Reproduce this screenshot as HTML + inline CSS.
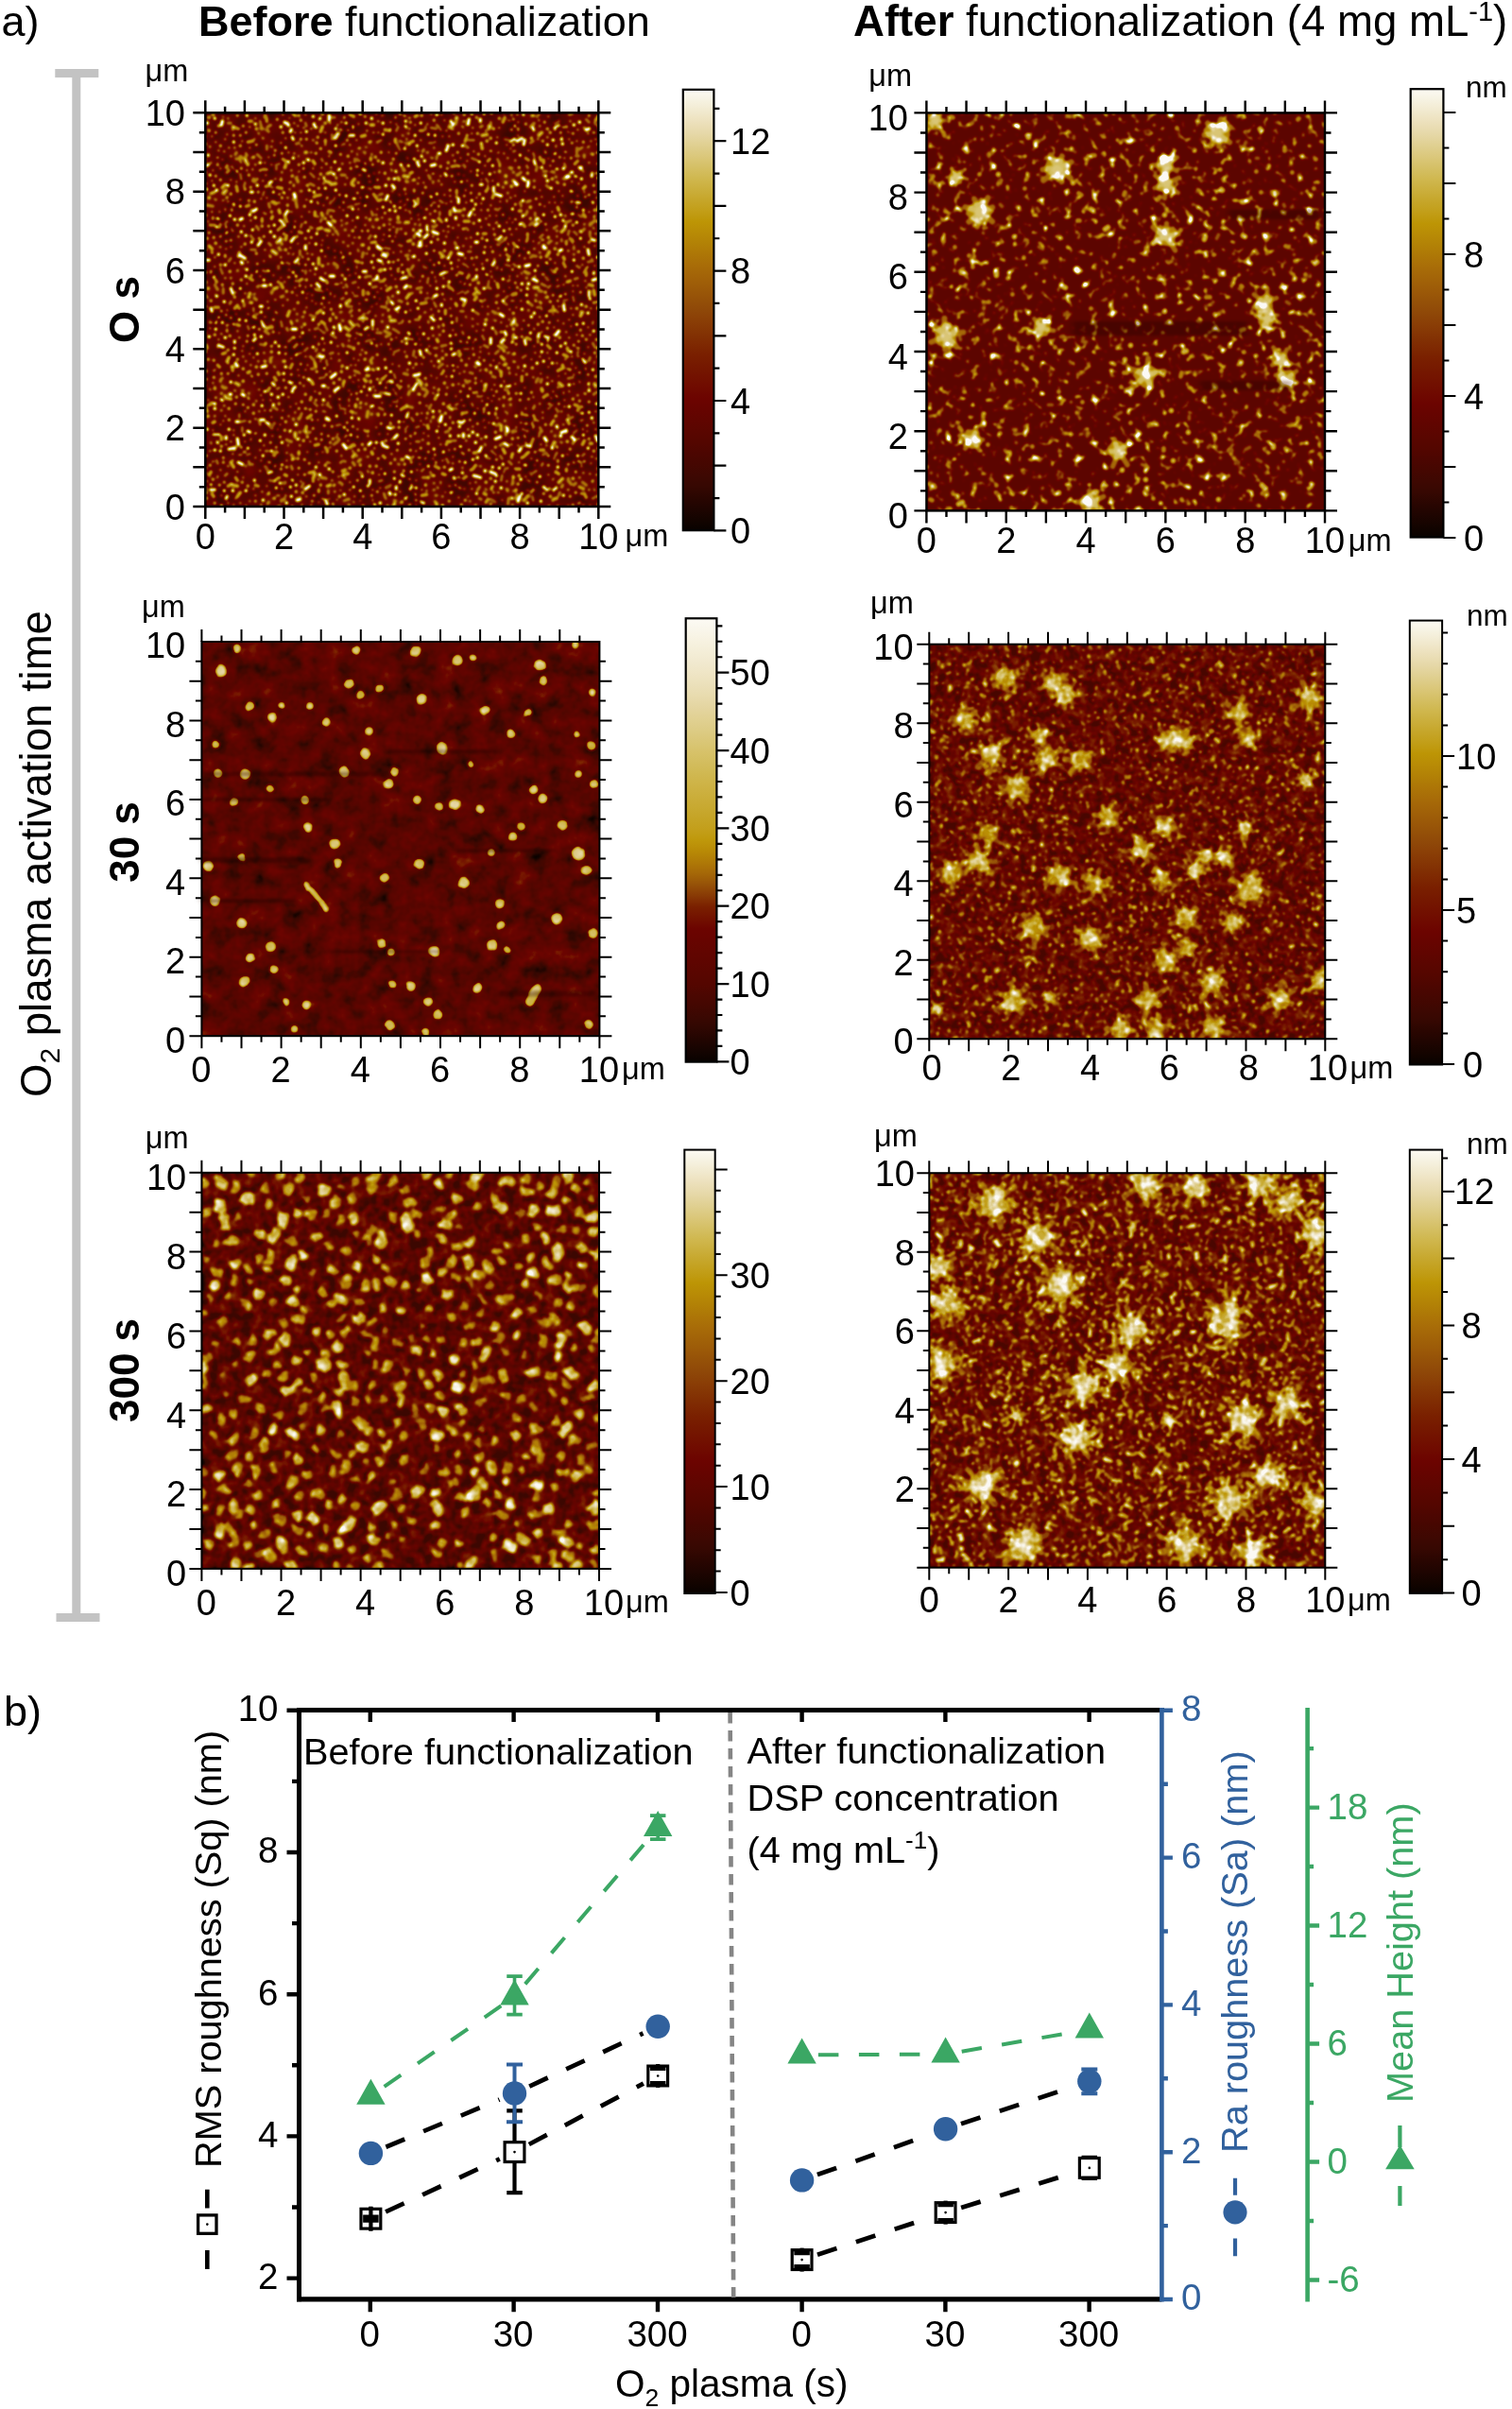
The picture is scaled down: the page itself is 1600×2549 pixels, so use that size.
<!DOCTYPE html><html><head><meta charset="utf-8"><title>AFM figure</title><style>html,body{margin:0;padding:0;background:#fff}svg{display:block}</style></head><body>
<svg width="1600" height="2549" viewBox="0 0 1600 2549" font-family="Liberation Sans, Arial, sans-serif">
<rect width="1600" height="2549" fill="#fff"/>
<filter id="sb" x="-5%" y="-50%" width="110%" height="200%"><feGaussianBlur stdDeviation="3 1.6"/></filter>
<text x="1.5" y="37.5" font-size="45" text-anchor="start" font-weight="normal" fill="#000" >a)</text>
<text x="210" y="37.5" font-size="45"><tspan font-weight="bold">Before</tspan> functionalization</text>
<text x="903" y="37.5" font-size="45.6"><tspan font-weight="bold">After</tspan> functionalization (4 mg mL<tspan font-size="29" dy="-16">-1</tspan><tspan dy="16">)</tspan></text>
<path d="M58.3 77.5H104.3M80.8 77.5V1711.5M59.5 1711.5H105.5" stroke="#c3c3c3" stroke-width="9" fill="none"/>
<text transform="translate(54,1161) rotate(-90)" font-size="45.5">O<tspan font-size="30" dy="9">2</tspan><tspan dy="-9"> plasma activation time</tspan></text>
<text transform="translate(146.5,327.5) rotate(-90)" font-size="44" font-weight="bold" text-anchor="middle">O s</text>
<text transform="translate(146.5,891) rotate(-90)" font-size="44" font-weight="bold" text-anchor="middle">30 s</text>
<text transform="translate(146.5,1450) rotate(-90)" font-size="44" font-weight="bold" text-anchor="middle">300 s</text>
<filter id="f1" filterUnits="userSpaceOnUse" x="217.3" y="119.3" width="416.00" height="416.70" color-interpolation-filters="sRGB"><feTurbulence type="fractalNoise" baseFrequency="0.04" numOctaves="2" seed="3" result="t"/><feColorMatrix in="t" type="matrix" values="0.35 0 0 0 -0.08 0.35 0 0 0 -0.08 0.35 0 0 0 -0.08 0 0 0 0 1" result="n0"/><feGaussianBlur in="n0" stdDeviation="0.5" result="n"/><feDisplacementMap in="SourceGraphic" in2="t" scale="2.5" xChannelSelector="R" yChannelSelector="G" result="sd"/><feGaussianBlur in="sd" stdDeviation="0.9" result="b"/><feComposite in="n" in2="b" operator="arithmetic" k1="0" k2="1" k3="1" k4="0" result="h"/><feComponentTransfer in="h"><feFuncR type="table" tableValues="0.031 0.076 0.122 0.167 0.212 0.241 0.271 0.300 0.329 0.353 0.376 0.400 0.424 0.437 0.451 0.465 0.478 0.499 0.520 0.540 0.561 0.585 0.610 0.634 0.659 0.679 0.700 0.721 0.741 0.760 0.778 0.797 0.816 0.837 0.859 0.880 0.902 0.924 0.945 0.967 0.988"/><feFuncG type="table" tableValues="0.008 0.014 0.020 0.025 0.031 0.029 0.027 0.025 0.024 0.022 0.020 0.018 0.016 0.043 0.071 0.098 0.125 0.165 0.204 0.243 0.282 0.318 0.353 0.388 0.424 0.464 0.504 0.544 0.584 0.619 0.653 0.687 0.722 0.753 0.784 0.816 0.847 0.880 0.914 0.947 0.980"/><feFuncB type="table" tableValues="0.000 0.002 0.004 0.006 0.008 0.006 0.004 0.002 0.000 0.000 0.000 0.000 0.000 0.000 0.000 0.000 0.000 0.008 0.016 0.024 0.031 0.031 0.031 0.031 0.031 0.028 0.025 0.023 0.020 0.093 0.167 0.240 0.314 0.400 0.486 0.573 0.659 0.733 0.808 0.882 0.957"/></feComponentTransfer></filter>
<g filter="url(#f1)"><rect x="217.3" y="119.3" width="415.99999999999994" height="416.7" fill="#1f1f1f"/>
<g transform="translate(217.3,119.3)" fill="none" stroke="#fff" stroke-linecap="round" stroke-linejoin="round"><path stroke-width="3.6" stroke-opacity="0.45" d="M259 309h0M392 270h0M226 239h0M87 90h0M409 364h0M224 282h0M85 392l-3 1M372 125h0M150 69h0M61 27h0M141 129l-2 -4M131 201h0M406 10l-3 -3M312 352l3 -2M152 241h0M82 315h0M387 393l-3 -4M218 323l2 3M38 142h0M141 385h0M287 415h0M67 20l-2 -2M410 222l-0 2M247 344h0M23 382l-2 2M44 181h0M62 352h0M123 189h0M203 304h0M199 121h0M157 412h0M208 141l-3 -1M151 294h0M117 202h0M5 228h0M193 340h0M406 399h0M390 199l-1 -4M288 300l4 -0M304 72h0M259 323h0M265 300h0M262 17h0M255 246l-5 1M116 171h0M48 346h0M242 399h0M341 175h0M248 235h0M372 0l1 -2M262 371h0M156 180l3 -1M405 158l5 -1M400 381h0M248 108l-0 -3M408 207h0M173 133l2 -3M51 259h0M111 64l4 4M411 122h0M253 198h0M309 49l2 4M15 105h0M369 227h0M160 163h0M354 82h0M27 348h0M119 325h0M199 229h0M329 277h0M407 416h0M296 56h0M62 254h0M45 158h0M239 309l-2 5M365 56h0M23 291l-4 -2M110 230h0M35 278h0M38 52l-2 -4M396 284h0M341 58l-1 -2M98 139h0M354 216h0M308 165l0 -2M316 0h0M194 42h0M64 66h0M366 63l3 1M13 385h0M153 391h0M196 394l-5 2M121 281l5 -1M96 33l3 -1M152 130h0M195 118h0M68 100l-1 -4M280 392h0M269 179h0M171 19h0M216 146h0M39 30h0M374 205h0M101 21h0M106 170l-0 -3M127 21h0M16 405h0M167 221l-1 -3M35 131h0M45 226l1 3M356 89h0M202 238h0M157 260h0M128 187h0M344 93l-3 1M48 130l3 4M36 322l0 -3M102 35h0M155 41h0M184 340h0M303 292h0M111 338l-4 1M27 71h0M255 96h0M137 5l-5 0M390 331h0M181 184l-4 1M319 390h0M14 240h0M163 90h0M312 101h0M146 103h0M354 258h0M346 204l-4 -3M374 83h0M332 135h0M77 162l-0 2M132 11h0M130 160h0M198 293h0M339 385h0M223 333l3 -1M151 247l3 1M283 218h0M387 114l-5 2M398 374l-1 -4M307 255l3 -3M405 227h0M272 375h0M161 45h0M287 231h0M369 89h0M70 264l0 -4M319 94h0M345 366h0M303 174l-0 -2M117 252l1 -2M247 269l4 -3M26 202l1 -2M132 354h0M65 39l0 -4M384 399h0M43 43h0M156 191h0M283 310l-1 -2M35 168h0M226 156h0M49 249h0M156 285h0M206 401h0M393 30h0M123 49l1 2M199 148h0M159 121h0M123 140h0M21 175h0M99 278h0M7 105h0M215 22h0M184 197h0M10 321h0M172 364h0M343 381l2 2M414 90h0M277 51h0M70 191l2 -2M31 159h0M98 383h0M63 216h0M37 46l3 2M268 156h0M100 237h0M174 210l-2 2M23 209h0M144 9h0M187 307h0M220 162l-2 3M385 125l-1 4M230 346h0M25 37h0M308 109h0M345 261h0M162 262h0M102 110h0M365 183l-2 2M57 22h0M308 234l-1 -3M245 49l1 -3M300 255h0M395 46l-3 0M29 268l2 1M65 90h0M147 33l-3 1M177 259l-1 4M238 380l2 4M205 223h0M108 149h0M43 263h0M301 109h0M362 26h0M125 75h0M373 211l-2 -2M94 11h0M45 213h0M320 48h0M337 220h0M239 208h0M118 310l-3 -3M107 196h0M43 416h0M55 70l-3 3M258 357h0M140 247h0M363 383h0M175 173h0M406 53h0M393 130l-3 -4M355 276h0M281 142h0M304 210l4 2M331 66l3 -3M306 155h0M350 61l1 -4M24 6h0M191 183h0M334 199h0M8 369h0M27 142h0M37 92h0M1 179l-2 5M287 90h0M330 173h0M274 274h0M136 104l-4 -1M80 222l1 4M350 152l-4 -1M39 252h0M229 399h0M347 136h0M324 129h0M216 34l-4 -2M184 63h0M101 121l1 -3M393 37l0 6M24 95h0M119 110h0M342 209h0M144 211h0M127 152h0M67 138l2 2M289 213l-3 -2M355 351h0M74 198h0M133 260h0M46 369l1 3M392 392l-2 2M415 54h0M311 303h0M72 172h0M106 258h0M15 341h0M141 255h0M68 389l4 1M19 93h0M411 328h0M80 410l4 -2M130 103l-1 4M27 46h0M299 205h0M303 305h0M159 239h0M108 191h0M103 153h0M348 310l-1 2M329 123h0M243 95l-3 -0M293 305h0M144 198l2 -1M217 350h0M126 233l-4 -2M196 250h0M268 56h0M186 233l-5 -0M386 9h0M207 123h0M146 290h0M372 184l2 -1M321 399l-2 -1M255 18h0M210 276l4 1M255 279h0M385 295h0M258 25h0M297 399h0M271 225h0M256 291h0M273 234l-1 -2M0 50l-3 3M122 262h0M218 112h0M319 226h0M394 18h0M1 108h0M411 298l3 -3M127 34h0M189 129h0M415 259h0M205 87h0M370 241h0M390 277h0M348 247h0M283 16h0M313 389l1 -5M300 178l-1 6M47 15h0M368 387h0M19 191l0 -5M149 124h0M394 183h0M80 174h0M106 11l1 3M149 182l1 3M242 268h0M120 370h0M307 134h0M110 138h0M196 234l-5 -3M273 109h0M242 249l3 -0M407 259l-1 3M51 398h0M219 312l-4 -1M228 245h0M240 48h0M54 305h0M145 54h0M339 312h0M318 161l4 1M170 111h0M284 161h0M146 313l2 1M370 11l4 -2M223 358h0M412 141h0M284 29l-5 -0M367 284h0M62 84l-1 3M107 206h0M281 132h0M342 40h0M47 361l-3 1M196 113h0M193 88h0M410 408l5 -1M227 178h0M381 109h0M131 409h0M151 348h0M59 48h0M182 31l4 -2M217 106l-1 -2M321 111h0M225 108h0M368 295h0M2 195l-1 -2M365 302h0M163 380l3 3M181 333h0M88 241l4 -3M160 233l3 2M231 74h0M262 230h0M224 234h0M60 284h0M16 59h0M55 184l2 -1M293 64h0M37 413h0M208 31l-2 -1M318 326h0M143 370l2 -2M76 335h0M280 411h0M227 119h0M364 415h0M88 166h0M50 60h0M252 125h0M362 177l-2 -3M288 313h0M153 399h0M305 123h0M102 83h0M385 238h0M325 415h0M321 254h0M313 222h0M385 219h0M82 204h0M339 348h0M74 269h0M249 68h0M239 1h0M99 73l-2 -5M296 352h0M49 103l-1 2M199 256h0M212 338l0 -4M202 13h0M6 53h0M81 63h0M58 330l-1 -5M79 132l2 5M58 379h0M214 332h0M196 11h0M195 33h0M100 323l2 -5M178 78h0M347 301h0M110 105h0M286 269h0M58 245l5 1M172 342h0M348 11l-4 4M188 221h0M293 236l2 4M267 308l-2 1M22 144h0M381 276h0M34 380h0M59 299h0M29 125l-2 -2M50 372h0M209 24h0M213 73l2 0M88 352h0M116 238h0M198 83h0M137 153h0M332 370h0M16 378h0M186 245h0M76 314l-5 -3M364 95h0M400 61h0M89 6h0M267 132h0M233 18l-0 -3M384 387h0M240 197l2 -3M165 312h0M241 296h0M142 100h0M86 360h0M130 307h0M195 310h0M320 318l-2 -1M36 362l2 0M328 218h0M413 335h0M236 175l-1 5M415 33l2 1M390 287h0M80 195l3 -1M5 399h0M401 16h0M86 368h0M48 267h0M99 62h0M262 122h0M311 16h0M16 330h0M405 248h0M361 352h0M255 131h0M381 173h0M374 405l1 -3M401 142h0M347 410l-1 -3M249 391h0M408 371h0M256 268h0M305 262h0M326 160l2 2M143 399h0M251 252h0M42 326l-4 1M71 259h0M393 88h0M399 325l-2 1M241 236h0M185 397h0M371 313l2 3M415 115l-3 -1M151 100l4 -1M107 406h0M364 138l2 -2M141 309l2 4M53 365h0M278 164l-3 -3M406 105h0M363 313l4 -4M237 247h0M13 371l-1 -3M166 251h0M379 223h0M267 65h0M266 11l1 -4M197 172h0M118 361h0M306 178h0M13 187l-3 -5M292 96h0M253 87h0M371 342h0M120 70h0M416 16h0M50 72l1 -2M8 61h0M354 333l2 4M120 388h0M389 183h0M296 198l-3 2M325 144l0 4M71 342h0M112 271l2 0M323 58l2 1M291 15l2 -1M177 399h0M99 46h0M162 12h0M236 222h0M329 333h0M284 41h0M239 278h0M172 322l1 -6M348 144h0M197 361h0M319 248l-4 -3M229 379l2 -2M130 403l-0 -3M357 317h0M306 411l-4 -2M201 176h0M372 265h0M380 311h0M394 175l-3 1M80 32h0M219 191h0M142 262h0M0 289h0M153 211l2 -2M389 214h0M283 276l-3 -1M88 149h0M32 408h0M307 362l-4 -4M297 287l-2 1M162 146h0M370 169h0M151 141h0M334 328h0M178 299l5 1M88 321h0M320 376l-3 1M90 143h0M182 102h0M278 37l-4 -3M156 370l2 3M139 135h0M246 396h0M27 175h0M330 404l-1 4M88 301h0M178 120h0M372 119l-3 3M341 400h0M171 299h0M213 47h0M57 293h0M275 283h0M129 130h0M11 31h0M16 142h0M108 359h0M373 220h0M42 316h0M384 415h0M302 167h0M292 345h0M58 9l1 5M69 13l-3 2M215 289h0M264 73h0M211 253h0M323 38h0M242 37h0M291 374h0M249 17l-3 -3M42 348h0M328 41l-2 1M178 64h0M251 25h0M265 347l-3 0M68 412l-2 1M91 105h0M5 292h0M382 198h0M307 102l3 1M152 310h0M245 405h0M155 228h0M146 137h0M235 191h0M127 226l2 4M320 413l1 -5M70 36h0M381 261h0M47 411h0M247 227h0M24 413h0M148 369h0M372 68h0M78 96h0M302 186l-3 -1M66 200h0M98 220h0M394 258l-0 -5M147 158h0M95 115h0M292 103h0M259 88h0M384 281l5 -1M148 318h0M125 97h0M273 141h0M306 63h0M415 377h0M150 117h0M47 297h0M262 45h0M106 272h0M93 150h0M291 253h0M173 73h0M351 206l4 -0M30 336h0M28 393h0M226 51h0M357 129l-3 3M322 186h0M350 285l2 -4M292 284h0M120 413h0M341 336l-5 -1M95 185h0M54 198l-1 -2M207 301h0M133 58h0M331 270h0M273 310h0M213 28h0M273 15h0M251 368h0M311 329l-3 2M20 310h0M348 126h0M226 113h0M310 141l-1 -2M278 335h0M352 326h0M52 286h0M354 338l-1 4M84 179h0M309 26h0M188 160h0M78 233h0M82 2h0M158 406h0M343 118l4 -2M348 229h0M314 137l-2 1M352 28h0M247 332h0M229 266h0M48 145l5 -0M234 324h0M320 195l-2 2M183 21h0M44 61h0M237 32l3 0M153 34h0M59 415h0M406 36h0M7 72h0M139 410h0M245 280h0M42 74l-1 4M131 46h0M1 376h0M159 267h0M86 346l5 2M380 54l1 3M70 322h0M274 9h0M180 215h0M377 349h0M286 391h0M63 374l3 5M184 383h0M220 364l-3 3M148 76h0M412 265h0M65 395h0M90 311h0M163 66h0M193 195l1 2M214 272h0M148 411l4 -2M336 352h0M59 91h0M250 2h0M267 163h0M302 10l0 5M217 209h0M339 257l-3 2M401 255h0M225 40h0M409 155h0M223 389h0M64 358l2 0M97 100l-1 -5M107 92h0M275 57l-2 -2M344 32l3 -2M382 232h0M108 267h0M273 210l-3 -0M137 401h0M389 189h0M226 372h0M221 252l-1 5M281 62h0M196 19h0M212 103h0M200 410l2 1M380 304h0M70 79l-1 -2M373 291l4 0M316 284h0M229 135l-0 6M238 183h0M21 28h0M359 99h0M378 88h0M271 320h0M348 49h0M351 193h0M363 4h0M274 398h0M188 296l-3 0M132 300h0M67 234l-4 -3M161 363h0M238 255l-4 -3M0 25h0M349 72h0M413 316h0M172 80l3 1M377 95h0M173 236h0M347 43l1 3M357 362l4 -2M309 323h0M349 106l0 3M328 287h0M205 372h0M384 320h0M354 14h0M104 16h0M293 299h0M308 194l2 -1M58 173h0M188 214h0M140 13h0M27 11l-3 0M112 42h0M34 231h0M347 280h0M172 380h0M155 205h0M94 43h0M24 374h0M43 374h0M23 115l-3 3M282 48l5 2M130 291h0M74 390h0M296 333h0M116 295h0M164 411h0M238 107h0M256 34h0M58 357h0M388 265h0M394 299h0M228 326h0M302 142h0M78 54h0M388 258h0M134 28l0 -5M30 415h0M319 203l-3 -2M243 31h0M390 150h0M152 172h0M412 11l2 2M236 342h0M205 268h0M307 220h0M18 297h0M387 226h0M412 399h0M190 144l5 1M377 396l2 -2M176 205h0M197 346h0M23 23h0M212 86h0M1 205h0M259 207h0M234 400h0M191 286h0M177 410h0M278 406h0M293 205h0M101 338h0M52 192h0M372 361l-3 5M115 262l-4 -4M327 63h0M350 379l-3 2M231 339h0M344 153l3 -1M216 297l1 -3M226 69h0M39 333l-0 4M140 340h0M288 223h0M407 235h0M297 112h0M335 229h0M234 61h0M393 162l3 2M32 294h0M357 323h0M129 266l-1 -4M187 3h0M104 289h0M17 315h0M392 336l-2 3M407 119l4 -4M85 27h0M349 173h0M294 326h0M228 29h0M222 13h0M40 386h0M377 316h0M250 77h0M19 4h0M32 190h0M338 291h0M399 37l-5 2M357 371l-1 2M78 405l-2 0M379 182h0M323 90h0M59 368h0M270 48h0M18 170l-2 -5M14 40h0M198 266h0M60 401h0M273 66h0M254 338l3 -1M124 135h0M106 184h0M316 190h0M220 270h0M353 2l-2 2M29 361h0M212 151l3 -0M158 132h0M176 105l1 3M221 130l0 2M249 351h0M95 21h0M343 170l-4 -2M47 37h0M136 159l4 3M53 55h0M86 228l1 2M316 380h0M55 44l2 2M53 6h0M116 230l3 -1M245 119l-3 2M234 141h0M182 190h0M384 21h0M145 66l3 0M268 287h0M21 103h0M233 163l-2 -1M3 304h0M122 115l1 -2M163 202h0M317 28l3 1M278 124l-2 -2M361 77l2 2M307 280l-3 -1M97 193h0M278 147l3 -0M316 79h0M98 272h0M94 208h0M299 77h0M171 308h0M299 248l-4 -2M113 193h0M126 244h0M132 255l3 -1M367 338h0M204 211h0M322 173h0M215 317h0M282 22h0M335 170h0M146 186h0M162 283h0M55 213l-5 2M156 138h0M161 224l2 2M380 48h0M160 29h0M205 233l-4 -3M240 417h0M177 265h0M70 55h0M89 160l-3 -1M264 137l1 2M277 72h0M372 131h0M319 34h0M41 205l-0 -4M268 119h0M384 146h0M164 256h0M130 143h0M220 173h0M158 278h0M233 197l3 -1M273 250l5 0M235 12h0M330 225l-3 -4M401 123l-4 4M325 393l1 -5M393 235h0M292 121h0M148 387l-3 -3M19 326h0M134 389h0M28 57l1 2M401 84h0M371 35h0M114 59h0M10 153h0M283 332h0M57 316h0M170 243l4 -2M283 243h0M299 213h0M285 108h0M387 207h0M314 366l-2 -3M222 219l4 -0M337 144h0M168 213l-2 3M328 51h0M325 116h0M101 390h0M354 148h0M362 254h0M267 269h0M324 309h0M71 30h0M36 238h0M62 157h0M89 81h0M51 207l-0 3M373 416h0M311 273h0M407 382h0M132 370l-3 0M125 316l2 1M184 87l3 -1M338 154h0M78 291l-2 1M401 361l-2 2M33 42l-1 2M203 33h0M17 234h0M118 258l3 -3M314 410h0M209 220l-1 2M310 42h0M307 85h0M191 408h0M275 154h0M180 294h0M152 305l0 -2M163 51l-5 -1M155 215h0M142 330l-3 1M334 99l-1 -3M238 70l-2 -3M363 48h0M388 73h0M188 135h0M100 147l-0 4M111 167h0M100 352h0M97 213h0M198 306l5 -0M228 100h0M176 44h0M407 131l-0 -5M81 398h0M104 216h0M319 116h0M67 47h0M389 350l2 -4M40 258h0M138 238l-5 -3M280 284l-4 1M22 351h0M385 28h0M13 248h0M61 167l3 1M48 114h0M41 120h0M276 216h0M257 370l-2 -4M276 347h0M181 202h0M187 111h0M370 18h0M267 191l5 -2M324 351h0M379 297h0M276 95h0M320 85h0M258 394h0M310 402h0M184 313l4 2M1 75h0M108 249l-3 3M154 267h0M95 317h0M224 378h0M53 324h0M144 180h0M25 157l2 -3M374 279h0M369 235h0M8 99l-5 -1M310 207h0M395 74h0M395 345h0M113 199h0M93 92l4 0M102 415h0M106 2h0M238 156h0M114 29h0M90 126h0M242 290h0M201 132h0M331 10h0M405 22h0M0 381h0M94 324h0M8 286h0M124 309h0M242 392h0M401 118h0M206 39l-3 -5M56 263h0M394 108l4 2M301 366l-3 -1M232 300l3 -4M88 42h0M379 330h0M162 185h0M343 72l-1 2M207 147h0M17 284l1 -3M183 9h0M63 145h0M142 391l3 2M1 146h0M354 188l2 1M0 395l1 3M202 127l1 -4M69 305h0M269 276h0M244 205l-2 -4M91 60h0M342 390l-1 -1M224 186l5 -1M87 198h0M365 166l2 3M137 195h0M161 194l-3 -0M132 95l3 -3M402 45l-1 2M206 93h0M146 220h0M404 337h0M85 405h0M318 338l-0 3M403 394l-4 -3M31 37h0M356 232h0M290 259h0M142 346l-3 -3M279 260h0M330 2h0M283 250h0M324 372l-3 -3M227 227h0M243 174h0M91 260h0M197 61h0M377 134l-0 2M6 350h0M353 138h0M251 406h0M38 70l-1 -5M185 179l-3 -5M234 310h0M239 327h0M79 330h0M299 302h0M312 151h0M162 102h0M158 52h0M159 170h0M140 164h0M311 416h0M325 338l4 -1M149 204l3 1M40 294h0M260 94h0M389 322l-5 2M206 199l2 1M254 401h0M160 318h0M144 362h0M336 273h0M33 73h0M367 105h0M253 162h0M291 248h0M248 93l3 2M101 254l-3 1M362 280h0M47 255h0M252 175h0M290 397l-2 2M162 96l-3 1M126 206h0M123 58h0M297 19h0M135 129h0M306 288h0M400 415h0M244 179h0M354 308h0M11 92h0M275 191l3 -2M402 178h0M268 407h0M266 314l-5 -1M211 97h0M63 53h0M273 160h0M162 290h0M210 327h0M300 328h0M202 20l2 -4M7 25h0M181 1h0M222 416h0M257 126h0M75 60l0 -5M192 202l0 -2M187 389l-3 1M5 358h0M292 32h0M82 139h0M410 244l2 4M115 77l-4 -2M383 362h0M370 159h0M399 161h0M380 70l4 -2M413 128h0M335 316h0M413 28h0M222 118h0M253 8h0M199 194h0M414 366h0M153 416l-0 3M356 208h0M282 398h0M165 367l-2 2M21 321h0M127 170h0M231 39l-1 2M102 396l2 -4M178 21h0M338 83h0M177 319h0M10 163h0M206 116l-3 -0M20 41h0M102 227h0M112 17h0M293 160h0M145 119h0M364 260h0M5 36h0M205 251l-5 2M133 312l-4 -3M412 163h0M124 359h0M137 122h0M166 153l1 -5M216 17h0M260 197h0M316 43h0M290 408l2 1M356 282l-1 3M63 315h0M322 208h0M372 138h0M283 226h0M266 221l0 -4M349 254h0M202 297l-2 -1M241 131h0M61 304h0M137 296h0M169 43h0M18 50h0M305 402h0M223 259h0M161 335h0M73 328l-2 3M144 114h0M61 17l-2 -1M136 146h0M247 73h0M341 104l-2 4M233 212h0M225 75h0M348 373h0M322 276h0M396 386h0M171 37h0M322 219h0M231 291l4 4M171 149h0M324 199l2 0M29 368h0M128 387l-4 -1M91 362l3 4M111 348h0M223 348l3 0M136 90h0M42 191h0M96 308h0M236 42h0M312 95h0M390 144l0 -2M302 98h0M231 330h0M186 377h0M24 265h0M3 114h0M414 383h0M186 205l5 1M111 121l2 1M43 49l1 -4M156 358h0M40 247h0M229 318h0M297 70l2 3M56 124l-2 -3M156 114h0M142 224h0M169 119h0M62 106l2 1M294 230h0M153 53h0M296 46h0M230 386l3 0M189 402l1 4M363 269h0M292 71h0M74 70h0M211 61l-3 -4M70 334l-3 -3M113 150h0M271 304h0M317 293l3 1M245 13h0M328 88h0M111 214l5 2M388 1l-3 1M145 245l1 2M80 153h0M52 28h0M329 206h0M0 233h0M361 123h0M132 274h0M240 366h0M239 263h0M241 214h0M331 352h0M320 178l2 -1M2 389h0M380 203l-1 -5M179 355h0M169 174l3 -1M163 275l-5 -2M353 8h0M370 95h0M324 0l0 3M291 273h0M181 108h0M61 72h0M98 14h0M178 289h0M136 351l4 -3M239 16l5 1M33 49h0M186 186h0M80 145l-1 -2M10 272l-1 1M321 8h0M191 237l4 -2M201 281l-1 -3M331 24h0M262 364h0M30 341h0M8 336h0M408 30h0M182 229h0M356 181l4 2M241 74h0M311 265h0M361 62l-3 0M29 18l-0 -3M92 377l-1 -3M276 133h0M53 405h0M403 185h0M32 213h0M368 213h0"/><path stroke-width="4.0" stroke-opacity="0.6" d="M331 393h0M375 47h0M5 90h0M116 382l-2 5M319 67h0M332 58h0M257 53h0M1 363h0M120 401l-0 -2M125 251h0M1 282h0M341 200h0M293 24l5 -1M8 328l2 -1M4 19h0M143 148h0M45 312h0M15 394h0M254 383l-3 -1M132 74l-5 -2M190 176l-2 2M14 206l-4 -0M304 396l-1 2M262 328h0M416 355h0M325 361l-1 4M150 328h0M276 317l-4 1M122 394h0M270 242h0M104 280h0M145 268h0M216 221h0M69 349h0M277 175l2 -3M11 67h0M196 94h0M23 56l-1 2M99 376h0M154 59h0M398 403h0M253 146h0M45 236h0M256 59h0M184 122h0M325 345h0M5 222h0M114 390h0M268 252l2 4M123 221l3 2M193 150l-6 1M310 246l4 3M178 240h0M295 263h0M200 380h0M123 346h0M289 180h0M64 244h0M96 342l0 -3M11 301h0M350 91h0M269 397h0M172 67h0M30 24h0M63 263h0M210 379h0M231 259h0M106 313h0M297 273h0M247 99h0M365 200h0M134 332h0M22 63l2 -2M405 277h0M260 148l-2 4M160 57h0M346 270h0M40 14h0M196 371h0M106 116h0M67 120h0M98 201h0M286 281h0M49 279h0M167 406h0M305 299h0M406 3h0M25 325h0M389 22h0M165 25l4 -1M75 212h0M383 249l1 3M341 130l0 -2M54 34h0M313 232h0M373 273l4 -2M119 26h0M11 21h0M54 149h0M178 151h0M302 40h0M221 71h0M381 192h0M222 404h0M201 367h0M409 350l-2 0M16 71h0M284 360l6 -1M259 334h0M157 4l-4 -2M118 32h0M36 148l-1 4M297 128l-3 -0M298 30h0M313 279l0 -4M87 215l2 -5M373 100l1 3M162 74h0M379 256l4 2M298 156h0M127 112h0M26 236h0M402 78l-2 2M13 48h0M76 79l5 1M347 399l-2 3M268 386h0M350 199h0M42 81h0M27 86h0M316 301h0M207 290h0M161 389h0M319 150l2 2M181 247h0M176 405h0M175 113h0M373 369h0M249 57h0M77 179h0M111 314h0M153 199l-4 3M3 321h0M16 161h0M154 221l3 4M297 391h0M395 412h0M388 32h0M86 189h0M402 110l-2 -3M373 74h0M362 17h0M371 300h0M314 108h0M124 1h0M286 186h0M60 112l-0 3M320 140h0M351 243l0 -2M182 113h0M229 405l5 -1M178 87l3 4M382 136l0 3M316 252h0M56 84h0M68 291l-2 3M44 242h0M22 300h0M51 318h0M266 204l-1 -2M206 1h0M248 316h0M217 10h0M259 348l-3 -0M255 298h0M412 84h0M167 188l-0 5M190 320h0M184 79l-4 -0M63 3l-0 2M24 251h0M334 188h0M123 340h0M91 277h0M213 196l3 -4M116 187l4 1M142 87h0M284 192l4 -3M41 359h0M136 286h0M188 363l2 2M256 169h0M177 55h0M183 366h0M73 186l3 -1M305 17h0M34 261h0M118 274h0M162 357h0M182 256h0M189 119h0M274 102h0M208 242h0M92 190h0M383 348h0M70 112l1 -2M4 127h0M246 134h0M163 132h0M264 356h0M276 243h0M117 304h0M86 384l-2 -1M262 288h0M33 78l1 5M40 309h0M252 273l-2 3M81 43h0M295 293l2 -5M399 335h0M345 27h0M177 381h0M394 315l1 -2M297 404l-2 -1M133 208h0M18 79l3 -3M198 137h0M62 131h0M199 49h0M363 132h0M372 177h0M307 338h0M102 176l-3 2M43 99l3 -1M169 4h0M97 131h0M355 201h0M121 297h0M19 370h0M87 98h0M26 217h0M56 395l-3 -1M389 303h0M71 94l4 3M215 155h0M394 249h0M81 91h0M396 396l4 2M145 172h0M205 71l-1 -2M92 266l-2 4M329 297h0M65 9l0 -3M9 280h0M281 378h0M411 77h0M207 176h0M1 246l1 3M329 245h0M271 262h0M273 204l2 -4M340 136l1 -3M283 177l4 -2M389 137l-3 -4M276 267h0M207 315l3 -2M80 377h0M111 304l1 -3M265 235h0M347 3h0M356 292l1 2M143 44h0M139 69h0M387 95h0M368 193h0M178 13l-3 -0M286 286h0M329 192l-5 1M128 277h0M416 415h0M107 42h0M80 70h0M328 97h0M211 67l4 1M273 361l-2 -1M82 185l-2 -4M169 261h0M365 155h0M81 323h0M415 249h0M384 271l2 0M204 165l-0 3M284 256h0M153 280h0M161 343h0M102 127l-3 -1M279 115l-5 -0M15 118l-1 3M141 303h0M396 305h0M326 212h0M84 58l1 -3M182 71h0M52 94h0M13 267l2 2M369 326l-3 4M326 235l0 3M234 287h0M178 164h0M301 49l-2 2M29 181h0M9 406l-2 -3M175 50l0 -2M23 226h0M259 82h0M211 81h0M190 291h0M266 82l-0 3M247 293h0M342 359l-3 3M221 82h0M332 384h0M14 14h0M242 384h0M402 271h0M390 246h0M410 45h0M120 224h0M127 373h0M26 168h0M194 70h0M169 54h0M120 245h0M403 170l0 3M328 377l5 0M364 222h0M65 228l4 -1M225 95h0M129 90h0M166 351h0M85 291h0M236 334l-1 -3M174 374h0M106 298h0M397 190h0M296 142h0M233 79h0M184 167l2 -1M338 120l-3 -4M27 135h0M348 79h0M211 372h0M364 210l5 -2M331 344h0M330 185h0M316 267l2 -1M159 311l-0 -2M19 365h0M280 291h0M252 308h0M72 146l4 3M166 159h0M288 329h0M45 31l5 -1M374 308h0M227 216h0M161 303h0M194 245h0M368 51h0M222 339h0M359 41h0M85 134l1 -4M363 308h0M416 99l-0 4M317 360l-2 -4M266 89h0M83 283h0M132 218l-0 2M13 55h0M73 45h0M9 0l-1 2M58 61h0M108 343h0M325 78h0M105 211h0M138 276h0M57 133h0M345 296h0M99 361l0 -2M100 183h0M42 139h0M196 216h0M51 47h0M410 183l-4 -1M73 374h0M352 224h0M190 18l5 1M146 95h0M243 303l2 -4M327 264h0M34 119h0M213 258h0M171 218l-4 -1M401 89h0M46 9l3 -0M251 260h0M112 183h0M6 380l-2 3M72 363l2 -4M220 30l-4 2M32 354l-1 2M259 108l0 -4M88 174h0M192 188l4 -3M105 368h0M254 209l0 4M215 388h0M213 92h0M381 41h0M318 133l-1 2M278 44h0M9 262h0M341 64h0M378 289l-4 -2M122 38h0M29 273l-1 -4M211 3h0M308 201h0M271 415h0M46 302h0M335 365l2 -1M308 116h0M365 249l-3 -3M374 382l-3 -2M78 308h0M158 70l-3 4M199 333h0M1 274l-3 -0M214 136l3 -1M127 11h0M169 356h0M332 104l2 0M227 19l3 -0M69 315h0M212 128h0M310 185l-1 -4M401 369h0M228 190h0M130 64l3 -1M117 345h0M326 138l2 3M243 361h0M79 343h0M102 245h0M99 55h0M372 165l-3 3M347 320l2 5M34 3h0M8 387h0M182 401h0M300 118h0M105 383h0M304 90l1 -3M316 310h0M4 141l3 3M236 386h0M248 327h0M413 287l1 2M150 235l3 1M133 110h0M264 51h0M247 376l-4 -2M299 103h0M72 220h0M321 297h0M175 284h0M131 125l-4 -1M131 41l2 1M11 138h0M342 406h0M326 229h0M252 225h0M84 263h0M151 46h0M392 380h0M410 390h0M376 22h0M115 405h0M190 106h0M360 190h0M150 18h0M114 51l2 3M197 54h0M363 363h0M338 342h0M227 297h0M7 148h0M359 10h0M315 10l2 -5M54 17h0M202 43h0M46 93h0M163 209h0M167 417h0M302 414h0M33 301h0M358 53l-0 -3M16 131h0M109 155h0M177 361l-1 -2M289 44h0M101 28h0M412 110h0M170 254h0M254 318h0M223 266h0M365 405h0M101 266h0M326 7h0M242 146h0M12 179l-1 -2M167 140h0M339 328h0M335 279l0 5M416 3l-3 5M312 56h0M76 359h0M242 323h0M78 87h0M65 276h0M43 21h0M286 240h0M295 313l-1 4M268 22h0M382 379l-0 -2M169 336l3 1M250 115l-3 -3M349 185l3 0M38 177h0M244 257h0M395 147h0M69 152h0M120 80h0M244 412l1 3M139 358h0M147 284l-1 3M105 68h0M123 106l1 3M378 387l-4 4M5 373h0M178 272h0M183 320h0M155 76l2 1M412 103h0M149 192h0M276 385l-3 2M202 184h0M102 167h0M406 87h0M327 255h0M400 31h0M304 147h0M411 21h0M92 66h0M414 240h0M275 30l1 -3M172 192l-0 -2M389 119h0M297 83l2 -3M7 85l3 -1M227 276h0M344 112h0M96 401h0M73 408h0M332 151h0M364 397h0M236 239h0M212 116l3 -0M37 35h0M252 231h0M137 115l-2 -1M344 240l-4 -2M280 325h0M166 125h0M142 406h0M156 125h0M415 207h0M28 103h0M224 3l-2 1M413 279h0M397 126h0M117 43h0M173 144h0M313 336l-0 -5M355 115h0M331 17h0M164 38h0M358 301l4 -3M95 178h0M284 296l3 -1M73 280l2 3M32 308h0M258 14l2 1M79 106l-1 -3M108 77h0M161 85h0M175 31h0M139 217h0M124 162h0M67 403h0M86 114l-2 -5M406 306h0M357 135h0M151 382l-5 1M46 66h0M280 182h0M76 7h0M23 231h0M186 329h0M414 64h0M202 288l3 4M1 408h0M342 50l-3 -2M218 370h0M242 8h0M25 313h0M226 365h0M217 342h0M203 357h0M328 112h0M362 228h0M335 237h0M323 303h0M270 295h0M382 15l-3 1M75 354h0M261 315l-4 -4M217 184h0M50 216l3 1M93 1l2 2M245 240l1 2M351 391h0M323 18h0M45 55l-1 -4M250 153h0M115 89h0M25 259l-2 4M230 85h0M399 351l2 -4M253 375h0M24 276h0M404 331h0M22 136h0M275 82h0M129 359h0M229 287l-3 -4M154 298h0M50 177l-3 -2M236 359h0M244 370h0M275 410h0M204 156h0M222 410h0M349 359h0M381 163l-2 -4M132 192h0M257 120h0M38 59h0M214 202h0M71 227h0M86 375h0M6 168h0M127 29l0 2M172 124h0M286 373l-3 4M321 271h0M70 247h0M395 242h0M99 160h0M31 195h0M339 12h0M85 327h0M37 402l-3 4M108 323l4 -3M262 187l-3 -2M340 319l-5 -0M49 172h0M107 177h0M194 209h0M235 319h0M119 95h0M77 137l3 -3M56 277h0M132 349h0M216 415h0M85 145h0M18 255l3 -1M372 354h0M267 42h0M162 245h0M186 43h0M150 29h0M302 275h0M327 72h0M293 133h0M322 123h0M78 387l-4 2M34 389l-2 -3M260 215h0M290 86h0M148 378l-3 1M201 220l-4 0M135 380h0M106 161h0M142 282h0M247 210h0M10 291h0M263 0h0M116 352l4 -1M389 414h0M117 269l-1 -4M55 160h0M297 412l2 -3M358 403h0M227 307h0M120 154l-0 6M99 313h0M312 62h0M302 268h0M217 357h0M45 275l2 -1M261 57l5 -1M228 355h0M156 364l2 -3M236 350h0M311 6h0M17 346l0 -3M148 343h0M263 273h0M306 129h0M91 221l1 2M391 309l3 1M170 198h0M36 288l-4 -2M208 161h0M307 354h0M67 207h0M35 17l-5 -2M380 155l-1 -2M130 342h0M351 368h0M282 154h0M403 205h0M164 373h0M347 344l-2 5M403 407l-2 -4M148 227l4 3M135 213h0M190 261h0M387 48h0M90 73h0M220 139h0M197 240h0M233 281h0M53 411h0M357 221h0M207 284h0M326 386h0M201 28l0 3M391 54l3 -3M232 366h0M365 21h0M266 172h0M113 411h0M77 124l4 -4M319 74h0M205 333h0M258 185l-1 -2M368 409l4 -1M23 90h0M183 51h0M357 171h0M253 286h0M123 202h0M406 345h0M153 376h0M9 132h0M138 182l2 0M224 319h0M218 239l-5 -0M389 370h0M37 24h0M165 307h0M291 199h0M345 100h0M84 336h0M122 87l-5 1M368 205h0M107 28h0M360 330h0M54 269h0M114 286l-3 -3M153 149h0M386 406h0M316 261l-3 -3M126 331h0M0 63h0M342 225h0M144 274h0M287 166h0M201 5h0M288 22h0M107 332l-1 5M82 49l3 2M404 164l-3 5M225 90l0 5M27 303l-4 -1M281 85h0M367 70h0M287 5h0M135 345h0M105 99h0M104 59h0M398 311h0M17 276h0M284 117h0M261 67h0M395 275h0M168 289h0M355 153h0M92 367h0M287 153h0M402 297h0M100 286h0M127 354l2 3M4 5h0M79 416l-3 2M106 133h0M159 157l3 1M251 192h0M397 215l2 -4M45 395h0M399 236h0M214 166l3 5M375 238h0M221 124h0M384 372h0M156 332h0M373 150h0M53 340h0M158 352h0M20 391h0M106 224h0M153 354l4 -2M47 195l0 -4M258 411h0M371 321h0M84 248h0M36 225l-3 -1M70 105h0M208 412h0M40 271h0M117 316h0M385 329l-2 -4M171 277l2 1M178 177h0M354 47l1 3M1 402h0M124 409h0M352 162h0M21 151h0M248 148l4 4M229 3h0M3 261h0M30 375l-3 -5M57 229h0M85 255h0M17 210h0M266 5h0M228 202l6 -1M150 166h0M240 169h0M400 154h0M38 354h0M389 387h0M255 256h0M354 97h0M49 201h0M273 289h0M370 349l-3 4M21 121h0M325 166h0M110 381l5 -1M233 394h0M138 75l-5 1M4 186h0M212 345h0M392 402h0M177 229h0M191 279l-4 3M386 356h0M302 27h0M67 370h0M160 297h0M241 161h0M10 413h0M279 357h0M415 43h0M36 207h0M386 178l-3 1M60 120h0M102 306h0M137 394h0M411 358h0M31 207l3 -3M190 64h0M94 238h0M363 373h0M264 394h0M274 2h0M282 77h0M380 76h0M328 180h0M5 119l4 0M122 65h0M412 254h0M342 303h0M40 284h0M370 144h0M219 63l-2 1M293 38l-1 -5M347 332l-2 -4M392 101h0M196 329h0M183 93l3 -1M118 212l4 -3M101 8h0M360 117h0M34 396l-5 -1M333 304h0M261 165h0M8 111h0M243 104h0M373 199h0M64 78l3 -1M128 54h0M103 402h0M277 24h0M110 371h0M230 173h0M302 387h0M357 30h0M337 410l3 -3M285 198l2 -3M298 219h0M163 217h0M216 5h0M267 104l3 -0M147 5h0M21 214h0M406 137h0M196 165h0M70 253h0M122 20l2 -5M209 367h0M313 166h0M195 124h0M191 347h0M308 294h0M18 182h0M123 122l-4 1M356 21l-3 3M204 110l-0 2M93 248l3 -3M16 35h0M239 98h0M395 369h0M269 257l1 -2M273 123h0M157 250h0M10 235h0M403 240h0M393 207h0M24 395l3 -2M143 18h0M218 394h0M412 193l-1 -5M364 148l-3 4M64 60l-3 -0M255 351h0M112 132h0M181 374h0M3 310l4 -3M2 133h0M274 181h0M300 14l0 3M269 369h0M165 236h0M114 334h0M116 105l0 4M74 40h0M182 282h0M39 391h0M176 138l4 -1M104 347h0M308 367h0M411 201l3 -0M112 416h0M135 415h0M329 399l-1 1M98 366h0M241 65h0M82 21h0M17 353h0M0 33h0M290 191h0M94 77h0M193 416h0M272 170l-3 -1M362 195h0M234 102h0M170 283l-2 -2M337 34h0M113 325h0M274 88h0M377 126l3 -3M72 232h0M48 79h0M2 316l-2 -3M354 357l4 0M199 158h0M379 270l-1 -3M47 327h0M324 224l4 -4M129 395l3 -1M83 128h0M6 199h0M180 47h0M340 277h0M213 310l-2 2M51 309h0M129 180l-1 -2M397 230h0M307 319h0M154 316l2 1M178 195h0M326 34h0M99 3h0M20 85l2 -3M200 416l1 -2M77 275l1 2"/><path stroke-width="4.0" stroke-opacity="0.9" d="M308 384h0M12 194h0M195 103h0M287 403h0M75 398h0M332 358l2 -3M227 130l-2 -2M33 62h0M169 99h0M349 54l-1 -3M406 189l0 5M168 61l-2 -1M399 261l3 3M37 113l2 -1M322 289l-3 -0M269 332h0M307 345l5 -2M146 351l3 4M362 287h0M325 242h0M183 271h0M91 286l-2 -1M80 15h0M194 158h0M0 169h0M156 15h0M255 40l2 -5M227 141l-0 -4M338 268h0M94 121h0M325 102h0M316 125h0M190 382h0M379 59h0M338 29l-1 4M122 383h0M180 131h0M250 204h0M390 156h0M215 56h0M98 155l-3 3M93 48h0M335 181h0M258 179h0M84 10l4 3M228 412l3 1M302 380l5 2M83 119l-2 -4M316 239l-3 3M109 282h0M358 396l3 2M295 186h0M248 43h0M22 408l1 -2M115 84h0M234 149h0M41 299l-2 -1M213 244h0M241 317h0M286 349h0M164 1l-1 -3M177 220l-0 5M234 251h0M95 290l-2 2M334 297h0M260 402h0M31 113h0M40 199h0M337 2h0M91 406h0M163 324h0M315 372h0M62 325l-3 0M390 13h0M155 323h0M406 293h0M304 56h0M254 330h0M126 69h0M142 60h0M27 285h0M191 270h0M315 215l-3 -2M375 194h0M110 395l-4 3M85 37h0M271 73h0M58 205l2 0M374 231l-3 4M370 110h0M262 267h0M298 171h0M43 173h0M235 121l0 3M224 35h0M37 186h0M117 139h0M303 0l-4 -3M175 349l-2 2M329 321h0M348 18l-1 -2M223 199h0M50 84l-2 0M405 355h0M99 345h0M268 95l0 -4M114 4h0M185 286h0M26 109h0M42 154l-5 -3M125 304h0M170 11h0M284 318h0M62 177h0M44 3h0M315 199h0M29 224h0M38 126h0M352 237l1 -3M377 28h0M388 168h0M114 219h0M414 308h0M117 15l-2 -3M398 203h0M95 86l1 3M194 227h0M130 116l3 3M13 112h0M67 167h0M378 33h0M260 9l3 3M202 62h0M278 300h0M96 256h0M300 319h0M412 135l-3 -1M139 321h0M221 278l5 -1M205 206l-3 2M20 400h0M236 374h0M411 231h0M128 324l3 1M373 375h0M205 327h0M308 314h0M286 137l2 -0M58 347h0M355 411h0M290 114h0M410 95h0M241 126l5 2M96 229l-4 -0M366 80h0M376 247h0M1 156l3 0M242 220l-3 -3M372 254h0M304 161l2 -3M197 285l-3 -0M114 248h0M372 60h0M371 397l-2 1M251 416h0M206 391h0M344 233h0M104 53h0M60 310h0M176 158h0M262 34h0M225 207h0M124 196h0M188 100h0M294 165h0M263 386h0M195 401l1 2M279 342h0M260 159h0M358 263h0M332 163h0M136 227h0M137 52h0M367 355h0M207 55h0M362 72h0M185 413h0M356 245h0M91 136l3 -4M205 190h0M262 256l2 -1M395 96l-3 -0M295 148h0M274 326h0M30 31h0M63 341h0M267 143h0M243 24h0M360 144l-1 -2M406 287h0M209 169h0M242 115h0M335 403h0M138 17h0M182 142l4 3M81 159h0M166 79h0M106 142l-0 3M117 165h0M343 161l-3 1M152 24l5 -0M69 126h0M323 30l4 -2M206 100h0M221 292l3 -5M311 376h0M376 108h0M259 236h0M283 338h0M39 160l-1 -2M381 120h0M341 186h0M55 255h0M56 140l3 -4M268 342h0M397 134h0M239 137h0M407 197h0M212 15h0M394 363h0M13 349h0M275 198l-4 -1M59 211h0M34 345l1 6M12 82h0M287 173h0M188 352l-1 -3M252 184h0M358 108h0M330 30l5 -3M406 150l-1 -5M315 176h0M410 272h0M59 221l3 5M291 76l2 0M50 124h0M283 367h0M253 138h0M238 89h0M392 67h0M61 410h0M260 250h0M201 404h0M223 397h0M367 265h0M141 291l-4 3M179 415h0M416 69h0M34 268l-2 -3M78 254h0M191 92l2 -4M7 210l-1 -3M92 416h0M227 252l1 4M331 411l2 -5M47 338l-2 -1M194 298l-4 -1M22 343l0 2M388 63h0M127 80h0M310 76h0M2 336h0M313 289h0M242 356h0M67 329l-2 -1M177 311h0M150 254h0M327 14h0M73 119h0M249 171l4 -2M156 102h0M41 341h0M132 173l4 -0M302 239l-0 5M379 405h0M138 82h0M385 67l-2 1M14 217h0M97 409l3 -1M118 128h0M272 381h0M83 85h0M222 244h0M18 9l-1 4M1 81h0M97 329h0M245 186h0M235 129l-3 3M86 412h0M290 359l2 -4M78 247h0M11 121h0M213 364l2 1M174 389l0 3M385 311h0M149 88h0M261 222h0M199 202l-2 -2M37 99h0M168 229l3 -2M405 212h0M255 113h0M11 222h0M284 384l4 1M125 258l-4 -0M247 159h0M18 304h0M52 235h0M341 78l1 -5M212 239h0M52 389h0M175 245h0M35 370l4 2M216 265h0M25 356l5 -1M79 393h0M336 94h0M413 342l2 5M348 212h0M154 342h0M20 200h0M308 32h0M250 321l-1 5M36 219h0M61 183l3 0M398 318h0M211 185l2 -2M161 111h0M212 211h0M49 137h0M351 265h0M70 358h0M9 77h0M228 125h0M387 83h0M377 342h0M334 388h0M336 109h0M163 174h0M51 227h0M85 269h0M282 93h0M143 205h0M231 234h0M51 241l2 -2M297 224h0M135 233h0M55 77h0M287 66h0M342 148h0M288 128h0M181 349h0M10 313h0M218 380h0M110 82h0M259 342h0M341 413h0M114 160h0M273 340l0 3M59 237h0M354 385h0M400 103h0M212 408h0M222 24h0M349 119l2 -2M336 69l2 2M61 363h0M220 92l2 5M409 67l0 -3M188 11h0M83 276h0M232 51h0M406 317h0M343 181h0M411 170h0M333 45h0M198 77l2 2M9 341l5 0M165 295h0M270 353h0M31 249h0M360 67h0M361 215h0M226 56l-2 -4M149 11h0M131 377h0M125 212h0M10 308h0M72 309h0M229 46h0M103 233h0M138 35h0M112 94h0M335 208h0M122 175l3 2M10 357h0M203 341l-3 3M10 399l-4 0M291 9l0 -2M129 415l-2 -5M318 234l-1 -2M197 321h0M284 102h0M317 350l3 2M291 386h0M174 181h0M150 270h0M92 295h0M170 168l-3 -0M90 337h0M313 397h0M96 394h0M359 344l2 3M338 373h0M193 354l-5 -2M301 65h0M362 34h0M409 323h0M191 77h0M92 389h0M145 153h0M123 146h0M228 11h0M77 301h0M16 358h0M166 385h0M147 404h0M4 237h0M170 271l3 -1M304 228h0M340 193h0M124 239h0M1 56l2 -1M150 336h0M133 243h0M69 182h0M245 86h0M164 400h0M268 327l4 1M400 341h0M236 23h0M319 333l1 4M297 343h0M377 145l-2 1M290 52h0M182 173l-1 3M176 6h0M70 73l-2 1M243 55l-4 1M252 359h0M143 229l-1 -4M27 186l2 5M22 127h0M393 116h0M6 393h0M232 112h0M70 298h0M213 174l-4 1M30 98h0M305 79l0 4M172 395h0M201 104h0M27 298h0M380 209l-1 -5M0 253h0M382 336l-4 2M63 295h0M25 335h0M126 270h0M150 109h0M272 150l-4 -1M190 166h0M81 372h0M245 337h0M396 58l2 -0M361 159h0M305 329h0M388 343l3 3M275 370h0M288 365h0M221 48h0M246 298h0M406 17l-3 1M29 400h0M54 102l-3 2M67 381l2 -1M171 89h0M21 161h0M261 377l-2 1M313 89l-5 -2M311 120h0M297 379h0M415 153h0M313 131l-3 3M17 416h0M373 333h0M249 219h0M204 350h0M308 270h0M247 263h0M370 43h0M183 156l3 1M10 6h0M325 408h0M93 28l-1 -2M388 107h0M188 54h0M288 61h0M200 387h0M146 333h0M282 1h0M24 77h0M263 101l1 3M72 84h0M174 293l0 -2M381 244h0M31 242h0M344 352l-4 -1M193 333l3 1M73 288l-2 -2M265 111h0M53 12h0M212 9h0M245 2h0M81 349h0M351 178l-4 -2M283 209h0M58 53h0M196 275h0M11 229h0M45 355h0M245 193l-2 1M53 111h0M126 289l-2 -0M320 156h0M21 238h0M400 223h0M117 375h0M148 176h0M200 98h0M43 400h0M288 341h0M359 237l4 1M122 6h0M298 135h0M157 91h0M14 150h0M378 364h0M221 152h0M254 65l1 2M257 154h0M107 20h0M202 311h0M240 228h0M18 223h0M396 10h0M95 173h0M202 398l0 -2M121 184l-3 -3M33 327l2 -0M74 243h0M43 220h0M393 224h0M339 245l-1 -4M19 248l-5 -2M333 118h0M295 1h0M330 142h0M3 45h0M88 52h0M82 298h0M307 390h0M356 253h0M345 216h0M157 396h0M109 125h0M413 176l-3 1M43 130h0M272 35h0M398 69h0M30 256h0M215 233h0M140 22l-3 5M90 20l1 -2M131 3l0 5M304 375h0M330 76l-1 -2M216 399l2 -2M54 167h0M350 113l2 -1M260 244h0M329 238h0M188 23h0M47 108h0M288 264l2 2M211 37h0M374 14l-4 2M279 109l2 -4M2 11h0M294 91h0M279 238h0M79 114h0M317 145h0M298 309h0M92 169h0M44 166h0M261 279h0M136 65h0M379 114h0M109 50h0M209 385l-1 -2M385 288h0M9 174h0M73 131h0M188 150l3 2M64 268l-4 1M185 300l-5 0M286 97h0M362 241l-0 -3M133 280l4 -3M220 99h0M103 189h0M387 253h0M297 363h0M5 66h0M213 322l1 -3M90 396h0M368 29h0M349 167h0M195 131h0M85 107l2 -3M356 58h0M200 70h0M279 7l-1 5"/></g>
</g>

<rect x="217.3" y="119.3" width="415.99999999999994" height="416.7" fill="none" stroke="#000" stroke-width="2.5"/>
<path d="M217.30 119.3v-13M217.3 536.00h-13M633.3 536.00h13M217.30 536.0v13M238.10 119.3v-6.5M217.3 515.16h-6.5M633.3 515.16h6.5M238.10 536.0v6.5M258.90 119.3v-13M217.3 494.33h-13M633.3 494.33h13M258.90 536.0v13M279.70 119.3v-6.5M217.3 473.50h-6.5M633.3 473.50h6.5M279.70 536.0v6.5M300.50 119.3v-13M217.3 452.66h-13M633.3 452.66h13M300.50 536.0v13M321.30 119.3v-6.5M217.3 431.82h-6.5M633.3 431.82h6.5M321.30 536.0v6.5M342.10 119.3v-13M217.3 410.99h-13M633.3 410.99h13M342.10 536.0v13M362.90 119.3v-6.5M217.3 390.15h-6.5M633.3 390.15h6.5M362.90 536.0v6.5M383.70 119.3v-13M217.3 369.32h-13M633.3 369.32h13M383.70 536.0v13M404.50 119.3v-6.5M217.3 348.49h-6.5M633.3 348.49h6.5M404.50 536.0v6.5M425.30 119.3v-13M217.3 327.65h-13M633.3 327.65h13M425.30 536.0v13M446.10 119.3v-6.5M217.3 306.81h-6.5M633.3 306.81h6.5M446.10 536.0v6.5M466.90 119.3v-13M217.3 285.98h-13M633.3 285.98h13M466.90 536.0v13M487.70 119.3v-6.5M217.3 265.15h-6.5M633.3 265.15h6.5M487.70 536.0v6.5M508.50 119.3v-13M217.3 244.31h-13M633.3 244.31h13M508.50 536.0v13M529.30 119.3v-6.5M217.3 223.48h-6.5M633.3 223.48h6.5M529.30 536.0v6.5M550.10 119.3v-13M217.3 202.64h-13M633.3 202.64h13M550.10 536.0v13M570.90 119.3v-6.5M217.3 181.81h-6.5M633.3 181.81h6.5M570.90 536.0v6.5M591.70 119.3v-13M217.3 160.97h-13M633.3 160.97h13M591.70 536.0v13M612.50 119.3v-6.5M217.3 140.13h-6.5M633.3 140.13h6.5M612.50 536.0v6.5M633.30 119.3v-13M217.3 119.30h-13M633.3 119.30h13M633.30 536.0v13" stroke="#000" stroke-width="2.5" fill="none"/>
<text x="196.0" y="549.6" font-size="38" text-anchor="end" font-weight="normal" fill="#000" >0</text>
<text x="196.0" y="466.3" font-size="38" text-anchor="end" font-weight="normal" fill="#000" >2</text>
<text x="196.0" y="382.9" font-size="38" text-anchor="end" font-weight="normal" fill="#000" >4</text>
<text x="196.0" y="299.6" font-size="38" text-anchor="end" font-weight="normal" fill="#000" >6</text>
<text x="196.0" y="216.2" font-size="38" text-anchor="end" font-weight="normal" fill="#000" >8</text>
<text x="196.0" y="132.9" font-size="38" text-anchor="end" font-weight="normal" fill="#000" >10</text>
<text x="217.3" y="580.5" font-size="38" text-anchor="middle" font-weight="normal" fill="#000" >0</text>
<text x="300.5" y="580.5" font-size="38" text-anchor="middle" font-weight="normal" fill="#000" >2</text>
<text x="383.7" y="580.5" font-size="38" text-anchor="middle" font-weight="normal" fill="#000" >4</text>
<text x="466.9" y="580.5" font-size="38" text-anchor="middle" font-weight="normal" fill="#000" >6</text>
<text x="550.1" y="580.5" font-size="38" text-anchor="middle" font-weight="normal" fill="#000" >8</text>
<text x="633.3" y="580.5" font-size="38" text-anchor="middle" font-weight="normal" fill="#000" >10</text>
<text x="153.5" y="85.6" font-size="32.5" text-anchor="start" font-weight="normal" fill="#000" >μm</text>
<text x="661.5" y="578.0" font-size="32.5" text-anchor="start" font-weight="normal" fill="#000" >μm</text>
<linearGradient id="g1" x1="0" y1="1" x2="0" y2="0">
<stop offset="0.000" stop-color="#080200"/>
<stop offset="0.025" stop-color="#140400"/>
<stop offset="0.050" stop-color="#1f0501"/>
<stop offset="0.075" stop-color="#2a0601"/>
<stop offset="0.100" stop-color="#360802"/>
<stop offset="0.125" stop-color="#3e0802"/>
<stop offset="0.150" stop-color="#450701"/>
<stop offset="0.175" stop-color="#4c0601"/>
<stop offset="0.200" stop-color="#540600"/>
<stop offset="0.225" stop-color="#5a0600"/>
<stop offset="0.250" stop-color="#600500"/>
<stop offset="0.275" stop-color="#660400"/>
<stop offset="0.300" stop-color="#6c0400"/>
<stop offset="0.325" stop-color="#700b00"/>
<stop offset="0.350" stop-color="#731200"/>
<stop offset="0.375" stop-color="#761900"/>
<stop offset="0.400" stop-color="#7a2000"/>
<stop offset="0.425" stop-color="#7f2a02"/>
<stop offset="0.450" stop-color="#843404"/>
<stop offset="0.475" stop-color="#8a3e06"/>
<stop offset="0.500" stop-color="#8f4808"/>
<stop offset="0.525" stop-color="#955108"/>
<stop offset="0.550" stop-color="#9c5a08"/>
<stop offset="0.575" stop-color="#a26308"/>
<stop offset="0.600" stop-color="#a86c08"/>
<stop offset="0.625" stop-color="#ad7607"/>
<stop offset="0.650" stop-color="#b28106"/>
<stop offset="0.675" stop-color="#b88b06"/>
<stop offset="0.700" stop-color="#bd9505"/>
<stop offset="0.725" stop-color="#c29e18"/>
<stop offset="0.750" stop-color="#c6a62a"/>
<stop offset="0.775" stop-color="#cbaf3d"/>
<stop offset="0.800" stop-color="#d0b850"/>
<stop offset="0.825" stop-color="#d5c066"/>
<stop offset="0.850" stop-color="#dbc87c"/>
<stop offset="0.875" stop-color="#e0d092"/>
<stop offset="0.900" stop-color="#e6d8a8"/>
<stop offset="0.925" stop-color="#ece0bb"/>
<stop offset="0.950" stop-color="#f1e9ce"/>
<stop offset="0.975" stop-color="#f6f2e1"/>
<stop offset="1.000" stop-color="#fcfaf4"/>
</linearGradient>
<rect x="722.8" y="94.8" width="32.60000000000002" height="466.40000000000003" fill="url(#g1)" stroke="#000" stroke-width="2.2"/>
<path d="M755.4 561.40h13M755.4 527.05h6M755.4 492.70h13M755.4 458.35h6M755.4 424.00h13M755.4 389.65h6M755.4 355.30h13M755.4 320.95h6M755.4 286.60h13M755.4 252.25h6M755.4 217.90h13M755.4 183.55h6M755.4 149.20h13M755.4 114.85h6" stroke="#000" stroke-width="2.2" fill="none"/>
<text x="773.0" y="575.0" font-size="38" text-anchor="start" font-weight="normal" fill="#000" >0</text>
<text x="773.0" y="437.6" font-size="38" text-anchor="start" font-weight="normal" fill="#000" >4</text>
<text x="773.0" y="300.2" font-size="38" text-anchor="start" font-weight="normal" fill="#000" >8</text>
<text x="773.0" y="162.8" font-size="38" text-anchor="start" font-weight="normal" fill="#000" >12</text>
<filter id="f2" filterUnits="userSpaceOnUse" x="980.4" y="119.4" width="421.60" height="421.00" color-interpolation-filters="sRGB"><feTurbulence type="fractalNoise" baseFrequency="0.11" numOctaves="2" seed="7" result="t"/><feColorMatrix in="t" type="matrix" values="3.4 0 0 0 -1.94 3.4 0 0 0 -1.94 3.4 0 0 0 -1.94 0 0 0 0 1" result="n0"/><feGaussianBlur in="n0" stdDeviation="0.8" result="n"/><feGaussianBlur in="SourceGraphic" stdDeviation="1.0" result="b"/><feComposite in="n" in2="b" operator="arithmetic" k1="0" k2="1" k3="1" k4="0" result="h"/><feComponentTransfer in="h"><feFuncR type="table" tableValues="0.031 0.076 0.122 0.167 0.212 0.241 0.271 0.300 0.329 0.353 0.376 0.400 0.424 0.437 0.451 0.465 0.478 0.499 0.520 0.540 0.561 0.585 0.610 0.634 0.659 0.679 0.700 0.721 0.741 0.760 0.778 0.797 0.816 0.837 0.859 0.880 0.902 0.924 0.945 0.967 0.988"/><feFuncG type="table" tableValues="0.008 0.014 0.020 0.025 0.031 0.029 0.027 0.025 0.024 0.022 0.020 0.018 0.016 0.043 0.071 0.098 0.125 0.165 0.204 0.243 0.282 0.318 0.353 0.388 0.424 0.464 0.504 0.544 0.584 0.619 0.653 0.687 0.722 0.753 0.784 0.816 0.847 0.880 0.914 0.947 0.980"/><feFuncB type="table" tableValues="0.000 0.002 0.004 0.006 0.008 0.006 0.004 0.002 0.000 0.000 0.000 0.000 0.000 0.000 0.000 0.000 0.000 0.008 0.016 0.024 0.031 0.031 0.031 0.031 0.031 0.028 0.025 0.023 0.020 0.093 0.167 0.240 0.314 0.400 0.486 0.573 0.659 0.733 0.808 0.882 0.957"/></feComponentTransfer></filter>
<g filter="url(#f2)"><rect x="980.4" y="119.4" width="421.6" height="421.0" fill="#3c3c3c"/>
<g transform="translate(980.4,119.4)" fill="none" stroke="#fff" stroke-linecap="round" stroke-linejoin="round"><path stroke-width="4.4" stroke-opacity="0.4" d="M214 346h0M206 317l-4 2M206 360h0M233 74l-2 4M331 171h0M85 358l-2 -1M396 350h0M223 9h0M165 242l1 -4M349 48l2 0M282 97h0M231 114l-1 1M357 128h0M408 254h0M171 181l-3 -0M380 284h0M70 79h0M126 121h0M352 314l-0 2M300 352l-2 2M384 202l-3 -2M351 112l1 3M372 214l-3 0M78 97l2 2M278 324l0 -3M328 317h0M73 239l0 3M350 367l4 2M73 5h0M56 215h0M266 331h0M83 402h0M145 196h0M8 229h0M306 237l-2 -0M153 306h0M339 330h0M28 404l0 -3M30 366h0M123 397h0M179 87h0M5 349h0M390 132h0M198 152l1 -2M177 239h0M92 335l3 -0M150 276h0M325 149h0M191 289h0M54 139l1 -1M49 309h0M363 229h0M316 308h0M195 177h0M59 28h0M320 345h0M129 309l4 -0M360 41h0M276 151h0M350 148l-2 -3M5 381h0M327 371h0M397 85h0M389 150h0M374 251h0M95 349h0M303 34h0M396 391l-3 -0M338 31l-2 4M157 388h0M66 46l-1 -2M11 118l1 -2M240 164h0M371 309l-2 -2M200 240h0M119 104l-2 -3M9 2h0M12 87h0M142 237l3 -1M4 321h0M241 13h0M354 243h0M320 45h0M336 405h0M350 214l2 -3M336 74h0M77 273l1 3M156 25l-0 2M311 365h0M103 381l-1 -1M342 354l-4 2M35 52h0M1 17h0M212 114h0M190 197l-2 1M100 210h0M290 113h0M118 235h0M81 206l-3 2M131 221h0M360 204h0M212 39h0M204 69h0M5 264l-0 4M378 369h0M142 358h0M123 264h0M228 372h0M119 142l4 2M351 1l-4 -1M256 283h0M146 214l3 -3M298 174h0M46 231h0M188 374h0M104 308h0M110 223h0M221 137l3 -1M185 108h0M170 342l2 -3M307 133l2 -4M303 17h0M291 72l-2 -2M379 99l-1 -2M36 240l-1 -3M150 322h0M119 247h0M264 160h0"/><path stroke-width="5.2" stroke-opacity="0.55" d="M412 49h0M246 176l1 -3M312 273h0M402 296l-2 2M269 124h0M247 70h0M414 158l-3 2M74 394h0M116 35l-1 -2M80 326h0M305 213h0M341 198h0M296 195l4 -0M254 83h0M333 230l3 -1M23 345l1 -2M200 392h0M30 142h0M20 104h0M244 92l3 -3M78 339h0M288 368l2 0M162 114l-2 -0M178 45l-3 -0M197 49h0M136 248h0M95 264h0M349 62h0M219 156h0M269 279l1 -4M171 413l2 3M104 80h0M416 361h0M103 153h0M244 256h0M336 253h0M251 357l0 -2M321 245l-0 2M35 333l2 3M379 37l0 3M206 290h0M304 150h0M249 295h0M354 84h0M381 357l-1 -2M393 325l-0 -2M270 409h0M96 13h0M40 295h0M217 296l-0 -3M416 330h0M224 265h0M18 136l0 -4M387 63h0M91 192h0M90 418l1 2M65 351h0M7 67h0M311 60h0M49 163h0M260 44h0M18 21l1 3M411 136l-4 0M140 295h0M174 207h0M164 87l-3 -2M111 259h0M8 394l1 2M4 409l2 1M165 306h0M216 328h0M56 65h0M45 151h0M401 171h0M265 16h0M315 171l-4 0M112 353h0M261 394h0M259 2l-2 -2M24 226l0 -2M410 80h0M210 84l-1 3M86 175h0M240 408h0M212 275l-3 -0M268 193h0M26 4l2 1M14 336h0M394 6l-1 1M66 200h0M380 141l3 1M240 138l3 -4M122 297h0M334 184l-1 -1M224 222h0M349 257h0"/><path stroke-width="6.0" stroke-opacity="0.7" d="M309 409h0M70 258h0M93 131h0M174 102l2 1M26 72h0M53 114h0M216 246h0M140 402h0M259 315h0M210 261h0M232 388h0M334 94l2 -0M74 168l-0 4M272 253l3 -1M192 121l-3 2M207 378h0M295 131l-1 3M36 347h0M313 82l-1 -1M252 210h0M252 108h0M76 65h0M37 169h0M38 412l-4 2M354 19l-1 -2M155 74h0M355 394l3 3M337 131l-2 -1M405 102h0M261 368h0M277 338h0M107 24l1 2M145 184l2 1M180 401l-2 0M367 354l-0 -2M7 165h0"/></g><polygon points="1279.3,130.7 1287.1,130.5 1294.4,129.5 1300.9,134.7 1301.9,143.3 1298.4,151.6 1289.5,152.2 1282.7,150.0 1277.2,145.4 1272.9,137.3" fill="#fff" fill-opacity="0.55"/><path d="M1288.2 140.5L1289.3 148.3L1290.0 154.7M1288.2 140.5L1284.8 148.6L1280.8 154.5M1288.2 140.5L1280.6 142.1L1274.5 142.8M1288.2 140.5L1283.3 135.3L1278.0 130.5M1288.2 140.5L1290.2 132.5L1291.8 126.2M1288.2 140.5L1296.1 137.0L1302.2 135.0M1288.2 140.5L1295.0 146.8L1301.2 150.5" fill="none" stroke="#fff" stroke-opacity="0.47" stroke-width="6.5" stroke-linecap="round" stroke-linejoin="round"/><circle cx="1287.0" cy="141.0" r="5.6" fill="#fff" fill-opacity="0.15"/><polygon points="1108.8,167.6 1116.9,166.1 1123.6,167.4 1129.6,170.8 1133.7,177.3 1128.5,183.2 1125.3,188.9 1118.5,193.0 1113.6,186.3 1106.2,183.3 1105.7,175.3" fill="#fff" fill-opacity="0.55"/><path d="M1119.5 178.3L1121.7 171.2L1123.8 165.2M1119.5 178.3L1126.8 175.3L1133.6 171.4M1119.5 178.3L1127.2 183.5L1132.9 188.5M1119.5 178.3L1121.1 185.9L1123.5 192.3M1119.5 178.3L1111.1 185.7L1104.1 191.0M1119.5 178.3L1110.7 178.4L1103.4 179.4M1119.5 178.3L1115.1 170.5L1111.8 164.2" fill="none" stroke="#fff" stroke-opacity="0.47" stroke-width="6.5" stroke-linecap="round" stroke-linejoin="round"/><circle cx="1118.7" cy="180.1" r="5.6" fill="#fff" fill-opacity="0.15"/><polygon points="1234.5,186.0 1228.1,183.1 1223.8,178.3 1224.0,172.1 1225.4,165.2 1232.4,164.1 1239.1,164.4 1242.0,170.4 1241.5,175.9 1240.1,181.7" fill="#fff" fill-opacity="0.55"/><path d="M1233.4 174.1L1231.4 181.4L1228.3 188.0M1233.4 174.1L1226.0 174.6L1219.9 174.6M1233.4 174.1L1231.6 168.4L1230.9 163.6M1233.4 174.1L1240.1 170.1L1245.6 166.5M1233.4 174.1L1239.8 177.7L1245.4 180.9" fill="none" stroke="#fff" stroke-opacity="0.47" stroke-width="5.2" stroke-linecap="round" stroke-linejoin="round"/><circle cx="1233.6" cy="175.6" r="4.5" fill="#fff" fill-opacity="0.15"/><polygon points="1223.5,201.2 1224.8,193.1 1227.7,185.8 1235.4,186.8 1240.8,190.7 1242.4,197.4 1237.9,202.7 1231.3,203.6" fill="#fff" fill-opacity="0.55"/><path d="M1233.4 195.2L1240.9 191.0L1247.9 188.0M1233.4 195.2L1241.2 200.1L1246.7 204.0M1233.4 195.2L1233.5 203.3L1232.5 210.0M1233.4 195.2L1226.9 196.6L1221.6 199.0M1233.4 195.2L1227.3 189.9L1223.0 186.2M1233.4 195.2L1234.6 186.8L1235.4 179.7" fill="none" stroke="#fff" stroke-opacity="0.47" stroke-width="5.2" stroke-linecap="round" stroke-linejoin="round"/><circle cx="1234.9" cy="193.7" r="4.5" fill="#fff" fill-opacity="0.15"/><polygon points="1044.9,217.9 1052.5,223.2 1046.3,230.0 1043.4,238.8 1034.5,237.1 1027.8,233.1 1021.4,226.2 1025.2,217.5 1032.6,213.7 1040.2,211.7" fill="#fff" fill-opacity="0.55"/><path d="M1037.3 224.7L1044.7 229.7L1050.1 234.5M1037.3 224.7L1035.7 232.8L1034.1 239.8M1037.3 224.7L1030.8 230.9L1025.2 234.7M1037.3 224.7L1028.4 221.0L1021.4 219.1M1037.3 224.7L1033.9 217.0L1031.1 210.7M1037.3 224.7L1041.9 216.7L1045.4 209.2M1037.3 224.7L1044.5 221.6L1050.3 219.4" fill="none" stroke="#fff" stroke-opacity="0.47" stroke-width="6.5" stroke-linecap="round" stroke-linejoin="round"/><circle cx="1037.2" cy="224.2" r="5.6" fill="#fff" fill-opacity="0.15"/><polygon points="1223.8,244.3 1226.9,237.2 1234.3,240.9 1241.9,239.2 1247.1,245.3 1243.7,252.5 1243.3,260.5 1235.3,260.5 1229.4,259.5 1222.8,257.3 1221.3,250.4" fill="#fff" fill-opacity="0.55"/><path d="M1233.4 249.9L1234.5 242.5L1234.5 236.4M1233.4 249.9L1240.9 248.9L1246.9 247.7M1233.4 249.9L1239.0 257.6L1243.6 265.0M1233.4 249.9L1226.5 253.4L1219.9 257.4M1233.4 249.9L1226.4 245.6L1220.0 240.4" fill="none" stroke="#fff" stroke-opacity="0.47" stroke-width="5.9" stroke-linecap="round" stroke-linejoin="round"/><circle cx="1231.8" cy="251.1" r="5.0" fill="#fff" fill-opacity="0.15"/><polygon points="1339.2,330.6 1330.1,330.9 1326.0,322.0 1331.6,314.9 1338.3,310.8 1346.9,312.7 1346.6,321.1 1347.9,329.9" fill="#fff" fill-opacity="0.55"/><path d="M1338.8 321.5L1332.3 324.1L1326.7 325.2M1338.8 321.5L1332.7 315.9L1326.8 311.6M1338.8 321.5L1340.8 313.0L1341.2 305.7M1338.8 321.5L1345.2 317.5L1351.1 315.2M1338.8 321.5L1341.3 326.3L1344.6 331.0M1338.8 321.5L1335.9 327.9L1333.0 332.5" fill="none" stroke="#fff" stroke-opacity="0.47" stroke-width="5.2" stroke-linecap="round" stroke-linejoin="round"/><circle cx="1337.5" cy="323.1" r="4.5" fill="#fff" fill-opacity="0.15"/><polygon points="1347.4,341.2 1344.6,348.0 1336.5,348.3 1331.3,342.1 1331.1,334.0 1337.1,328.7 1344.2,330.7 1349.2,335.1" fill="#fff" fill-opacity="0.55"/><path d="M1340.9 338.3L1348.3 339.2L1354.2 341.5M1340.9 338.3L1340.8 345.4L1341.9 351.2M1340.9 338.3L1336.6 344.2L1333.0 349.9M1340.9 338.3L1334.0 336.1L1328.6 334.4M1340.9 338.3L1340.0 332.9L1338.7 328.7M1340.9 338.3L1344.5 333.8L1346.5 330.0" fill="none" stroke="#fff" stroke-opacity="0.47" stroke-width="4.5" stroke-linecap="round" stroke-linejoin="round"/><circle cx="1341.8" cy="338.2" r="3.9" fill="#fff" fill-opacity="0.15"/><polygon points="1014.3,348.3 1011.9,356.0 1012.5,363.5 1004.9,364.7 998.6,368.0 991.7,364.8 990.2,357.5 988.6,350.2 994.1,345.1 1000.5,340.5 1007.8,343.7" fill="#fff" fill-opacity="0.55"/><path d="M1001.5 355.2L992.6 358.9L985.3 361.9M1001.5 355.2L992.9 348.4L985.5 342.9M1001.5 355.2L999.5 345.3L999.4 336.8M1001.5 355.2L1011.2 352.4L1019.5 351.4M1001.5 355.2L1007.4 361.9L1012.1 366.8M1001.5 355.2L1001.0 363.0L1000.1 369.7" fill="none" stroke="#fff" stroke-opacity="0.47" stroke-width="6.5" stroke-linecap="round" stroke-linejoin="round"/><circle cx="1001.1" cy="355.6" r="5.6" fill="#fff" fill-opacity="0.15"/><polygon points="1093.5,345.5 1095.3,340.5 1099.2,335.2 1105.5,336.7 1110.0,340.3 1111.9,345.4 1111.0,350.5 1108.3,355.4 1102.7,356.5 1097.5,354.9 1095.3,350.2" fill="#fff" fill-opacity="0.55"/><path d="M1102.7 346.7L1106.6 340.1L1110.9 335.2M1102.7 346.7L1109.6 349.2L1115.2 349.9M1102.7 346.7L1100.8 353.5L1098.3 359.6M1102.7 346.7L1094.4 350.3L1088.0 352.5M1102.7 346.7L1098.1 342.1L1094.4 337.2" fill="none" stroke="#fff" stroke-opacity="0.47" stroke-width="5.2" stroke-linecap="round" stroke-linejoin="round"/><circle cx="1101.2" cy="345.6" r="4.5" fill="#fff" fill-opacity="0.15"/><polygon points="1362.3,375.9 1364.2,382.0 1360.7,387.9 1354.2,388.1 1348.0,385.6 1343.0,378.1 1349.7,371.8 1357.1,372.6" fill="#fff" fill-opacity="0.55"/><path d="M1355.6 380.4L1361.4 382.6L1366.3 384.8M1355.6 380.4L1355.6 388.6L1353.8 395.4M1355.6 380.4L1350.4 384.3L1346.1 386.4M1355.6 380.4L1350.3 373.4L1347.4 367.5M1355.6 380.4L1359.6 374.4L1361.6 369.8" fill="none" stroke="#fff" stroke-opacity="0.47" stroke-width="5.2" stroke-linecap="round" stroke-linejoin="round"/><circle cx="1355.8" cy="381.3" r="4.5" fill="#fff" fill-opacity="0.15"/><polygon points="1355.5,408.1 1350.5,403.4 1352.5,396.6 1357.8,391.9 1366.7,391.0 1371.5,399.0 1366.9,406.1 1361.5,409.5" fill="#fff" fill-opacity="0.55"/><path d="M1359.8 401.5L1357.4 395.6L1354.3 390.7M1359.8 401.5L1366.4 396.8L1372.0 392.7M1359.8 401.5L1366.9 402.4L1372.6 404.8M1359.8 401.5L1363.9 407.3L1366.0 412.6M1359.8 401.5L1356.6 408.4L1353.1 413.4M1359.8 401.5L1354.1 398.4L1349.8 397.0" fill="none" stroke="#fff" stroke-opacity="0.47" stroke-width="5.2" stroke-linecap="round" stroke-linejoin="round"/><circle cx="1360.0" cy="403.1" r="4.5" fill="#fff" fill-opacity="0.15"/><polygon points="1227.2,392.4 1221.4,400.9 1219.5,410.7 1209.5,410.4 1203.3,404.3 1198.3,396.8 1203.8,389.7 1210.8,386.8 1218.8,386.8" fill="#fff" fill-opacity="0.55"/><path d="M1212.3 397.3L1222.9 394.3L1231.6 393.0M1212.3 397.3L1215.6 404.0L1218.3 409.2M1212.3 397.3L1205.0 404.5L1197.3 410.7M1212.3 397.3L1203.9 392.7L1196.4 390.4M1212.3 397.3L1214.3 387.5L1215.1 379.4" fill="none" stroke="#fff" stroke-opacity="0.47" stroke-width="6.5" stroke-linecap="round" stroke-linejoin="round"/><circle cx="1214.0" cy="396.7" r="5.6" fill="#fff" fill-opacity="0.15"/><polygon points="1039.5,469.4 1034.4,474.3 1027.7,475.3 1023.1,470.9 1020.2,466.4 1019.5,460.3 1022.9,454.0 1030.0,454.5 1036.4,456.4 1037.2,462.9" fill="#fff" fill-opacity="0.55"/><path d="M1028.9 464.6L1035.1 464.2L1040.1 465.3M1028.9 464.6L1033.2 471.4L1036.2 476.2M1028.9 464.6L1025.4 469.7L1021.3 474.8M1028.9 464.6L1021.4 462.4L1015.5 461.0M1028.9 464.6L1031.9 458.1L1033.4 452.3" fill="none" stroke="#fff" stroke-opacity="0.47" stroke-width="5.2" stroke-linecap="round" stroke-linejoin="round"/><circle cx="1029.2" cy="463.6" r="4.5" fill="#fff" fill-opacity="0.15"/><polygon points="1185.9,466.5 1192.5,471.9 1192.8,480.2 1187.4,485.7 1179.9,487.3 1174.4,481.9 1171.2,473.9 1177.1,467.0" fill="#fff" fill-opacity="0.55"/><path d="M1182.8 477.2L1188.8 485.1L1193.0 491.9M1182.8 477.2L1180.6 486.4L1177.5 493.6M1182.8 477.2L1176.0 477.7L1170.2 478.8M1182.8 477.2L1180.8 470.2L1179.2 464.7M1182.8 477.2L1190.5 472.1L1196.0 468.2" fill="none" stroke="#fff" stroke-opacity="0.47" stroke-width="5.9" stroke-linecap="round" stroke-linejoin="round"/><circle cx="1183.7" cy="476.7" r="5.0" fill="#fff" fill-opacity="0.15"/><polygon points="1149.1,523.0 1156.6,519.9 1163.5,524.9 1162.8,532.9 1162.5,541.3 1154.1,541.7 1146.2,542.0 1142.8,534.7 1143.0,527.1" fill="#fff" fill-opacity="0.55"/><path d="M1153.3 532.0L1153.6 525.0L1152.8 519.3M1153.3 532.0L1161.6 528.7L1167.8 525.3M1153.3 532.0L1160.5 535.4L1166.5 539.2M1153.3 532.0L1151.0 540.3L1150.9 547.1M1153.3 532.0L1145.7 531.4L1139.3 531.2" fill="none" stroke="#fff" stroke-opacity="0.47" stroke-width="5.9" stroke-linecap="round" stroke-linejoin="round"/><circle cx="1154.1" cy="530.1" r="5.0" fill="#fff" fill-opacity="0.15"/><polygon points="997.6,126.9 997.0,132.5 992.9,136.9 986.7,137.7 983.5,132.6 980.0,128.7 982.7,124.3 986.0,121.4 990.6,119.8 995.5,121.8" fill="#fff" fill-opacity="0.55"/><path d="M988.8 127.8L985.4 134.6L981.1 139.6M988.8 127.8L983.5 131.0L978.4 134.3M988.8 127.8L983.5 123.9L979.3 119.7M988.8 127.8L988.7 121.3L989.2 116.0M988.8 127.8L992.6 124.1L995.2 121.0M988.8 127.8L994.8 127.8L999.6 127.6M988.8 127.8L993.2 133.5L995.9 137.8" fill="none" stroke="#fff" stroke-opacity="0.47" stroke-width="4.5" stroke-linecap="round" stroke-linejoin="round"/><circle cx="989.9" cy="127.8" r="3.9" fill="#fff" fill-opacity="0.15"/><polygon points="1004.2,185.5 1007.1,180.0 1013.0,180.7 1018.3,182.2 1018.9,187.8 1017.7,194.6 1010.6,195.8 1006.4,190.9" fill="#fff" fill-opacity="0.55"/><path d="M1012.0 186.8L1006.5 187.8L1001.9 187.6M1012.0 186.8L1009.2 181.9L1006.9 177.7M1012.0 186.8L1016.6 182.3L1020.9 179.5M1012.0 186.8L1018.4 187.6L1023.8 189.6M1012.0 186.8L1011.7 192.1L1011.4 196.4" fill="none" stroke="#fff" stroke-opacity="0.47" stroke-width="3.9" stroke-linecap="round" stroke-linejoin="round"/><circle cx="1011.0" cy="186.8" r="3.4" fill="#fff" fill-opacity="0.15"/>
</g>
<g fill="#c4aea4" style="mix-blend-mode:multiply" filter="url(#sb)"><rect x="1135" y="340" width="185" height="15"/><rect x="1300" y="222" width="96" height="10"/><rect x="1270" y="403" width="96" height="10"/></g>
<rect x="980.4" y="119.4" width="421.6" height="421.0" fill="none" stroke="#000" stroke-width="2.4"/>
<path d="M980.40 119.4v-13M980.4 540.40h-13M1402.0 540.40h13M980.40 540.4v13M1001.48 119.4v-6.5M980.4 519.35h-6.5M1402.0 519.35h6.5M1001.48 540.4v6.5M1022.56 119.4v-13M980.4 498.30h-13M1402.0 498.30h13M1022.56 540.4v13M1043.64 119.4v-6.5M980.4 477.25h-6.5M1402.0 477.25h6.5M1043.64 540.4v6.5M1064.72 119.4v-13M980.4 456.20h-13M1402.0 456.20h13M1064.72 540.4v13M1085.80 119.4v-6.5M980.4 435.15h-6.5M1402.0 435.15h6.5M1085.80 540.4v6.5M1106.88 119.4v-13M980.4 414.10h-13M1402.0 414.10h13M1106.88 540.4v13M1127.96 119.4v-6.5M980.4 393.05h-6.5M1402.0 393.05h6.5M1127.96 540.4v6.5M1149.04 119.4v-13M980.4 372.00h-13M1402.0 372.00h13M1149.04 540.4v13M1170.12 119.4v-6.5M980.4 350.95h-6.5M1402.0 350.95h6.5M1170.12 540.4v6.5M1191.20 119.4v-13M980.4 329.90h-13M1402.0 329.90h13M1191.20 540.4v13M1212.28 119.4v-6.5M980.4 308.85h-6.5M1402.0 308.85h6.5M1212.28 540.4v6.5M1233.36 119.4v-13M980.4 287.80h-13M1402.0 287.80h13M1233.36 540.4v13M1254.44 119.4v-6.5M980.4 266.75h-6.5M1402.0 266.75h6.5M1254.44 540.4v6.5M1275.52 119.4v-13M980.4 245.70h-13M1402.0 245.70h13M1275.52 540.4v13M1296.60 119.4v-6.5M980.4 224.65h-6.5M1402.0 224.65h6.5M1296.60 540.4v6.5M1317.68 119.4v-13M980.4 203.60h-13M1402.0 203.60h13M1317.68 540.4v13M1338.76 119.4v-6.5M980.4 182.55h-6.5M1402.0 182.55h6.5M1338.76 540.4v6.5M1359.84 119.4v-13M980.4 161.50h-13M1402.0 161.50h13M1359.84 540.4v13M1380.92 119.4v-6.5M980.4 140.45h-6.5M1402.0 140.45h6.5M1380.92 540.4v6.5M1402.00 119.4v-13M980.4 119.40h-13M1402.0 119.40h13M1402.00 540.4v13" stroke="#000" stroke-width="2.4" fill="none"/>
<text x="961.0" y="558.9" font-size="38" text-anchor="end" font-weight="normal" fill="#000" >0</text>
<text x="961.0" y="474.7" font-size="38" text-anchor="end" font-weight="normal" fill="#000" >2</text>
<text x="961.0" y="390.5" font-size="38" text-anchor="end" font-weight="normal" fill="#000" >4</text>
<text x="961.0" y="306.3" font-size="38" text-anchor="end" font-weight="normal" fill="#000" >6</text>
<text x="961.0" y="222.1" font-size="38" text-anchor="end" font-weight="normal" fill="#000" >8</text>
<text x="961.0" y="137.9" font-size="38" text-anchor="end" font-weight="normal" fill="#000" >10</text>
<text x="980.4" y="585.3" font-size="38" text-anchor="middle" font-weight="normal" fill="#000" >0</text>
<text x="1064.7" y="585.3" font-size="38" text-anchor="middle" font-weight="normal" fill="#000" >2</text>
<text x="1149.0" y="585.3" font-size="38" text-anchor="middle" font-weight="normal" fill="#000" >4</text>
<text x="1233.4" y="585.3" font-size="38" text-anchor="middle" font-weight="normal" fill="#000" >6</text>
<text x="1317.7" y="585.3" font-size="38" text-anchor="middle" font-weight="normal" fill="#000" >8</text>
<text x="1402.0" y="585.3" font-size="38" text-anchor="middle" font-weight="normal" fill="#000" >10</text>
<text x="919.2" y="90.7" font-size="32.5" text-anchor="start" font-weight="normal" fill="#000" >μm</text>
<text x="1426.8" y="582.8" font-size="32.5" text-anchor="start" font-weight="normal" fill="#000" >μm</text>
<linearGradient id="g2" x1="0" y1="1" x2="0" y2="0">
<stop offset="0.000" stop-color="#080200"/>
<stop offset="0.025" stop-color="#140400"/>
<stop offset="0.050" stop-color="#1f0501"/>
<stop offset="0.075" stop-color="#2a0601"/>
<stop offset="0.100" stop-color="#360802"/>
<stop offset="0.125" stop-color="#3e0802"/>
<stop offset="0.150" stop-color="#450701"/>
<stop offset="0.175" stop-color="#4c0601"/>
<stop offset="0.200" stop-color="#540600"/>
<stop offset="0.225" stop-color="#5a0600"/>
<stop offset="0.250" stop-color="#600500"/>
<stop offset="0.275" stop-color="#660400"/>
<stop offset="0.300" stop-color="#6c0400"/>
<stop offset="0.325" stop-color="#700b00"/>
<stop offset="0.350" stop-color="#731200"/>
<stop offset="0.375" stop-color="#761900"/>
<stop offset="0.400" stop-color="#7a2000"/>
<stop offset="0.425" stop-color="#7f2a02"/>
<stop offset="0.450" stop-color="#843404"/>
<stop offset="0.475" stop-color="#8a3e06"/>
<stop offset="0.500" stop-color="#8f4808"/>
<stop offset="0.525" stop-color="#955108"/>
<stop offset="0.550" stop-color="#9c5a08"/>
<stop offset="0.575" stop-color="#a26308"/>
<stop offset="0.600" stop-color="#a86c08"/>
<stop offset="0.625" stop-color="#ad7607"/>
<stop offset="0.650" stop-color="#b28106"/>
<stop offset="0.675" stop-color="#b88b06"/>
<stop offset="0.700" stop-color="#bd9505"/>
<stop offset="0.725" stop-color="#c29e18"/>
<stop offset="0.750" stop-color="#c6a62a"/>
<stop offset="0.775" stop-color="#cbaf3d"/>
<stop offset="0.800" stop-color="#d0b850"/>
<stop offset="0.825" stop-color="#d5c066"/>
<stop offset="0.850" stop-color="#dbc87c"/>
<stop offset="0.875" stop-color="#e0d092"/>
<stop offset="0.900" stop-color="#e6d8a8"/>
<stop offset="0.925" stop-color="#ece0bb"/>
<stop offset="0.950" stop-color="#f1e9ce"/>
<stop offset="0.975" stop-color="#f6f2e1"/>
<stop offset="1.000" stop-color="#fcfaf4"/>
</linearGradient>
<rect x="1492.7" y="94.2" width="34.700000000000045" height="474.3" fill="url(#g2)" stroke="#000" stroke-width="2.2"/>
<path d="M1527.4 569.00h13M1527.4 531.50h6M1527.4 494.00h13M1527.4 456.50h6M1527.4 419.00h13M1527.4 381.50h6M1527.4 344.00h13M1527.4 306.50h6M1527.4 269.00h13M1527.4 231.50h6M1527.4 194.00h13M1527.4 156.50h6M1527.4 119.00h13" stroke="#000" stroke-width="2.2" fill="none"/>
<text x="1549.0" y="582.6" font-size="38" text-anchor="start" font-weight="normal" fill="#000" >0</text>
<text x="1549.0" y="432.6" font-size="38" text-anchor="start" font-weight="normal" fill="#000" >4</text>
<text x="1549.0" y="282.6" font-size="38" text-anchor="start" font-weight="normal" fill="#000" >8</text>
<text x="1551.0" y="103.4" font-size="31.5" text-anchor="start" font-weight="normal" fill="#000" >nm</text>
<filter id="f3" filterUnits="userSpaceOnUse" x="213.4" y="679.0" width="421.00" height="417.20" color-interpolation-filters="sRGB"><feTurbulence type="fractalNoise" baseFrequency="0.05" numOctaves="3" seed="11" result="t"/><feColorMatrix in="t" type="matrix" values="0.42 0 0 0 -0.01 0.42 0 0 0 -0.01 0.42 0 0 0 -0.01 0 0 0 0 1" result="n0"/><feGaussianBlur in="n0" stdDeviation="0.5" result="n"/><feDisplacementMap in="SourceGraphic" in2="t" scale="4" xChannelSelector="R" yChannelSelector="G" result="sd"/><feGaussianBlur in="sd" stdDeviation="1.2" result="b"/><feComposite in="n" in2="b" operator="arithmetic" k1="0" k2="1" k3="1" k4="0" result="h"/><feComponentTransfer in="h"><feFuncR type="table" tableValues="0.031 0.083 0.134 0.186 0.229 0.262 0.296 0.329 0.348 0.367 0.386 0.405 0.424 0.451 0.478 0.531 0.589 0.648 0.685 0.720 0.747 0.763 0.774 0.785 0.795 0.806 0.817 0.829 0.842 0.855 0.868 0.882 0.895 0.909 0.922 0.935 0.946 0.957 0.967 0.978 0.988"/><feFuncG type="table" tableValues="0.008 0.015 0.021 0.028 0.030 0.028 0.026 0.024 0.022 0.020 0.019 0.017 0.016 0.071 0.125 0.226 0.323 0.407 0.474 0.543 0.596 0.624 0.644 0.664 0.684 0.704 0.723 0.741 0.759 0.779 0.798 0.818 0.837 0.857 0.878 0.899 0.915 0.932 0.948 0.964 0.980"/><feFuncB type="table" tableValues="0.000 0.002 0.004 0.007 0.007 0.004 0.002 0.000 0.000 0.000 0.000 0.000 0.000 0.000 0.000 0.020 0.031 0.031 0.028 0.023 0.044 0.105 0.148 0.191 0.233 0.275 0.318 0.368 0.417 0.471 0.524 0.578 0.632 0.682 0.728 0.774 0.811 0.848 0.884 0.921 0.957"/></feComponentTransfer></filter>
<g filter="url(#f3)"><rect x="213.4" y="679.0" width="421.0" height="417.20000000000005" fill="#000000"/>
<path d="M217.9 819.1H408.3M213.4 845.9H348.8M213.4 908.5H325.0M289.3 914.4H327.9M213.4 953.2H313.1M482.7 899.5H586.8M527.3 1048.5H631.4M213.4 1054.5H289.3M408.3 795.2H527.3" stroke="#000" stroke-opacity="0.0" stroke-width="3"/><g fill="#fff" fill-opacity="0.52"><circle cx="250.6" cy="686.5" r="4.4"/><circle cx="234.2" cy="710.3" r="5.7"/><circle cx="377.0" cy="687.9" r="4.4"/><circle cx="439.5" cy="689.4" r="5.7"/><circle cx="484.1" cy="698.4" r="5.3"/><circle cx="500.5" cy="695.4" r="3.5"/><circle cx="571.9" cy="704.3" r="5.7"/><circle cx="574.3" cy="720.7" r="4.4"/><circle cx="609.1" cy="682.0" r="3.5"/><circle cx="369.0" cy="723.1" r="5.3"/><circle cx="380.6" cy="735.0" r="4.4"/><circle cx="400.8" cy="728.2" r="4.4"/><circle cx="446.4" cy="739.5" r="5.3"/><circle cx="264.0" cy="746.9" r="4.4"/><circle cx="298.2" cy="746.9" r="3.5"/><circle cx="327.9" cy="748.1" r="3.5"/><circle cx="288.7" cy="758.6" r="4.0"/><circle cx="345.2" cy="763.9" r="4.4"/><circle cx="513.9" cy="750.5" r="4.4"/><circle cx="558.5" cy="753.5" r="3.5"/><circle cx="627.0" cy="732.6" r="3.5"/><circle cx="390.4" cy="773.8" r="4.0"/><circle cx="540.7" cy="776.7" r="4.0"/><circle cx="610.6" cy="777.3" r="3.1"/><circle cx="227.4" cy="787.8" r="4.0"/><circle cx="386.6" cy="797.3" r="5.3"/><circle cx="467.8" cy="791.6" r="5.7"/><circle cx="624.9" cy="789.3" r="4.8"/><circle cx="230.7" cy="818.2" r="4.4"/><circle cx="259.5" cy="819.1" r="5.3"/><circle cx="364.2" cy="816.1" r="5.3"/><circle cx="417.2" cy="816.7" r="4.4"/><circle cx="411.9" cy="828.6" r="4.4"/><circle cx="284.8" cy="834.0" r="4.4"/><circle cx="497.5" cy="808.6" r="3.5"/><circle cx="612.1" cy="819.1" r="3.5"/><circle cx="628.4" cy="829.5" r="4.4"/><circle cx="247.6" cy="848.0" r="4.4"/><circle cx="322.0" cy="846.5" r="4.8"/><circle cx="441.6" cy="846.5" r="4.4"/><circle cx="464.2" cy="853.3" r="4.4"/><circle cx="482.1" cy="850.9" r="5.7"/><circle cx="508.0" cy="856.3" r="4.4"/><circle cx="564.5" cy="835.5" r="4.4"/><circle cx="574.3" cy="845.9" r="4.8"/><circle cx="326.5" cy="876.3" r="4.0"/><circle cx="550.5" cy="875.7" r="4.4"/><circle cx="542.8" cy="885.2" r="4.4"/><circle cx="595.1" cy="873.3" r="5.3"/><circle cx="354.1" cy="892.1" r="5.7"/><circle cx="612.1" cy="903.1" r="7.0"/><circle cx="519.9" cy="901.9" r="3.5"/><circle cx="255.1" cy="907.9" r="4.0"/><circle cx="220.8" cy="917.4" r="4.8"/><circle cx="356.8" cy="913.8" r="4.4"/><circle cx="443.4" cy="913.8" r="4.8"/><circle cx="621.0" cy="921.0" r="4.8"/><circle cx="406.8" cy="928.7" r="4.8"/><circle cx="491.0" cy="933.8" r="5.7"/><circle cx="227.4" cy="953.2" r="5.3"/><circle cx="528.8" cy="956.1" r="4.8"/><circle cx="255.9" cy="977.0" r="5.3"/><circle cx="589.2" cy="971.0" r="5.7"/><circle cx="529.7" cy="978.5" r="4.0"/><circle cx="627.0" cy="987.4" r="5.3"/><circle cx="286.3" cy="1001.4" r="5.3"/><circle cx="264.9" cy="1013.7" r="4.8"/><circle cx="403.8" cy="998.8" r="4.0"/><circle cx="412.7" cy="1007.4" r="4.0"/><circle cx="460.3" cy="1006.8" r="5.3"/><circle cx="520.7" cy="999.4" r="5.3"/><circle cx="536.2" cy="1005.3" r="3.5"/><circle cx="289.3" cy="1026.2" r="4.8"/><circle cx="258.9" cy="1038.1" r="4.8"/><circle cx="414.8" cy="1042.0" r="4.4"/><circle cx="435.1" cy="1043.2" r="4.4"/><circle cx="505.6" cy="1045.5" r="4.4"/><circle cx="302.7" cy="1059.8" r="3.1"/><circle cx="324.4" cy="1064.0" r="4.8"/><circle cx="452.9" cy="1059.5" r="4.8"/><circle cx="463.3" cy="1073.8" r="4.8"/><circle cx="412.1" cy="1084.9" r="5.3"/><circle cx="622.5" cy="1084.3" r="4.8"/><circle cx="449.9" cy="1093.2" r="4.0"/><circle cx="311.6" cy="1088.8" r="3.5"/><path d="M324.4 936.8L345.8 962.1" stroke="#fff" stroke-opacity="0.45" stroke-width="5" stroke-linecap="round"/><path d="M560.6 1060.4L568.9 1046.1" stroke="#fff" stroke-opacity="0.45" stroke-width="9" stroke-linecap="round"/></g>
</g>
<g fill="#b09a90" style="mix-blend-mode:multiply" filter="url(#sb)"><rect x="217.9" y="816.6" width="190.4" height="5" opacity="0.9"/><rect x="213.4" y="843.9" width="135.4" height="4" opacity="0.9"/><rect x="213.4" y="907.0" width="114.5" height="6" opacity="0.9"/><rect x="213.4" y="951.2" width="99.7" height="4" opacity="0.9"/><rect x="482.7" y="898.1" width="104.1" height="4" opacity="0.9"/><rect x="527.3" y="1048.5" width="104.1" height="6" opacity="0.9"/><rect x="408.3" y="793.2" width="119.0" height="4" opacity="0.9"/><rect x="348.8" y="1005.3" width="119.0" height="3" opacity="0.9"/></g>
<rect x="213.4" y="679.0" width="421.0" height="417.20000000000005" fill="none" stroke="#000" stroke-width="2.0"/>
<path d="M213.40 679.0v-13M213.4 1096.20h-13M634.4 1096.20h13M213.40 1096.2v13M234.45 679.0v-6.5M213.4 1075.34h-6.5M634.4 1075.34h6.5M234.45 1096.2v6.5M255.50 679.0v-13M213.4 1054.48h-13M634.4 1054.48h13M255.50 1096.2v13M276.55 679.0v-6.5M213.4 1033.62h-6.5M634.4 1033.62h6.5M276.55 1096.2v6.5M297.60 679.0v-13M213.4 1012.76h-13M634.4 1012.76h13M297.60 1096.2v13M318.65 679.0v-6.5M213.4 991.90h-6.5M634.4 991.90h6.5M318.65 1096.2v6.5M339.70 679.0v-13M213.4 971.04h-13M634.4 971.04h13M339.70 1096.2v13M360.75 679.0v-6.5M213.4 950.18h-6.5M634.4 950.18h6.5M360.75 1096.2v6.5M381.80 679.0v-13M213.4 929.32h-13M634.4 929.32h13M381.80 1096.2v13M402.85 679.0v-6.5M213.4 908.46h-6.5M634.4 908.46h6.5M402.85 1096.2v6.5M423.90 679.0v-13M213.4 887.60h-13M634.4 887.60h13M423.90 1096.2v13M444.95 679.0v-6.5M213.4 866.74h-6.5M634.4 866.74h6.5M444.95 1096.2v6.5M466.00 679.0v-13M213.4 845.88h-13M634.4 845.88h13M466.00 1096.2v13M487.05 679.0v-6.5M213.4 825.02h-6.5M634.4 825.02h6.5M487.05 1096.2v6.5M508.10 679.0v-13M213.4 804.16h-13M634.4 804.16h13M508.10 1096.2v13M529.15 679.0v-6.5M213.4 783.30h-6.5M634.4 783.30h6.5M529.15 1096.2v6.5M550.20 679.0v-13M213.4 762.44h-13M634.4 762.44h13M550.20 1096.2v13M571.25 679.0v-6.5M213.4 741.58h-6.5M634.4 741.58h6.5M571.25 1096.2v6.5M592.30 679.0v-13M213.4 720.72h-13M634.4 720.72h13M592.30 1096.2v13M613.35 679.0v-6.5M213.4 699.86h-6.5M634.4 699.86h6.5M613.35 1096.2v6.5M634.40 1096.2v13" stroke="#000" stroke-width="2.0" fill="none"/>
<text x="196.2" y="1113.5" font-size="38" text-anchor="end" font-weight="normal" fill="#000" >0</text>
<text x="196.2" y="1030.1" font-size="38" text-anchor="end" font-weight="normal" fill="#000" >2</text>
<text x="196.2" y="946.6" font-size="38" text-anchor="end" font-weight="normal" fill="#000" >4</text>
<text x="196.2" y="863.2" font-size="38" text-anchor="end" font-weight="normal" fill="#000" >6</text>
<text x="196.2" y="779.7" font-size="38" text-anchor="end" font-weight="normal" fill="#000" >8</text>
<text x="196.2" y="696.3" font-size="38" text-anchor="end" font-weight="normal" fill="#000" >10</text>
<text x="212.9" y="1144.5" font-size="38" text-anchor="middle" font-weight="normal" fill="#000" >0</text>
<text x="297.1" y="1144.5" font-size="38" text-anchor="middle" font-weight="normal" fill="#000" >2</text>
<text x="381.3" y="1144.5" font-size="38" text-anchor="middle" font-weight="normal" fill="#000" >4</text>
<text x="465.5" y="1144.5" font-size="38" text-anchor="middle" font-weight="normal" fill="#000" >6</text>
<text x="549.7" y="1144.5" font-size="38" text-anchor="middle" font-weight="normal" fill="#000" >8</text>
<text x="633.9" y="1144.5" font-size="38" text-anchor="middle" font-weight="normal" fill="#000" >10</text>
<text x="150.0" y="652.5" font-size="32.5" text-anchor="start" font-weight="normal" fill="#000" >μm</text>
<text x="658.0" y="1142.0" font-size="32.5" text-anchor="start" font-weight="normal" fill="#000" >μm</text>
<linearGradient id="g3" x1="0" y1="1" x2="0" y2="0">
<stop offset="0.000" stop-color="#080200"/>
<stop offset="0.025" stop-color="#150401"/>
<stop offset="0.050" stop-color="#220501"/>
<stop offset="0.075" stop-color="#2f0702"/>
<stop offset="0.100" stop-color="#3a0802"/>
<stop offset="0.125" stop-color="#430701"/>
<stop offset="0.150" stop-color="#4b0701"/>
<stop offset="0.175" stop-color="#540600"/>
<stop offset="0.200" stop-color="#590600"/>
<stop offset="0.225" stop-color="#5e0500"/>
<stop offset="0.250" stop-color="#620500"/>
<stop offset="0.275" stop-color="#670400"/>
<stop offset="0.300" stop-color="#6c0400"/>
<stop offset="0.325" stop-color="#731200"/>
<stop offset="0.350" stop-color="#7a2000"/>
<stop offset="0.375" stop-color="#883a05"/>
<stop offset="0.400" stop-color="#965208"/>
<stop offset="0.425" stop-color="#a56808"/>
<stop offset="0.450" stop-color="#af7907"/>
<stop offset="0.475" stop-color="#b88a06"/>
<stop offset="0.500" stop-color="#bf980b"/>
<stop offset="0.525" stop-color="#c39f1b"/>
<stop offset="0.550" stop-color="#c5a426"/>
<stop offset="0.575" stop-color="#c8a931"/>
<stop offset="0.600" stop-color="#cbae3b"/>
<stop offset="0.625" stop-color="#ceb346"/>
<stop offset="0.650" stop-color="#d0b851"/>
<stop offset="0.675" stop-color="#d3bd5e"/>
<stop offset="0.700" stop-color="#d7c26a"/>
<stop offset="0.725" stop-color="#dac778"/>
<stop offset="0.750" stop-color="#ddcc86"/>
<stop offset="0.775" stop-color="#e1d193"/>
<stop offset="0.800" stop-color="#e4d5a1"/>
<stop offset="0.825" stop-color="#e8dbae"/>
<stop offset="0.850" stop-color="#ebe0ba"/>
<stop offset="0.875" stop-color="#efe5c5"/>
<stop offset="0.900" stop-color="#f1e9cf"/>
<stop offset="0.925" stop-color="#f4eed8"/>
<stop offset="0.950" stop-color="#f7f2e1"/>
<stop offset="0.975" stop-color="#f9f6eb"/>
<stop offset="1.000" stop-color="#fcfaf4"/>
</linearGradient>
<rect x="725.7" y="654.3" width="32.69999999999993" height="469.29999999999995" fill="url(#g3)" stroke="#000" stroke-width="2.2"/>
<path d="M758.4 1123.40h13M758.4 1106.93h6M758.4 1090.46h6M758.4 1074.00h6M758.4 1057.53h6M758.4 1041.06h13M758.4 1024.59h6M758.4 1008.12h6M758.4 991.66h6M758.4 975.19h6M758.4 958.72h13M758.4 942.25h6M758.4 925.78h6M758.4 909.32h6M758.4 892.85h6M758.4 876.38h13M758.4 859.91h6M758.4 843.44h6M758.4 826.98h6M758.4 810.51h6M758.4 794.04h13M758.4 777.57h6M758.4 761.10h6M758.4 744.64h6M758.4 728.17h6M758.4 711.70h13M758.4 695.23h6M758.4 678.76h6M758.4 662.30h6" stroke="#000" stroke-width="2.2" fill="none"/>
<text x="772.5" y="1137.0" font-size="38" text-anchor="start" font-weight="normal" fill="#000" >0</text>
<text x="772.5" y="1054.7" font-size="38" text-anchor="start" font-weight="normal" fill="#000" >10</text>
<text x="772.5" y="972.3" font-size="38" text-anchor="start" font-weight="normal" fill="#000" >20</text>
<text x="772.5" y="890.0" font-size="38" text-anchor="start" font-weight="normal" fill="#000" >30</text>
<text x="772.5" y="807.6" font-size="38" text-anchor="start" font-weight="normal" fill="#000" >40</text>
<text x="772.5" y="725.3" font-size="38" text-anchor="start" font-weight="normal" fill="#000" >50</text>
<filter id="f4" filterUnits="userSpaceOnUse" x="983.3" y="681.7" width="419.00" height="417.60" color-interpolation-filters="sRGB"><feTurbulence type="fractalNoise" baseFrequency="0.1" numOctaves="2" seed="21" result="t"/><feColorMatrix in="t" type="matrix" values="0.6 0 0 0 -0.2 0.6 0 0 0 -0.2 0.6 0 0 0 -0.2 0 0 0 0 1" result="n0"/><feGaussianBlur in="n0" stdDeviation="0.6" result="n"/><feDisplacementMap in="SourceGraphic" in2="t" scale="3" xChannelSelector="R" yChannelSelector="G" result="sd"/><feGaussianBlur in="sd" stdDeviation="0.8" result="b"/><feComposite in="n" in2="b" operator="arithmetic" k1="0" k2="1" k3="1" k4="0" result="h"/><feComponentTransfer in="h"><feFuncR type="table" tableValues="0.031 0.076 0.122 0.167 0.212 0.241 0.271 0.300 0.329 0.353 0.376 0.400 0.424 0.437 0.451 0.465 0.478 0.499 0.520 0.540 0.561 0.585 0.610 0.634 0.659 0.679 0.700 0.721 0.741 0.760 0.778 0.797 0.816 0.837 0.859 0.880 0.902 0.924 0.945 0.967 0.988"/><feFuncG type="table" tableValues="0.008 0.014 0.020 0.025 0.031 0.029 0.027 0.025 0.024 0.022 0.020 0.018 0.016 0.043 0.071 0.098 0.125 0.165 0.204 0.243 0.282 0.318 0.353 0.388 0.424 0.464 0.504 0.544 0.584 0.619 0.653 0.687 0.722 0.753 0.784 0.816 0.847 0.880 0.914 0.947 0.980"/><feFuncB type="table" tableValues="0.000 0.002 0.004 0.006 0.008 0.006 0.004 0.002 0.000 0.000 0.000 0.000 0.000 0.000 0.000 0.000 0.000 0.008 0.016 0.024 0.031 0.031 0.031 0.031 0.031 0.028 0.025 0.023 0.020 0.093 0.167 0.240 0.314 0.400 0.486 0.573 0.659 0.733 0.808 0.882 0.957"/></feComponentTransfer></filter>
<g filter="url(#f4)"><rect x="983.3" y="681.7" width="419.0" height="417.5999999999999" fill="#292929"/>
<g transform="translate(983.3,681.7)" fill="none" stroke="#fff" stroke-linecap="round" stroke-linejoin="round"><path stroke-width="3.0" stroke-opacity="0.36" d="M77 243l0 3M12 236h0M29 145l4 1M5 366h0M356 182h0M120 178h0M134 6h0M289 268l2 1M244 70h0M346 156h0M365 61h0M335 261h0M199 35h0M3 213h0M5 142l0 2M167 143h0M155 125h0M371 65l2 -3M408 369l3 1M338 236h0M367 330h0M327 365h0M240 132h0M144 271h0M162 368h0M377 108h0M181 2h0M290 274h0M241 24h0M187 159h0M106 161l-4 -1M415 302h0M272 271h0M303 391l1 3M213 163h0M194 397h0M341 73h0M408 203l2 3M379 248h0M342 184h0M51 291h0M61 415h0M268 61h0M74 391h0M350 412h0M180 33h0M391 331h0M156 229h0M5 248h0M67 359h0M72 92h0M345 393h0M241 394l-0 -4M322 241h0M201 354l1 1M189 12l-0 -2M105 280h0M51 327l4 -2M143 226h0M172 5l-2 -3M99 24l-0 2M13 59h0M47 120l3 3M148 160h0M315 220h0M116 137l-3 1M337 106h0M197 132h0M230 337h0M175 187h0M203 210h0M72 290h0M383 298l2 0M273 398h0M10 351h0M293 72h0M161 72h0M395 68h0M75 237l-4 0M375 96h0M263 343l-0 2M141 25h0M156 107l-2 1M367 84h0M160 389l-4 1M269 236l2 2M207 45h0M174 345h0M40 95h0M305 197h0M118 321h0M255 371l1 -4M296 168h0M241 186h0M406 363h0M232 185h0M65 203l-1 -2M309 283l-1 3M203 161h0M317 106h0M230 124h0M383 210h0M317 293l0 3M76 14h0M301 249h0M61 50l2 -1M163 106h0M225 372h0M25 279h0M189 49l2 1M193 267h0M410 75h0M410 247h0M227 417h0M354 41h0M229 172h0M223 139l0 -2M17 330h0M321 45l2 0M10 293l-1 1M302 75h0M235 417h0M358 360h0M168 97h0M171 317h0M61 28h0M415 397h0M177 365h0M33 373l-4 -1M3 166h0M148 168h0M259 15h0M62 393l3 1M81 408l2 2M319 162h0M195 41h0M331 5h0M297 273h0M91 284l4 2M345 34h0M85 255h0M118 96h0M291 6h0M405 342l-3 -1M118 356h0M149 82h0M286 199l2 0M235 87h0M45 311l-2 1M304 323h0M170 114l3 -0M266 103h0M8 257h0M35 120h0M253 398l3 -1M32 299l-2 -2M248 217l-2 -1M41 121h0M187 218l-2 -1M102 104l-2 1M377 373l-1 -3M15 208l4 -1M155 115l1 2M47 343l-1 2M261 277h0M375 285h0M336 354h0M137 346h0M407 176l-2 -0M399 336h0M73 44l1 3M254 26h0M84 41h0M192 147h0M171 212l-0 3M45 194h0M245 222h0M211 2l3 3M274 194h0M16 368l2 -0M69 405h0M151 318h0M307 87h0M53 183h0M157 211h0M418 169h0M299 138l2 0M82 276h0M18 177h0M231 6h0M293 300h0M389 163h0M201 59h0M39 368h0M8 275h0M312 392h0M63 101h0M374 234l3 -2M281 393h0M273 72h0M81 199h0M5 328h0M145 210h0M391 232l-2 2M241 112h0M68 327h0M24 211l-2 2M133 165h0M107 199h0M338 321h0M120 116h0M359 272h0M400 164h0M85 155h0M348 102h0M237 316l3 -0M179 196h0M51 410h0M309 327h0M231 192h0M174 222l3 -2M359 374h0M387 154l-2 -2M350 172h0M156 157l4 -1M161 118h0M415 178h0M398 95h0M37 46l4 -1M230 219h0M40 213h0M384 197h0M374 318h0M378 241h0M237 205h0M149 153h0M353 53h0M132 56h0M12 80h0M161 15h0M122 133h0M107 9h0M378 309l-2 1M364 152l3 -1M208 380h0M117 344h0M176 127h0M190 190h0M92 62h0M146 31h0M75 230h0M193 203h0M216 86h0M265 37h0M355 385l-1 -4M352 296l3 -2M3 356h0M333 87l-3 -0M13 159h0M11 154h0M225 99h0M126 119h0M83 146l1 1M57 177h0M37 326l-1 1M60 261h0M131 76h0M4 237h0M132 38l-1 -4M275 286h0M38 311h0M104 168h0M158 303l3 -0M323 290h0M63 237h0M225 43l2 -2M214 128h0M328 65h0M188 353l1 -1M36 339h0M149 345h0M240 39h0M262 56h0M319 148h0M293 191l-2 -1M101 30l-3 1M176 109h0M54 367h0M70 71l2 0M90 107h0M313 172h0M171 82l-3 -0M149 265h0M417 371h0M263 336h0M364 390h0M384 346l-3 -1M348 233l2 -2M347 178l-2 -2M230 37h0M282 189l-0 2M413 208h0M183 99h0M237 372h0M276 367l2 0M191 225l2 3M277 292l0 -4M307 114h0M295 283h0M190 371h0M355 311h0M252 228h0M416 191h0M170 29l-2 -1M214 34h0M14 90l-1 -2M217 345h0M19 386h0M39 33l1 -4M409 385l1 -1M49 211l-2 2M320 67h0M352 365h0M3 108l-2 0M287 355l-3 0M21 88l-1 2M211 94l-2 -4M62 66h0M418 87l2 -3M324 262l4 -2M208 171h0M32 7l-3 -3M281 88h0M20 291l-2 -1M216 120h0M319 303h0M202 217h0M168 296l-1 -3M6 188l-3 -2M203 279h0M242 412h0M383 253h0M395 33h0M94 190h0M296 362h0M162 405l0 -2M359 232h0M135 392l-1 1M311 408h0M387 69h0M266 149h0M164 221h0M1 176l2 -4M42 55h0M213 399h0M373 333h0M66 294l-1 -1M370 306h0M258 258l-2 2M20 0h0M356 227l-3 3M284 299h0M259 146l3 -1M388 79h0M154 203h0M115 285l-3 -3M178 142l2 -3M347 40l1 4M158 178h0M218 310h0M289 88l0 2M371 263l2 3M124 219h0M332 152l3 0M115 41h0M186 398l-0 2M311 78h0M338 252h0M163 153l3 -2M31 43h0M293 256h0M144 133h0M203 286h0M123 228h0M265 92h0M304 351l-4 0M332 58h0M197 262h0M288 340l-1 -3M161 248h0M273 300h0M101 413h0M143 142l-4 1M157 416l2 1M331 96h0M23 152h0M223 339h0M364 403h0M404 222h0M383 39h0M333 231h0M338 372l-1 -1M34 263h0M401 309h0M331 297l-1 -2M341 217l3 -3M32 167l-2 1M124 102h0M236 292h0M295 36h0M68 414h0M67 110h0M302 292h0M126 334h0M273 110l4 -0M292 161h0M315 38l1 2M130 252h0M347 350h0M164 256h0M361 308h0M412 338h0M335 384h0M47 235l2 -3M87 99l-3 2M30 323h0M124 370l-2 -1M32 76l2 4M326 40h0M123 81h0M0 74l2 -4M278 270h0M1 372h0M202 72l4 -2M63 243l-3 1M225 62h0M16 128h0M346 287h0M402 385l-2 4M221 210h0M82 4l2 2M160 134l1 -3M91 141l1 -3M62 173l0 2M133 226l-3 1M399 86h0M323 205h0M273 358h0M208 293h0M60 136l1 -2M406 21h0M111 171h0M240 358h0M17 413l2 1M302 307l1 3M192 247l-4 -1M75 300h0M342 171h0M208 416h0M27 15h0M162 360h0M167 343h0M61 366h0M18 244l0 -3M194 412h0M190 110h0M398 56h0M286 77h0M214 111l-1 3M367 284l3 2M318 248l-1 2M404 212h0M407 394l-3 2M302 314h0M400 65h0M279 254h0M365 27h0M245 250l1 1M371 401h0M291 210h0M411 261h0M77 96h0M328 273h0M388 307h0M242 13h0M92 237h0M142 86l-0 2M294 229h0M77 254l4 2M89 36h0M336 13h0M300 191h0M90 203h0M41 162h0M199 386h0M138 266h0M117 388h0M403 301l-2 2M289 131l1 -2M218 409l-3 -1M21 230l-1 1M327 73l-2 3M388 278h0M260 29h0M106 80h0M405 6h0M102 237h0M238 341h0M145 370l-1 1M270 338l-1 -1M275 320h0M219 171l-2 -1M64 80l-4 1M225 145h0M221 365l1 2M194 305h0M251 317h0M404 39h0M399 189h0M408 195l-2 2M220 260h0M332 206l-1 3M56 170l-2 -3M241 296l-3 3M113 372l-3 -3M308 54h0M153 95l-2 1M155 382h0M299 225l-4 0M117 336h0M411 328h0M282 133h0M71 215h0M79 35h0M335 138l-2 -0M29 22h0M290 320l2 0M306 277l-2 1M357 124h0M238 251l1 3M41 135h0M137 306l-0 4M33 214l2 3M253 409h0M380 223h0M402 329l1 -2M359 198h0M274 223h0M188 391h0M290 370h0M157 63h0M206 126h0M99 122h0M401 140h0M37 11l2 0M253 234l-1 -2M18 12h0M11 167h0M293 52h0M350 108h0M369 5h0M106 369h0M317 4l2 4M222 93h0M405 413h0M209 408h0M126 290h0M368 18h0M267 8h0M281 111h0M228 402l-0 -4M314 319h0M349 224l-1 3M178 259h0M361 317l1 2M82 293h0M1 409h0M111 398h0M104 352h0M168 306l-3 2M84 333l4 -2M221 252h0M41 85h0M220 359h0M374 23h0M23 317h0M131 92h0M138 414h0M376 118l-4 -2M35 54l1 -3M318 214h0M353 287h0M416 275l3 1M220 102h0M55 239l3 -1M115 105l2 -2M314 72h0M354 32h0M388 340l2 -3M371 111h0M121 281h0M159 52l-2 -4M52 9h0M80 344h0M280 354h0M323 170h0M379 171h0M313 238h0M159 100h0M86 55h0M2 31h0M88 319h0M134 114h0M99 43h0M203 309h0M210 246l-0 -3M212 351h0M391 60h0M378 72l-3 -1M60 268l3 3M84 20h0M202 116l-1 -2M188 234h0M98 132h0M74 4h0M104 18l1 4M208 237h0M183 171h0M316 229l2 1M51 141h0M72 193h0M151 329h0M369 143h0M78 81h0M196 118h0M409 26l-2 0M105 321l0 -3M299 5h0M400 232h0M253 349h0M305 41h0M104 218h0M224 87h0M268 124h0M244 323l-2 0M12 317h0M72 128h0M66 2h0M176 415h0M250 284h0M123 194l1 -2M304 94l3 -0M178 400l4 -1M27 175l0 -4M109 107h0M237 197h0M315 60l0 -2M247 21h0M357 190h0M360 247h0M377 11l-3 -2M380 329h0M83 417h0M176 116l-1 2M151 416h0M332 31h0M132 136h0M49 14h0M168 377h0M144 68h0M14 113h0M136 181h0M404 72l-4 2M118 171h0M335 42h0M193 173l1 -3M376 408h0M133 45h0M400 246l-1 3M192 155l-4 -2M187 79h0M366 202l4 -3M166 136h0M121 37h0M368 299h0M239 275h0M12 323h0M332 305h0M406 117h0M173 39h0M56 332h0M192 364h0M155 247h0M210 345l2 1M400 417l-0 -2M183 278h0M161 309l-1 2M168 280h0M354 325h0M396 214h0M22 361h0M210 328l3 1M327 141h0M98 36h0M118 295l-1 3M56 197h0M52 96h0M272 56h0M316 262h0M358 175l-2 1M54 224h0M46 3h0M136 72h0M359 221h0M144 356h0M88 27h0M339 0h0M247 265h0M223 388l0 2M264 109l2 -1M292 104h0M224 297h0M77 381l-2 4M389 22l0 4M322 417h0M418 109l-0 2M247 60h0M35 174h0M416 197h0M31 194h0M397 154h0M48 201l1 3M188 329h0M59 309h0M277 169h0M208 314l-1 2M324 280h0M53 40h0M235 352h0M221 69h0M179 13h0M32 90h0M126 48l-1 2M372 207h0M129 31h0M5 84h0M255 186h0M163 412h0M206 106h0M54 206h0M337 35h0M96 396h0M273 34l-1 4M21 142l-2 -2M102 293l1 -1M174 157h0M412 376h0M268 331h0M419 28h0M313 97h0M237 3l3 0M165 316l2 -0M188 285l1 -2M279 177l3 -1M33 246h0M21 123l-2 -2M22 273l-3 -2M182 93h0M405 404h0M348 206h0M182 184l-0 -3M80 48l-2 -0M143 125l-1 -2M337 224h0M73 410h0M382 113l-2 0M234 330h0M406 356h0M329 345h0M32 344h0M297 46h0M330 246h0M40 200h0"/><path stroke-width="3.6" stroke-opacity="0.48" d="M200 235h0M311 340h0M343 228l-1 3M31 401h0M103 331l4 0M234 247h0M389 261h0M377 348h0M82 359h0M171 150h0M416 230h0M322 356h0M30 32h0M223 349l-3 -1M137 281h0M79 212h0M281 283h0M380 133h0M292 311l2 4M22 167h0M400 277h0M63 300l4 1M30 311h0M398 175l-0 2M370 173h0M283 170l4 -3M189 23h0M201 252h0M97 156h0M204 321h0M90 300h0M101 53h0M315 371h0M112 295h0M213 149h0M317 200h0M328 382h0M128 273h0M10 390h0M46 61h0M269 2h0M129 128l2 -3M248 34l4 -2M131 217h0M139 138h0M85 269h0M243 127h0M71 187l0 2M387 386h0M251 243h0M19 110l-3 -1M357 162h0M51 75l1 3M336 171h0M215 234h0M306 162h0M352 269h0M69 11h0M414 364l1 -1M178 252h0M26 93l1 2M366 104h0M167 324h0M101 406h0M327 90l-4 2M377 384l-2 0M103 230l1 -1M206 393h0M345 113l0 -4M254 252h0M100 366h0M260 114l-2 -1M226 75l-1 4M155 288h0M188 299l4 -2M354 23l-2 -3M194 257h0M242 289h0M284 71h0M91 369h0M160 42h0M102 3h0M266 274l-1 -2M22 198l2 1M326 56l-4 -0M16 266l-4 -1M99 205h0M107 386h0M225 284h0M81 390h0M84 104l-2 1M29 336h0M229 54l4 -2M65 278l1 3M308 216l1 -2M30 360h0M279 53h0M176 53h0M222 19h0M42 349l-0 3M395 318l4 1M161 83l3 2M350 344h0M338 296l-1 3M3 342l-2 -0M393 252h0M392 11h0M167 53h0M361 287h0M401 257h0M68 170h0M115 312l1 -3M384 230h0M396 405h0M33 183h0M305 10h0M406 228h0M373 35l2 -4M277 218h0M203 184h0M268 212h0M324 150l-1 1M239 259l0 -2M334 118h0M313 347l-2 -2M160 167h0M413 223h0M298 145h0M88 313l-2 -3M150 25h0M321 181h0M231 324h0M6 225h0M47 146h0M301 156h0M159 342h0M253 132h0M61 12h0M407 108h0M377 358l1 3M156 258l3 2M221 398h0M348 329h0M56 18h0M220 321h0M242 384h0M53 300l2 3M10 183h0M81 309l1 -1M24 5h0M380 192l1 1M319 192h0M75 170h0M382 27h0M277 383h0M93 378h0M140 250h0M76 328h0M271 204l-4 -1M392 171l-1 -2M233 409h0M33 286l3 -1M137 375h0M202 331l1 2M268 267h0M359 257h0M33 205h0M337 410h0M256 303l-2 2M239 118h0M252 270l1 4M193 63h0M62 74l2 3M106 285h0M97 141h0M224 314h0M112 35l-1 2M35 138l2 -3M267 379h0M257 336h0M102 308l-3 2M171 333h0M263 317h0M332 78h0M317 328h0M105 205h0M84 190h0M365 209h0M287 379h0M198 84l2 3M104 149l1 3M53 160h0M25 70h0M60 187h0M251 261h0M363 188h0M296 113h0M112 216h0M258 214h0M417 255h0M65 400l-2 -2M207 78h0M255 56h0M398 271h0M379 139l-1 -2M6 396h0M235 396h0M10 18l-1 4M336 21h0M230 386h0M90 362h0M337 199h0M286 49l-0 -4M133 312l2 3M134 325h0M331 220h0M405 12l0 -3M350 248h0M44 156l1 2M280 402h0M360 240h0M300 82h0M140 97l1 3M201 346h0M266 171h0M43 68l3 -1M150 352h0M232 136h0M242 172l4 -2M52 401h0M279 415l1 -4M103 180l-2 -3M178 392h0M182 84h0M126 67h0M367 323h0M316 131l2 -2M9 68h0M134 364h0M90 356l0 -3M163 6h0M229 21l3 -2M371 270l3 1M87 404l1 2M395 196l-3 3M273 348h0M71 178l-3 -1M352 8h0M131 19h0M241 59h0M213 226h0M398 9h0M5 99h0M199 374h0M79 181h0M210 305h0M107 188h0M252 172l3 -3M145 202l-2 -1M194 345l3 1M305 385h0M329 166l2 -1M174 266h0M142 173l-3 1M335 180l-1 -2M78 397l4 -1M394 118l2 -1M15 70l-1 -2M322 275h0M270 385l-1 -2M97 313h0M119 155h0M242 194h0M388 54h0M292 243h0M128 143h0M130 209h0M293 408h0M286 221h0M315 277h0M254 343l2 2M115 86h0M140 18h0M5 385h0M85 286h0M170 200h0M166 272l-3 1M223 4h0M394 370h0M146 241h0M281 14h0M247 152h0M185 201l-4 0M127 348l-0 -4M63 377l2 -1M262 70h0M297 183h0M188 410l-2 3M359 16l-2 1M62 92l3 -1M278 76h0M91 51l-1 -2M274 406l-1 -4M218 381h0M262 130h0M169 384h0M236 365h0M12 341l1 -3M267 80l-1 2M244 239l2 3M53 102h0M136 294l1 4M136 201l-4 0M101 115l2 -1M301 203h0M353 241h0M213 9h0M245 209h0M206 401h0M159 352h0M212 103h0M380 86l-3 -3M374 396l-1 1M155 187h0M74 163h0M8 35h0M402 133l3 -1M129 283l-3 1M48 228l2 -1M344 121h0M223 37h0M207 63h0M373 295l-1 3M285 141h0M329 410h0M269 181l-1 1M182 348h0M192 211h0M243 403l2 -1M152 67h0M252 48h0M14 41h0M412 280l1 -2M187 319h0M176 72h0M210 359l2 4M238 156h0M173 180l2 3M208 189l-3 -0M347 370h0M148 394h0M173 59h0M181 318l-1 -3M278 27h0M178 378l-1 -4M358 135h0M11 9h0M210 120h0M305 333h0M67 58h0M111 259h0M19 31l3 -1M378 414l-2 2M16 396l1 1M24 217h0M210 336h0M343 147l-1 -2M69 123l-3 -0M265 248l2 1M353 213h0M123 258h0M59 37h0M144 114l3 -2M266 161h0M85 215l-2 -2M108 123h0M195 79l2 -2M110 177h0M388 225l-1 -2M317 87l-3 2M1 9h0M56 231h0M66 142h0M172 407h0M293 124h0M146 190h0M127 4l-2 3M369 240h0M61 157h0M152 120l2 -1M406 237l2 -0M390 273h0M2 259h0M107 303l1 2M41 266h0M313 126l-2 -4M351 261h0M393 146l2 1M21 81h0M390 97h0M20 104h0M72 378h0M280 212h0M155 147h0M362 169l-3 -1M186 242h0M7 134h0M130 160l-2 4M416 356h0M275 329h0M346 385h0M376 196h0M414 45h0M376 49h0M214 268h0M131 193h0M395 293h0M321 391h0M312 400l-2 1M275 16l-3 -0M400 45l-1 3M252 192l-3 3M125 309h0M303 259h0M41 27h0M143 104h0M153 37h0M133 147h0M26 394h0M350 277h0M293 152l-2 0M139 386h0M147 303h0M146 413h0M76 266h0M96 344h0M75 57h0M119 237h0M183 387l-1 -3M230 348l-0 3M101 378h0M23 342l-2 -2M86 341h0M409 160h0M280 340l0 -2M361 342l-0 3M50 378l1 3M274 82l-3 -0M274 261h0M50 317h0M383 335h0M34 157h0M25 298h0M110 345h0M83 352h0M0 151h0M2 60l-1 3M213 289l-0 -3M10 244l-1 1M228 199h0M225 327h0M312 187l3 2M16 97l3 1M259 49h0M200 98h0M8 74l0 2M119 270h0M255 208h0M297 176h0M264 201l1 3M96 210h0M419 219h0M46 242h0M115 1h0M340 339l-2 -1M34 109l2 2M81 369h0M158 276h0M391 138h0M373 185h0M221 303h0M182 153h0M409 59h0M226 159h0M147 54h0M105 261h0M21 310h0M151 371h0M385 16h0M82 166h0M320 121l4 -0M259 412h0M237 323l3 1M335 214l-2 -3M250 378h0M320 155h0M22 370h0M141 327h0M120 19h0M182 106l-0 -4M33 317l-1 -3M130 182h0M125 384l-1 4M40 410h0M228 259l-1 -4M337 100h0M33 409l-0 -2M103 398h0M304 21h0M111 271l-1 4M120 396h0M269 117h0M154 298h0M15 276h0M324 18h0M75 105h0M191 34h0M323 398l-2 -0M298 238l-4 -0M289 14h0M347 218h0M346 310h0M10 406h0M356 86h0M95 92l3 -3M325 350h0M312 143h0M301 123l-0 -3M177 207h0M26 64h0M60 317h0M336 64h0M176 291h0M389 363h0M80 114h0M22 21h0M301 232l4 -0M250 124h0M203 340h0M287 101h0M37 193l-4 2M411 413h0M280 371h0M40 115l-1 3M24 352l3 -2M2 298h0M133 174h0M349 186h0M282 320h0M112 92h0M381 365h0M261 136h0M29 51h0M372 343h0M386 168h0M255 99h0M193 125h0M326 177h0M344 12h0M325 327h0M338 82l-3 1M150 140h0M244 4l1 -3M167 168l1 4M201 25l-1 -2M287 114h0M408 133l-1 4M398 24h0M365 227h0M270 370h0M174 228h0M85 243h0M299 300h0M224 242h0M155 18h0M52 63h0M355 62h0M311 297h0M211 19h0M344 281h0M111 73h0M368 413h0M265 406h0M2 231l0 2M67 314h0M112 27h0M322 405l4 1M86 66h0M271 137h0M0 134l-1 -2M323 311l3 1M215 42l1 -2M322 135h0M39 223h0M269 51l-4 1M253 364h0M117 223h0M322 10h0M74 275l-2 1M361 331l0 -3M238 238l-2 3M350 75h0M120 203h0M88 387h0M50 45l1 3M220 163h0M402 147l1 2M54 392h0M338 287h0M273 147h0M418 149h0M64 18h0M138 109h0M364 352h0M229 209h0M192 383h0M43 305h0M157 269h0M417 135l2 3M218 337h0M28 380l2 0M384 379h0M1 200h0M0 269h0M48 248h0M211 216h0M310 65h0M207 89h0M150 2l3 -2M169 349h0M16 151h0M35 332l-2 -3M44 18l-3 2M41 291l2 0M90 182h0M416 22h0M316 363h0M180 132h0M75 151h0M334 392l-2 3M188 336h0M309 31l-3 -2M14 380h0M54 254l-3 -1M223 178h0M181 21l2 3M231 31h0M37 251h0M406 273h0M110 209l-4 0M286 179h0M140 286h0M80 322h0M273 46h0M370 123h0M230 306h0M387 182h0M385 357h0M398 394h0M61 111h0M340 269h0M97 334h0M135 122l1 -2M418 349l0 -3M103 97h0M274 376l-3 -2M164 90h0M287 326l-3 1M42 41h0M282 240h0M169 76h0M415 72h0M177 330l2 3M340 403h0M272 165h0M224 267h0M407 45l1 -4M49 259h0M197 323h0M418 290h0M134 288h0M62 192h0M59 215h0M317 207h0M299 107h0M198 50l-1 3M365 118h0M54 154l1 -2M358 380h0M359 214l1 3M27 223h0M162 33l-3 1M51 361h0M171 19h0M243 308h0M13 102l2 -1M365 74h0M395 326h0M308 291h0M113 20h0M307 243h0M309 417h0M218 294l-4 -2M389 90h0M378 79l-1 -2M83 227h0M201 411l1 -2M409 83l3 0M281 232h0M345 405l-1 -1M9 413l0 -2M337 144h0M224 275h0M223 125h0M305 2h0M37 381h0M398 103h0M369 54h0M291 293h0M300 54h0M227 106h0M260 378h0M109 248l-2 -1M281 63h0M311 155h0M364 130h0M366 93l0 2M413 238h0M10 282l-0 -2M382 49h0M41 375h0M45 330h0M89 173h0M181 304h0M56 273h0M274 92l-2 -2M418 38h0M234 48h0M26 264h0M259 76h0M176 47l1 -2M249 85h0M356 74h0M65 210l-2 3M0 182l-2 -1M20 204h0M367 196h0M83 13h0M206 147l-1 -2M226 131l2 -0M261 356h0M400 80l1 -2M138 235h0M284 408h0"/><path stroke-width="4.2" stroke-opacity="0.62" d="M246 279h0M44 105h0M107 63h0M68 383h0M349 96l-0 -4M156 365l-2 -1M323 34l1 -1M75 281h0M286 346h0M329 254l-1 3M123 406h0M360 51h0M137 402h0M23 45l0 3M186 71h0M39 389h0M310 354h0M125 92h0M412 122l0 -2M243 85h0M369 376l3 1M218 76h0M256 417h0M304 413h0M310 22l-3 -3M266 393h0M110 132l-2 1M47 81l3 1M111 333l2 4M367 361h0M383 320l2 -1M136 188l4 -1M71 157l4 1M184 115l-1 -4M91 257l-3 0M325 377l-1 -4M111 226h0M416 380l1 -1M297 324h0M235 144h0M150 279h0M217 188h0M32 127h0M120 212h0M199 19h0M338 361l-1 3M411 139l-2 -2M7 41h0M393 416h0M46 364l2 -2M10 371l-1 -4M141 152h0M122 248h0M259 104h0M16 357l-1 2M379 271h0M130 154h0M184 213h0M347 198h0M331 38l1 2M418 102l-2 2M276 236h0M49 167h0M254 37h0M334 278h0M88 71l0 3M105 89h0M155 238h0M303 130h0M266 191l-0 2M162 285h0M115 148h0M342 139h0M67 252l-1 3M377 125h0M310 206l-2 -2M93 225h0M201 397h0M212 183l1 3M248 344h0M35 63l1 4M13 192h0M66 37h0M272 249h0M212 140l-4 -0M102 71h0M172 371h0M252 278h0M46 37h0M266 414l1 2M185 256l4 -1M248 9h0M219 222h0M161 160h0M225 291h0M46 391l1 2M139 54h0M311 271h0M169 416h0M142 46h0M95 8h0M110 408h0M241 50h0M187 378h0M92 130l-4 -0M110 240l1 -4M366 382h0M95 168h0M258 405h0M241 331h0M405 32l4 -1M8 118l0 2M413 267l1 -1M167 129h0M18 186h0M71 346l2 -1M224 406h0M172 238l-3 1M252 331h0M374 148h0M295 96h0M167 229h0M296 344l2 0M84 78h0M112 355h0M343 378h0M85 263h0M3 288h0M394 206h0M136 211h0M256 88l2 -0M341 50l0 -2M95 2l2 -3M120 185l-4 1M258 265l0 3M55 90h0M11 145l-3 3M59 128l1 2M60 356l1 -3M282 153l1 2M362 141l-1 -1M34 417h0M196 316h0M46 280h0M21 252l-2 -0M244 146l-2 1M391 48l-1 4M302 372h0M174 285h0M88 197l2 2M62 222h0M263 307l3 1M248 203h0M219 203h0M57 381h0M7 159h0M186 271h0M338 192h0M91 119h0M106 337l-3 3M27 417l2 -1M203 302l-2 -2M60 43l-2 -2M195 282h0M338 163h0M412 51h0M127 169h0M302 62h0M147 403l-4 -0M39 168l-3 -2M254 290h0M99 248h0M96 199l-2 -3M29 231h0M347 131h0M236 213l-3 -1M199 360l0 -3M94 100h0M308 227h0M305 363h0M296 219h0M361 10h0M146 184l-2 -1M252 105h0M48 113h0M226 234l1 -1M216 26h0M303 100l3 3M358 410h0M390 288h0M141 319h0M81 58l2 -2M298 355l1 2M166 390h0M39 230h0M327 24h0M374 218l-3 3M365 39l-3 -0M202 6h0M298 27h0M194 8h0M304 173l2 -0M75 221h0M337 129h0M290 65h0M319 336h0M412 116h0M156 399h0M182 371h0M347 2h0M269 283h0M30 257h0M120 122h0M385 147h0M297 265l-4 -1M415 57h0M202 264h0M367 293h0M98 325h0M239 99h0M142 196l3 0M213 367h0M355 206l1 2M58 344l0 2M111 116h0M277 158l1 -3M117 410h0M312 180l0 -4M55 108h0M229 114h0M2 91l3 2M21 409h0M214 259h0M64 151l-2 -2M258 309l2 2M293 380l2 3M410 89h0M128 318h0M236 19l-1 -4M418 322h0M256 166h0M203 196h0M51 189h0M212 322h0M123 28h0M252 66h0M67 307h0M148 216l2 3M345 258h0M255 152h0M130 238h0M42 404l-1 -4M218 278l-2 0M406 280h0M204 230h0M220 416l0 -3M330 289h0M93 411h0M313 378l2 1M69 134h0M350 47h0M323 344l-2 0M411 403h0M270 228l1 2M380 154h0M361 82l1 -3M77 27h0M9 311h0M137 60h0M354 80h0M279 121h0M264 295h0M115 165h0M143 4h0M409 320l-2 -1M24 332h0M250 357h0M65 352h0M186 29l0 2M338 347h0M79 129h0M406 265h0M124 356h0M52 266h0M275 389l1 -3M235 177h0M357 301l2 3M132 83h0M11 304h0M235 60l1 -1M95 113h0M251 141h0M169 13h0M210 54h0M280 98h0M386 175h0M384 122h0M55 54l3 1M60 290h0M408 296l2 1M376 3h0M214 298h0M2 253h0M89 293l2 -4M36 272h0M410 167h0M240 139h0M14 24l-0 -2M197 167h0M396 112h0M349 84h0M283 386l-1 -4M217 56h0M169 194h0M19 261h0M336 328h0M145 254h0M275 0h0M113 383l-2 -1M266 44h0M211 276l1 2M77 316l-3 -3M402 291h0M205 367h0M319 268l1 4M149 379h0M297 384h0M103 360h0M94 31l-1 -1M126 40h0M329 131h0M175 302h0M237 281h0M257 121l1 1M37 22h0M220 112h0M285 256h0M386 128l3 3M99 272h0M389 407h0M179 78h0M269 23l-2 -1M346 61h0M91 215l3 2M285 41h0M393 379l-2 2M175 312l-3 1M131 353h0M311 5h0M298 91l1 1M239 79h0M130 341h0M259 232h0M365 278h0M57 80l1 -2M397 365l-2 3M369 160h0M358 146l2 -2M75 371h0M229 279l1 2M22 237h0M216 250h0M155 312h0"/></g><polygon points="1074.2,722.8 1068.1,726.7 1062.0,725.4 1057.6,723.2 1053.8,719.2 1054.1,713.1 1058.4,708.8 1064.6,706.2 1071.2,708.9 1075.3,715.2" fill="#fff" fill-opacity="0.4"/><path d="M1063.1 717.4L1064.4 725.3L1066.0 731.8M1063.1 717.4L1057.1 722.2L1051.2 725.6M1063.1 717.4L1056.7 715.9L1051.2 715.6M1063.1 717.4L1056.8 711.5L1052.1 705.4M1063.1 717.4L1063.0 709.8L1061.9 703.4M1063.1 717.4L1070.3 713.3L1076.0 709.1M1063.1 717.4L1071.1 715.9L1077.5 715.7M1063.1 717.4L1069.6 722.8L1074.4 726.7" fill="none" stroke="#fff" stroke-opacity="0.34" stroke-width="5.5" stroke-linecap="round" stroke-linejoin="round"/><circle cx="1061.7" cy="716.5" r="4.8" fill="#fff" fill-opacity="0.06"/><polygon points="1109.5,729.7 1103.0,724.6 1105.7,716.4 1112.1,710.1 1120.7,713.2 1124.8,720.3 1121.8,727.2 1116.5,732.7" fill="#fff" fill-opacity="0.4"/><path d="M1114.5 722.3L1106.4 725.4L1100.2 728.7M1114.5 722.3L1108.8 717.8L1104.1 714.6M1114.5 722.3L1114.4 714.1L1113.8 707.4M1114.5 722.3L1121.7 717.5L1126.9 714.8M1114.5 722.3L1123.4 724.7L1130.5 728.0M1114.5 722.3L1119.5 729.8L1122.7 737.0M1114.5 722.3L1112.6 729.5L1112.2 735.4" fill="none" stroke="#fff" stroke-opacity="0.34" stroke-width="5.5" stroke-linecap="round" stroke-linejoin="round"/><circle cx="1116.1" cy="723.7" r="4.8" fill="#fff" fill-opacity="0.06"/><polygon points="1132.9,742.8 1126.1,746.7 1119.4,742.4 1117.0,735.8 1116.8,728.1 1124.4,727.0 1131.4,723.6 1136.4,729.7 1138.2,737.2" fill="#fff" fill-opacity="0.4"/><path d="M1126.7 734.6L1135.8 734.5L1143.2 734.7M1126.7 734.6L1132.0 740.0L1135.7 743.7M1126.7 734.6L1126.8 743.0L1126.2 750.0M1126.7 734.6L1121.2 741.0L1117.6 745.4M1126.7 734.6L1120.1 735.4L1114.8 736.7M1126.7 734.6L1120.7 730.0L1115.7 725.9M1126.7 734.6L1126.9 726.6L1128.6 720.0M1126.7 734.6L1132.7 727.8L1137.5 721.5" fill="none" stroke="#fff" stroke-opacity="0.34" stroke-width="5.5" stroke-linecap="round" stroke-linejoin="round"/><circle cx="1127.0" cy="735.3" r="4.8" fill="#fff" fill-opacity="0.06"/><polygon points="1382.0,729.2 1389.3,729.8 1394.8,734.1 1395.8,740.9 1394.7,749.0 1386.6,753.3 1378.5,749.2 1375.8,741.6 1376.3,734.2" fill="#fff" fill-opacity="0.4"/><path d="M1386.1 739.5L1392.1 745.1L1396.8 750.4M1386.1 739.5L1385.7 749.9L1386.0 758.4M1386.1 739.5L1376.8 745.3L1368.0 747.9M1386.1 739.5L1376.8 735.4L1369.7 731.2M1386.1 739.5L1381.8 730.0L1378.6 721.8M1386.1 739.5L1389.7 732.2L1391.6 726.4M1386.1 739.5L1397.0 738.4L1405.8 738.8" fill="none" stroke="#fff" stroke-opacity="0.34" stroke-width="6.6" stroke-linecap="round" stroke-linejoin="round"/><circle cx="1387.9" cy="738.2" r="5.8" fill="#fff" fill-opacity="0.06"/><polygon points="1312.0,742.6 1319.5,746.0 1321.5,753.9 1317.5,759.9 1312.2,763.8 1305.9,762.2 1297.4,759.2 1301.5,751.2 1305.4,746.2" fill="#fff" fill-opacity="0.4"/><path d="M1310.3 754.2L1302.3 756.1L1296.1 759.1M1310.3 754.2L1303.4 748.4L1298.4 744.7M1310.3 754.2L1312.0 744.9L1315.4 737.4M1310.3 754.2L1317.5 755.7L1323.4 757.0M1310.3 754.2L1310.8 762.1L1311.9 768.9" fill="none" stroke="#fff" stroke-opacity="0.34" stroke-width="6.1" stroke-linecap="round" stroke-linejoin="round"/><circle cx="1311.0" cy="753.2" r="5.3" fill="#fff" fill-opacity="0.06"/><polygon points="1012.1,762.5 1012.4,755.5 1019.1,753.2 1024.9,753.8 1028.9,757.9 1029.2,763.4 1028.3,770.7 1020.8,772.2 1014.3,769.0" fill="#fff" fill-opacity="0.4"/><path d="M1021.5 761.5L1015.3 764.6L1009.6 767.3M1021.5 761.5L1013.4 761.5L1006.7 759.7M1021.5 761.5L1018.6 755.8L1016.4 750.9M1021.5 761.5L1021.5 755.0L1022.8 749.8M1021.5 761.5L1027.8 757.1L1032.1 753.2M1021.5 761.5L1027.8 764.7L1033.4 767.4M1021.5 761.5L1025.6 768.0L1029.5 772.5M1021.5 761.5L1019.2 767.8L1016.1 772.9" fill="none" stroke="#fff" stroke-opacity="0.34" stroke-width="5.5" stroke-linecap="round" stroke-linejoin="round"/><circle cx="1020.0" cy="760.9" r="4.8" fill="#fff" fill-opacity="0.06"/><polygon points="1327.9,788.6 1320.4,792.2 1312.5,789.0 1309.2,781.4 1311.4,772.8 1319.8,769.2 1327.7,773.1 1328.7,780.9" fill="#fff" fill-opacity="0.4"/><path d="M1320.1 781.1L1327.5 779.9L1333.5 780.3M1320.1 781.1L1323.6 786.9L1326.9 792.4M1320.1 781.1L1313.3 785.7L1306.7 790.1M1320.1 781.1L1313.4 776.7L1308.5 773.4M1320.1 781.1L1321.1 774.8L1322.9 769.6" fill="none" stroke="#fff" stroke-opacity="0.34" stroke-width="5.5" stroke-linecap="round" stroke-linejoin="round"/><circle cx="1321.6" cy="782.0" r="4.8" fill="#fff" fill-opacity="0.06"/><polygon points="1095.7,785.8 1092.0,782.1 1090.5,776.7 1095.1,773.4 1098.9,770.2 1103.7,771.9 1108.2,774.9 1108.0,780.4 1104.9,784.3 1100.7,787.0" fill="#fff" fill-opacity="0.4"/><path d="M1099.8 778.6L1097.3 784.6L1094.4 789.3M1099.8 778.6L1092.6 779.9L1087.0 782.2M1099.8 778.6L1094.4 776.1L1090.1 773.5M1099.8 778.6L1099.0 771.8L1097.3 766.0M1099.8 778.6L1104.0 775.7L1107.6 772.8M1099.8 778.6L1107.0 777.4L1112.8 776.7M1099.8 778.6L1102.9 782.8L1105.7 786.1M1099.8 778.6L1100.8 784.3L1102.8 788.8" fill="none" stroke="#fff" stroke-opacity="0.34" stroke-width="4.4" stroke-linecap="round" stroke-linejoin="round"/><circle cx="1099.2" cy="777.4" r="3.8" fill="#fff" fill-opacity="0.06"/><polygon points="1226.4,788.5 1224.9,781.3 1229.2,775.4 1235.4,772.2 1242.2,773.7 1245.4,779.5 1247.5,785.5 1242.8,789.8 1237.9,791.8 1231.1,794.1" fill="#fff" fill-opacity="0.4"/><path d="M1236.9 783.5L1229.3 782.6L1223.0 782.5M1236.9 783.5L1231.4 777.0L1227.8 771.8M1236.9 783.5L1240.4 777.5L1244.4 771.7M1236.9 783.5L1244.4 782.7L1250.5 782.5M1236.9 783.5L1242.8 788.7L1248.6 794.4M1236.9 783.5L1232.4 788.4L1228.6 793.5" fill="none" stroke="#fff" stroke-opacity="0.34" stroke-width="5.5" stroke-linecap="round" stroke-linejoin="round"/><circle cx="1235.7" cy="784.5" r="4.8" fill="#fff" fill-opacity="0.06"/><polygon points="1253.0,772.2 1259.4,777.5 1263.7,785.1 1257.5,791.3 1250.5,791.6 1244.5,788.9 1241.6,782.2 1244.5,774.3" fill="#fff" fill-opacity="0.4"/><path d="M1251.5 783.5L1248.1 775.2L1246.5 767.8M1251.5 783.5L1254.8 775.6L1259.3 769.7M1251.5 783.5L1260.5 782.2L1267.7 779.7M1251.5 783.5L1256.6 786.8L1261.0 790.2M1251.5 783.5L1253.7 790.6L1256.4 796.1M1251.5 783.5L1245.6 788.1L1240.4 793.3M1251.5 783.5L1242.7 784.9L1235.5 785.3M1251.5 783.5L1247.5 779.5L1243.5 775.3" fill="none" stroke="#fff" stroke-opacity="0.34" stroke-width="5.5" stroke-linecap="round" stroke-linejoin="round"/><circle cx="1249.8" cy="784.6" r="4.8" fill="#fff" fill-opacity="0.06"/><polygon points="1055.3,804.6 1050.0,811.0 1042.9,806.7 1037.5,801.6 1039.2,794.3 1043.8,789.3 1050.8,787.5 1059.3,789.9 1058.6,798.7" fill="#fff" fill-opacity="0.4"/><path d="M1048.4 798.2L1056.9 790.8L1063.4 784.7M1048.4 798.2L1056.2 800.8L1062.5 803.9M1048.4 798.2L1052.6 807.4L1057.6 815.2M1048.4 798.2L1048.5 808.4L1047.2 816.9M1048.4 798.2L1040.3 806.2L1034.5 811.8M1048.4 798.2L1038.9 795.7L1031.2 794.6M1048.4 798.2L1041.2 792.8L1036.5 787.0M1048.4 798.2L1049.4 788.6L1048.4 780.7" fill="none" stroke="#fff" stroke-opacity="0.34" stroke-width="6.6" stroke-linecap="round" stroke-linejoin="round"/><circle cx="1046.4" cy="799.0" r="5.8" fill="#fff" fill-opacity="0.06"/><polygon points="1105.0,816.1 1099.0,812.1 1094.2,806.6 1096.5,799.7 1100.6,795.2 1105.5,789.6 1112.9,791.1 1118.2,796.4 1115.7,803.3 1117.6,810.2 1111.0,812.2" fill="#fff" fill-opacity="0.4"/><path d="M1107.1 803.1L1115.6 797.7L1121.9 793.5M1107.1 803.1L1115.7 807.1L1123.9 812.2M1107.1 803.1L1105.0 812.6L1102.3 820.8M1107.1 803.1L1098.8 805.2L1091.6 808.0M1107.1 803.1L1102.3 796.8L1097.6 792.5M1107.1 803.1L1108.8 796.0L1110.0 790.3" fill="none" stroke="#fff" stroke-opacity="0.34" stroke-width="6.1" stroke-linecap="round" stroke-linejoin="round"/><circle cx="1108.5" cy="802.2" r="5.3" fill="#fff" fill-opacity="0.06"/><polygon points="1153.5,812.3 1144.4,813.7 1137.0,812.7 1134.2,806.0 1131.9,796.7 1141.1,793.7 1150.0,794.6 1156.5,802.4" fill="#fff" fill-opacity="0.4"/><path d="M1142.9 804.6L1133.8 804.7L1126.4 803.1M1142.9 804.6L1143.6 797.4L1144.7 791.5M1142.9 804.6L1149.8 801.3L1155.2 798.0M1142.9 804.6L1150.0 810.6L1156.0 816.6M1142.9 804.6L1136.9 812.2L1132.7 817.7" fill="none" stroke="#fff" stroke-opacity="0.34" stroke-width="6.1" stroke-linecap="round" stroke-linejoin="round"/><circle cx="1143.6" cy="805.4" r="5.3" fill="#fff" fill-opacity="0.06"/><polygon points="1085.5,835.8 1083.1,841.9 1077.2,844.3 1070.9,845.0 1067.0,840.0 1061.9,835.5 1065.7,829.8 1067.2,822.3 1074.5,823.7 1081.3,823.6 1086.2,828.8" fill="#fff" fill-opacity="0.4"/><path d="M1074.3 834.0L1069.5 826.5L1064.1 821.0M1074.3 834.0L1077.9 823.9L1080.0 816.1M1074.3 834.0L1081.7 827.4L1087.0 823.4M1074.3 834.0L1083.0 836.1L1090.5 837.2M1074.3 834.0L1081.5 841.8L1086.1 846.9M1074.3 834.0L1071.7 843.9L1068.3 851.5M1074.3 834.0L1065.7 837.5L1058.6 838.9M1074.3 834.0L1065.8 832.8L1058.7 832.7" fill="none" stroke="#fff" stroke-opacity="0.34" stroke-width="6.1" stroke-linecap="round" stroke-linejoin="round"/><circle cx="1073.6" cy="832.6" r="5.3" fill="#fff" fill-opacity="0.06"/><polygon points="1387.8,822.8 1389.5,827.5 1386.5,831.9 1381.5,833.9 1377.9,830.0 1375.7,827.2 1374.5,823.2 1376.9,819.5 1381.0,817.3 1385.5,818.9" fill="#fff" fill-opacity="0.4"/><path d="M1381.3 825.1L1376.7 828.7L1372.7 831.4M1381.3 825.1L1376.6 823.8L1372.7 823.6M1381.3 825.1L1379.7 819.5L1377.5 815.2M1381.3 825.1L1384.2 819.4L1386.3 814.7M1381.3 825.1L1386.6 823.6L1391.0 823.1M1381.3 825.1L1385.5 828.0L1388.7 830.7M1381.3 825.1L1380.8 829.9L1380.4 833.8" fill="none" stroke="#fff" stroke-opacity="0.34" stroke-width="3.8" stroke-linecap="round" stroke-linejoin="round"/><circle cx="1381.5" cy="826.3" r="3.4" fill="#fff" fill-opacity="0.06"/><polygon points="1173.7,854.7 1177.8,857.9 1183.0,860.4 1183.7,866.4 1182.1,872.8 1176.0,875.7 1170.3,872.6 1164.0,871.5 1161.9,865.4 1163.0,859.0 1167.2,853.9" fill="#fff" fill-opacity="0.4"/><path d="M1173.2 864.3L1169.8 858.6L1166.9 853.4M1173.2 864.3L1174.3 854.8L1177.0 847.4M1173.2 864.3L1179.8 862.0L1184.9 859.5M1173.2 864.3L1178.5 870.3L1182.6 874.7M1173.2 864.3L1171.9 873.3L1172.5 880.8M1173.2 864.3L1168.9 869.0L1164.7 873.1M1173.2 864.3L1165.1 863.5L1158.6 862.1" fill="none" stroke="#fff" stroke-opacity="0.34" stroke-width="5.5" stroke-linecap="round" stroke-linejoin="round"/><circle cx="1171.7" cy="865.8" r="4.8" fill="#fff" fill-opacity="0.06"/><polygon points="1245.8,876.1 1239.7,880.1 1236.0,885.0 1229.3,885.9 1224.4,881.3 1223.9,875.3 1223.1,869.5 1225.6,862.4 1233.1,861.8 1239.3,864.4 1243.7,869.3" fill="#fff" fill-opacity="0.4"/><path d="M1232.9 874.1L1236.7 868.5L1241.1 863.1M1232.9 874.1L1240.3 876.2L1246.1 879.2M1232.9 874.1L1235.6 882.3L1236.8 889.1M1232.9 874.1L1223.8 878.3L1217.1 881.8M1232.9 874.1L1224.7 868.9L1218.8 863.0" fill="none" stroke="#fff" stroke-opacity="0.34" stroke-width="6.1" stroke-linecap="round" stroke-linejoin="round"/><circle cx="1233.8" cy="875.9" r="5.3" fill="#fff" fill-opacity="0.06"/><polygon points="1312.0,881.7 1310.0,876.2 1313.1,871.6 1318.0,868.2 1323.7,871.0 1325.7,876.9 1322.2,881.5 1317.3,883.4" fill="#fff" fill-opacity="0.4"/><path d="M1317.6 876.5L1319.4 869.5L1319.9 863.8M1317.6 876.5L1323.0 872.6L1327.0 869.6M1317.6 876.5L1322.6 878.1L1326.3 880.0M1317.6 876.5L1318.6 882.8L1319.6 888.2M1317.6 876.5L1316.0 881.6L1314.2 886.2M1317.6 876.5L1311.3 879.6L1305.7 881.1M1317.6 876.5L1313.2 871.0L1309.8 866.8" fill="none" stroke="#fff" stroke-opacity="0.34" stroke-width="4.4" stroke-linecap="round" stroke-linejoin="round"/><circle cx="1317.3" cy="875.9" r="3.8" fill="#fff" fill-opacity="0.06"/><polygon points="1041.3,873.3 1048.6,872.1 1056.4,876.4 1055.9,885.7 1049.5,891.5 1041.8,889.6 1036.4,885.3 1036.5,878.2" fill="#fff" fill-opacity="0.4"/><path d="M1045.0 881.4L1044.8 889.0L1044.7 895.2M1045.0 881.4L1037.5 884.3L1031.6 886.4M1045.0 881.4L1041.5 876.7L1037.8 872.0M1045.0 881.4L1050.8 878.6L1056.1 875.1M1045.0 881.4L1052.5 887.8L1057.5 892.1" fill="none" stroke="#fff" stroke-opacity="0.34" stroke-width="5.5" stroke-linecap="round" stroke-linejoin="round"/><circle cx="1045.0" cy="880.4" r="4.8" fill="#fff" fill-opacity="0.06"/><polygon points="1211.6,907.7 1206.0,908.6 1201.5,905.4 1196.0,901.9 1198.6,896.0 1199.6,889.5 1205.6,885.0 1211.1,890.7 1215.0,893.8 1216.1,898.6 1214.7,903.3" fill="#fff" fill-opacity="0.4"/><path d="M1207.5 898.6L1214.2 897.1L1220.1 894.4M1207.5 898.6L1214.3 903.1L1220.8 906.9M1207.5 898.6L1211.8 906.2L1214.6 912.0M1207.5 898.6L1203.3 905.1L1199.1 911.0M1207.5 898.6L1198.2 899.4L1190.6 900.0M1207.5 898.6L1203.7 890.6L1200.0 884.4M1207.5 898.6L1206.5 891.6L1206.6 885.7" fill="none" stroke="#fff" stroke-opacity="0.34" stroke-width="6.1" stroke-linecap="round" stroke-linejoin="round"/><circle cx="1208.7" cy="898.1" r="5.3" fill="#fff" fill-opacity="0.06"/><polygon points="1270.0,912.2 1268.2,906.1 1271.0,901.1 1275.8,897.4 1281.6,900.1 1283.5,905.7 1282.4,912.0 1276.2,912.3" fill="#fff" fill-opacity="0.4"/><path d="M1276.0 905.9L1270.8 908.0L1266.7 909.9M1276.0 905.9L1270.0 903.4L1264.4 901.5M1276.0 905.9L1272.3 899.4L1269.1 894.0M1276.0 905.9L1278.7 901.9L1281.4 898.4M1276.0 905.9L1283.2 904.3L1289.3 903.8M1276.0 905.9L1281.4 908.2L1285.9 909.8M1276.0 905.9L1277.6 912.4L1279.7 917.4M1276.0 905.9L1274.5 911.0L1272.4 915.2" fill="none" stroke="#fff" stroke-opacity="0.34" stroke-width="4.4" stroke-linecap="round" stroke-linejoin="round"/><circle cx="1275.0" cy="905.3" r="3.8" fill="#fff" fill-opacity="0.06"/><polygon points="1289.0,900.6 1296.2,900.4 1301.3,902.1 1304.6,906.2 1306.6,912.6 1301.4,917.2 1294.7,917.7 1290.6,913.0 1286.0,907.6" fill="#fff" fill-opacity="0.4"/><path d="M1297.1 908.4L1294.6 913.9L1292.9 918.5M1297.1 908.4L1291.1 909.2L1286.1 909.5M1297.1 908.4L1293.3 903.5L1290.7 899.9M1297.1 908.4L1299.2 901.9L1301.8 896.3M1297.1 908.4L1302.7 906.7L1307.2 904.0M1297.1 908.4L1300.8 912.4L1303.8 916.3" fill="none" stroke="#fff" stroke-opacity="0.34" stroke-width="5.0" stroke-linecap="round" stroke-linejoin="round"/><circle cx="1296.2" cy="907.9" r="4.3" fill="#fff" fill-opacity="0.06"/><polygon points="1045.1,910.1 1047.7,917.8 1041.4,923.4 1033.6,921.6 1026.2,919.4 1025.6,911.7 1024.3,903.6 1031.5,899.5 1038.2,902.3 1043.1,904.9" fill="#fff" fill-opacity="0.4"/><path d="M1036.2 910.8L1027.9 904.8L1021.8 901.0M1036.2 910.8L1035.5 901.5L1033.7 894.0M1036.2 910.8L1041.8 904.3L1047.0 897.6M1036.2 910.8L1045.6 911.3L1053.6 911.8M1036.2 910.8L1042.7 917.9L1049.8 923.6M1036.2 910.8L1036.0 919.8L1036.3 927.2M1036.2 910.8L1029.6 914.8L1024.8 919.5M1036.2 910.8L1027.5 910.8L1020.4 911.8" fill="none" stroke="#fff" stroke-opacity="0.34" stroke-width="6.1" stroke-linecap="round" stroke-linejoin="round"/><circle cx="1036.5" cy="912.7" r="5.3" fill="#fff" fill-opacity="0.06"/><polygon points="1011.6,915.6 1018.4,918.6 1017.1,925.8 1015.1,933.3 1007.3,932.6 1000.9,932.1 996.5,927.0 996.9,920.4 999.2,913.8 1006.2,912.0" fill="#fff" fill-opacity="0.4"/><path d="M1006.8 923.1L1014.7 923.5L1021.2 923.3M1006.8 923.1L1008.0 931.5L1009.3 938.3M1006.8 923.1L1001.8 927.8L996.9 931.5M1006.8 923.1L999.1 921.3L992.9 920.9M1006.8 923.1L1002.8 916.2L1000.3 911.2M1006.8 923.1L1013.1 917.5L1019.4 914.0" fill="none" stroke="#fff" stroke-opacity="0.34" stroke-width="6.1" stroke-linecap="round" stroke-linejoin="round"/><circle cx="1008.6" cy="921.9" r="5.3" fill="#fff" fill-opacity="0.06"/><polygon points="1257.4,925.5 1255.9,920.8 1258.3,916.9 1261.6,914.6 1266.3,911.9 1270.6,915.3 1273.7,920.3 1271.0,925.5 1266.9,929.4 1261.5,928.5" fill="#fff" fill-opacity="0.4"/><path d="M1263.8 920.6L1266.8 913.6L1267.8 908.2M1263.8 920.6L1269.1 919.7L1273.4 918.2M1263.8 920.6L1269.7 922.2L1274.3 923.4M1263.8 920.6L1266.1 927.7L1267.9 933.3M1263.8 920.6L1261.9 925.7L1259.5 929.5M1263.8 920.6L1257.7 923.3L1252.5 925.1M1263.8 920.6L1257.8 917.3L1253.5 914.4M1263.8 920.6L1260.5 913.5L1258.1 908.0" fill="none" stroke="#fff" stroke-opacity="0.34" stroke-width="4.4" stroke-linecap="round" stroke-linejoin="round"/><circle cx="1263.5" cy="920.5" r="3.8" fill="#fff" fill-opacity="0.06"/><polygon points="1122.1,914.9 1129.5,916.6 1134.0,922.7 1131.7,929.6 1132.2,937.4 1124.6,938.2 1119.0,936.9 1110.6,937.2 1107.8,929.7 1109.4,922.0 1116.8,919.8" fill="#fff" fill-opacity="0.4"/><path d="M1121.8 928.0L1120.8 935.9L1119.9 942.5M1121.8 928.0L1113.8 931.5L1106.7 935.4M1121.8 928.0L1114.7 922.3L1108.0 918.4M1121.8 928.0L1119.0 918.4L1117.9 910.7M1121.8 928.0L1127.8 922.5L1134.2 916.5M1121.8 928.0L1130.6 932.4L1138.1 935.6" fill="none" stroke="#fff" stroke-opacity="0.34" stroke-width="6.6" stroke-linecap="round" stroke-linejoin="round"/><circle cx="1121.4" cy="926.4" r="5.8" fill="#fff" fill-opacity="0.06"/><polygon points="1160.9,926.5 1167.0,930.4 1167.9,937.8 1164.6,945.8 1155.5,946.6 1150.3,940.0 1147.5,932.3 1152.4,924.6" fill="#fff" fill-opacity="0.4"/><path d="M1158.5 935.3L1151.6 931.6L1146.5 927.7M1158.5 935.3L1154.8 929.8L1152.3 925.4M1158.5 935.3L1161.7 926.6L1163.8 919.8M1158.5 935.3L1167.3 933.3L1174.1 930.7M1158.5 935.3L1164.3 943.3L1168.1 948.8M1158.5 935.3L1156.0 943.6L1153.0 951.0M1158.5 935.3L1152.1 939.8L1147.2 942.5" fill="none" stroke="#fff" stroke-opacity="0.34" stroke-width="5.5" stroke-linecap="round" stroke-linejoin="round"/><circle cx="1159.6" cy="934.9" r="4.8" fill="#fff" fill-opacity="0.06"/><polygon points="1224.2,936.9 1220.3,933.4 1222.1,928.5 1223.5,923.9 1227.8,921.0 1233.6,920.6 1236.1,925.8 1238.6,930.1 1236.4,934.5 1234.0,939.5 1228.4,940.6" fill="#fff" fill-opacity="0.4"/><path d="M1229.5 930.4L1222.4 929.6L1216.6 930.4M1229.5 930.4L1227.1 924.5L1225.1 919.9M1229.5 930.4L1234.0 925.4L1237.2 922.0M1229.5 930.4L1237.2 934.3L1243.3 936.8M1229.5 930.4L1228.7 936.4L1227.9 941.3" fill="none" stroke="#fff" stroke-opacity="0.34" stroke-width="5.0" stroke-linecap="round" stroke-linejoin="round"/><circle cx="1229.6" cy="931.4" r="4.3" fill="#fff" fill-opacity="0.06"/><polygon points="1311.5,940.2 1314.6,932.3 1322.5,925.8 1332.3,930.5 1336.4,940.2 1333.1,950.8 1322.5,953.7 1312.2,950.4" fill="#fff" fill-opacity="0.4"/><path d="M1322.5 940.2L1312.1 935.5L1303.9 931.3M1322.5 940.2L1319.4 933.0L1316.2 926.6M1322.5 940.2L1325.2 930.8L1329.4 922.1M1322.5 940.2L1327.9 935.6L1333.4 931.2M1322.5 940.2L1333.3 942.2L1341.7 944.5M1322.5 940.2L1327.9 947.8L1334.0 953.8M1322.5 940.2L1317.9 949.5L1314.3 956.7M1322.5 940.2L1314.2 945.2L1308.4 950.8" fill="none" stroke="#fff" stroke-opacity="0.34" stroke-width="6.6" stroke-linecap="round" stroke-linejoin="round"/><circle cx="1323.9" cy="941.2" r="5.8" fill="#fff" fill-opacity="0.06"/><polygon points="1243.7,976.8 1246.4,970.3 1247.5,964.5 1252.5,959.8 1258.9,962.0 1264.2,965.1 1269.0,970.7 1264.1,976.4 1260.6,981.0 1255.0,983.0 1248.8,981.4" fill="#fff" fill-opacity="0.4"/><path d="M1255.5 972.0L1254.8 964.5L1253.6 958.4M1255.5 972.0L1261.5 967.2L1265.8 962.0M1255.5 972.0L1263.1 976.8L1269.0 980.9M1255.5 972.0L1256.1 979.3L1255.1 985.2M1255.5 972.0L1246.3 976.0L1238.9 977.4M1255.5 972.0L1248.7 966.8L1243.3 961.0" fill="none" stroke="#fff" stroke-opacity="0.34" stroke-width="6.1" stroke-linecap="round" stroke-linejoin="round"/><circle cx="1255.9" cy="972.5" r="5.3" fill="#fff" fill-opacity="0.06"/><polygon points="1315.4,975.3 1312.1,980.8 1307.5,983.9 1302.4,983.9 1297.9,981.3 1294.5,976.5 1297.2,971.3 1301.1,967.5 1306.2,968.8 1310.8,970.7" fill="#fff" fill-opacity="0.4"/><path d="M1304.4 975.9L1304.0 969.3L1304.7 964.0M1304.4 975.9L1306.8 970.6L1309.1 966.0M1304.4 975.9L1310.9 975.1L1316.5 974.0M1304.4 975.9L1308.8 980.2L1312.3 982.9M1304.4 975.9L1303.6 981.8L1303.9 986.7M1304.4 975.9L1300.8 980.6L1297.1 983.6M1304.4 975.9L1297.7 975.9L1292.2 976.0M1304.4 975.9L1300.1 970.0L1296.2 965.7" fill="none" stroke="#fff" stroke-opacity="0.34" stroke-width="5.0" stroke-linecap="round" stroke-linejoin="round"/><circle cx="1303.7" cy="977.1" r="4.3" fill="#fff" fill-opacity="0.06"/><polygon points="1085.5,992.9 1083.1,985.1 1080.7,977.2 1086.7,971.4 1094.2,970.8 1102.9,970.0 1104.1,978.7 1105.8,985.9 1099.5,989.9 1093.7,992.0" fill="#fff" fill-opacity="0.4"/><path d="M1093.9 981.8L1096.4 974.7L1098.5 968.5M1093.9 981.8L1104.5 982.5L1113.3 981.1M1093.9 981.8L1100.8 985.7L1106.9 988.2M1093.9 981.8L1095.1 993.0L1093.8 1002.2M1093.9 981.8L1084.3 987.1L1076.7 992.1M1093.9 981.8L1086.4 979.3L1080.5 978.6M1093.9 981.8L1088.2 973.4L1083.2 967.0" fill="none" stroke="#fff" stroke-opacity="0.34" stroke-width="6.6" stroke-linecap="round" stroke-linejoin="round"/><circle cx="1093.0" cy="982.1" r="5.8" fill="#fff" fill-opacity="0.06"/><polygon points="1160.6,987.0 1162.7,992.5 1162.5,998.5 1160.0,1006.3 1151.7,1007.2 1144.5,1003.3 1143.1,995.8 1142.8,988.6 1149.6,986.3 1155.5,981.7" fill="#fff" fill-opacity="0.4"/><path d="M1153.6 994.0L1156.1 1002.6L1158.5 1010.0M1153.6 994.0L1147.1 1000.5L1141.3 1005.9M1153.6 994.0L1145.6 995.7L1139.3 998.1M1153.6 994.0L1145.8 988.3L1138.9 984.9M1153.6 994.0L1152.8 986.9L1152.6 981.0M1153.6 994.0L1159.2 988.8L1163.0 984.8M1153.6 994.0L1163.6 992.2L1171.5 989.6M1153.6 994.0L1160.6 998.2L1167.1 1002.2" fill="none" stroke="#fff" stroke-opacity="0.34" stroke-width="6.1" stroke-linecap="round" stroke-linejoin="round"/><circle cx="1155.5" cy="992.1" r="5.3" fill="#fff" fill-opacity="0.06"/><polygon points="1257.0,995.7 1264.7,997.5 1264.9,1005.6 1261.5,1012.6 1254.1,1010.8 1247.5,1009.3 1247.2,1002.3 1249.6,995.2" fill="#fff" fill-opacity="0.4"/><path d="M1255.5 1003.8L1256.5 998.2L1256.4 993.4M1255.5 1003.8L1260.9 1001.6L1265.6 1000.7M1255.5 1003.8L1260.9 1010.0L1265.0 1016.0M1255.5 1003.8L1251.6 1008.4L1248.4 1011.7M1255.5 1003.8L1248.0 1003.9L1241.9 1003.8" fill="none" stroke="#fff" stroke-opacity="0.34" stroke-width="5.0" stroke-linecap="round" stroke-linejoin="round"/><circle cx="1254.6" cy="1003.7" r="4.3" fill="#fff" fill-opacity="0.06"/><polygon points="1238.4,1028.5 1230.3,1028.5 1225.5,1022.5 1222.2,1016.1 1224.8,1009.1 1230.2,1003.1 1237.6,1006.4 1243.4,1009.5 1246.1,1016.1 1242.6,1022.1" fill="#fff" fill-opacity="0.4"/><path d="M1234.4 1016.1L1240.2 1011.5L1244.8 1006.6M1234.4 1016.1L1240.9 1022.1L1245.8 1027.4M1234.4 1016.1L1231.3 1022.9L1229.9 1028.1M1234.4 1016.1L1227.3 1017.9L1221.5 1019.5M1234.4 1016.1L1231.1 1007.0L1229.5 999.3" fill="none" stroke="#fff" stroke-opacity="0.34" stroke-width="6.1" stroke-linecap="round" stroke-linejoin="round"/><circle cx="1235.9" cy="1014.4" r="5.3" fill="#fff" fill-opacity="0.06"/><polygon points="1274.8,1033.0 1281.3,1030.0 1290.1,1029.7 1293.2,1037.9 1292.0,1045.7 1286.8,1052.0 1279.1,1049.7 1270.3,1048.1 1270.9,1039.2" fill="#fff" fill-opacity="0.4"/><path d="M1281.9 1040.6L1289.9 1039.9L1296.5 1040.7M1281.9 1040.6L1287.0 1048.3L1291.7 1055.6M1281.9 1040.6L1277.1 1049.1L1271.7 1055.2M1281.9 1040.6L1271.8 1041.3L1263.5 1042.0M1281.9 1040.6L1275.9 1033.6L1269.6 1027.6M1281.9 1040.6L1282.0 1031.7L1281.7 1024.5M1281.9 1040.6L1287.9 1032.7L1292.5 1025.2" fill="none" stroke="#fff" stroke-opacity="0.34" stroke-width="6.6" stroke-linecap="round" stroke-linejoin="round"/><circle cx="1283.7" cy="1039.9" r="5.8" fill="#fff" fill-opacity="0.06"/><polygon points="1357.8,1068.0 1351.1,1070.5 1347.5,1064.1 1345.7,1059.3 1343.9,1053.4 1348.7,1049.7 1354.0,1047.6 1359.9,1048.3 1364.1,1052.8 1365.6,1058.9 1363.4,1065.0" fill="#fff" fill-opacity="0.4"/><path d="M1354.3 1057.7L1346.3 1052.0L1339.1 1047.2M1354.3 1057.7L1354.9 1047.8L1355.9 1039.6M1354.3 1057.7L1362.8 1051.5L1370.0 1047.7M1354.3 1057.7L1361.6 1061.3L1367.8 1062.7M1354.3 1057.7L1352.6 1066.8L1350.6 1074.2M1354.3 1057.7L1345.2 1062.8L1337.9 1067.2" fill="none" stroke="#fff" stroke-opacity="0.34" stroke-width="6.1" stroke-linecap="round" stroke-linejoin="round"/><circle cx="1355.4" cy="1057.5" r="5.3" fill="#fff" fill-opacity="0.06"/><polygon points="1397.9,1046.0 1393.3,1045.9 1388.2,1044.2 1387.9,1038.9 1385.9,1033.0 1392.4,1032.0 1396.4,1027.2 1401.9,1029.6 1404.8,1034.5 1405.8,1040.0 1401.2,1043.1" fill="#fff" fill-opacity="0.4"/><path d="M1395.9 1038.1L1393.3 1045.2L1392.6 1050.7M1395.9 1038.1L1390.5 1043.8L1385.4 1047.6M1395.9 1038.1L1389.4 1034.7L1383.4 1032.5M1395.9 1038.1L1393.5 1032.4L1392.1 1028.0M1395.9 1038.1L1398.1 1030.5L1401.2 1024.4M1395.9 1038.1L1401.6 1035.8L1406.0 1034.8M1395.9 1038.1L1401.4 1041.4L1406.1 1042.9M1395.9 1038.1L1399.8 1042.5L1402.2 1046.9" fill="none" stroke="#fff" stroke-opacity="0.34" stroke-width="5.0" stroke-linecap="round" stroke-linejoin="round"/><circle cx="1397.5" cy="1037.6" r="4.3" fill="#fff" fill-opacity="0.06"/><polygon points="1061.2,1059.5 1061.3,1053.5 1064.5,1047.7 1071.1,1047.1 1078.3,1046.2 1080.1,1053.4 1085.1,1059.2 1082.6,1066.8 1075.8,1071.1 1068.4,1069.2 1060.7,1067.5" fill="#fff" fill-opacity="0.4"/><path d="M1071.4 1057.7L1075.5 1065.1L1080.6 1071.1M1071.4 1057.7L1069.0 1066.8L1065.5 1074.0M1071.4 1057.7L1061.4 1063.8L1054.3 1069.3M1071.4 1057.7L1062.2 1054.1L1054.1 1050.4M1071.4 1057.7L1071.1 1048.2L1069.7 1040.4M1071.4 1057.7L1080.1 1049.7L1087.2 1044.2M1071.4 1057.7L1082.3 1059.7L1091.2 1060.4" fill="none" stroke="#fff" stroke-opacity="0.34" stroke-width="6.6" stroke-linecap="round" stroke-linejoin="round"/><circle cx="1069.5" cy="1057.6" r="5.8" fill="#fff" fill-opacity="0.06"/><polygon points="1214.9,1048.0 1221.1,1049.2 1224.8,1054.6 1228.2,1062.2 1220.2,1065.3 1214.7,1068.6 1206.4,1069.0 1200.5,1062.2 1201.8,1053.3 1208.1,1048.2" fill="#fff" fill-opacity="0.4"/><path d="M1214.8 1057.7L1206.6 1059.1L1199.9 1058.8M1214.8 1057.7L1214.0 1048.5L1211.9 1041.2M1214.8 1057.7L1224.5 1052.0L1231.4 1048.2M1214.8 1057.7L1221.6 1060.7L1227.6 1063.8M1214.8 1057.7L1213.8 1068.6L1210.8 1077.3" fill="none" stroke="#fff" stroke-opacity="0.34" stroke-width="6.6" stroke-linecap="round" stroke-linejoin="round"/><circle cx="1216.5" cy="1059.0" r="5.8" fill="#fff" fill-opacity="0.06"/><polygon points="1118.2,1052.7 1117.5,1056.5 1117.0,1059.8 1114.0,1061.3 1110.6,1063.2 1108.3,1060.0 1105.3,1057.8 1105.4,1053.8 1107.6,1050.5 1111.4,1048.8 1114.6,1051.3" fill="#fff" fill-opacity="0.4"/><path d="M1112.0 1056.2L1116.8 1053.6L1120.2 1051.8M1112.0 1056.2L1116.0 1059.7L1120.0 1061.8M1112.0 1056.2L1114.2 1059.7L1115.6 1062.7M1112.0 1056.2L1108.7 1060.1L1105.2 1063.8M1112.0 1056.2L1108.3 1056.6L1105.1 1057.7M1112.0 1056.2L1107.2 1054.2L1103.6 1052.0M1112.0 1056.2L1111.0 1051.7L1111.1 1048.1M1112.0 1056.2L1114.5 1051.6L1116.4 1047.3" fill="none" stroke="#fff" stroke-opacity="0.34" stroke-width="3.3" stroke-linecap="round" stroke-linejoin="round"/><circle cx="1112.6" cy="1056.2" r="2.9" fill="#fff" fill-opacity="0.06"/><polygon points="1174.8,1093.1 1176.4,1087.2 1177.4,1081.0 1183.5,1078.9 1189.1,1080.7 1195.8,1082.3 1196.6,1089.1 1194.5,1094.8 1190.4,1099.2 1184.4,1099.6 1179.4,1097.1" fill="#fff" fill-opacity="0.4"/><path d="M1185.5 1089.5L1187.4 1098.5L1187.7 1106.2M1185.5 1089.5L1181.6 1097.5L1177.9 1103.9M1185.5 1089.5L1176.7 1088.8L1169.6 1089.9M1185.5 1089.5L1184.8 1080.4L1184.1 1072.9M1185.5 1089.5L1190.9 1081.2L1194.5 1074.8M1185.5 1089.5L1192.6 1089.7L1198.5 1089.8" fill="none" stroke="#fff" stroke-opacity="0.34" stroke-width="5.5" stroke-linecap="round" stroke-linejoin="round"/><circle cx="1185.6" cy="1091.2" r="4.8" fill="#fff" fill-opacity="0.06"/><polygon points="1230.8,1090.6 1232.0,1098.8 1224.1,1099.9 1218.2,1097.9 1213.5,1094.2 1210.4,1088.0 1213.4,1081.2 1219.6,1076.0 1226.6,1080.2 1232.0,1084.1" fill="#fff" fill-opacity="0.4"/><path d="M1222.2 1089.5L1230.4 1086.5L1237.9 1084.5M1222.2 1089.5L1228.2 1098.7L1231.2 1106.3M1222.2 1089.5L1218.1 1095.3L1214.5 1100.4M1222.2 1089.5L1215.7 1084.5L1209.3 1080.3M1222.2 1089.5L1225.1 1082.4L1226.7 1076.1" fill="none" stroke="#fff" stroke-opacity="0.34" stroke-width="6.1" stroke-linecap="round" stroke-linejoin="round"/><circle cx="1221.9" cy="1088.4" r="5.3" fill="#fff" fill-opacity="0.06"/><polygon points="1293.4,1092.6 1289.9,1099.2 1282.3,1100.7 1277.1,1095.4 1272.2,1091.1 1273.7,1084.9 1274.4,1078.0 1281.4,1077.8 1286.8,1077.9 1294.3,1079.0 1293.0,1086.4" fill="#fff" fill-opacity="0.4"/><path d="M1283.4 1087.1L1280.5 1078.0L1276.6 1069.9M1283.4 1087.1L1290.3 1081.0L1294.8 1075.8M1283.4 1087.1L1293.0 1091.0L1300.4 1092.8M1283.4 1087.1L1283.6 1094.1L1284.7 1100.1M1283.4 1087.1L1276.0 1092.5L1269.8 1098.0M1283.4 1087.1L1276.9 1084.3L1270.9 1082.4" fill="none" stroke="#fff" stroke-opacity="0.34" stroke-width="6.1" stroke-linecap="round" stroke-linejoin="round"/><circle cx="1282.3" cy="1087.5" r="5.3" fill="#fff" fill-opacity="0.06"/><polygon points="987.8,1062.0 992.3,1062.8 996.6,1064.2 998.0,1069.2 994.4,1072.9 989.5,1073.8 985.0,1071.2 985.8,1066.2" fill="#fff" fill-opacity="0.4"/><path d="M991.1 1067.5L994.4 1070.0L996.8 1071.6M991.1 1067.5L993.1 1072.9L993.6 1077.2M991.1 1067.5L987.7 1069.7L985.4 1072.1M991.1 1067.5L986.3 1066.8L982.2 1067.3M991.1 1067.5L988.7 1063.2L985.9 1059.6M991.1 1067.5L993.2 1064.2L994.8 1061.5M991.1 1067.5L994.8 1067.1L997.9 1066.5" fill="none" stroke="#fff" stroke-opacity="0.34" stroke-width="3.3" stroke-linecap="round" stroke-linejoin="round"/><circle cx="991.0" cy="1068.1" r="2.9" fill="#fff" fill-opacity="0.06"/>
</g>

<rect x="983.3" y="681.7" width="419.0" height="417.5999999999999" fill="none" stroke="#000" stroke-width="2.0"/>
<path d="M983.30 681.7v-13M983.3 1099.30h-13M1402.3 1099.30h13M983.30 1099.3v13M1004.25 681.7v-6.5M983.3 1078.42h-6.5M1402.3 1078.42h6.5M1004.25 1099.3v6.5M1025.20 681.7v-13M983.3 1057.54h-13M1402.3 1057.54h13M1025.20 1099.3v13M1046.15 681.7v-6.5M983.3 1036.66h-6.5M1402.3 1036.66h6.5M1046.15 1099.3v6.5M1067.10 681.7v-13M983.3 1015.78h-13M1402.3 1015.78h13M1067.10 1099.3v13M1088.05 681.7v-6.5M983.3 994.90h-6.5M1402.3 994.90h6.5M1088.05 1099.3v6.5M1109.00 681.7v-13M983.3 974.02h-13M1402.3 974.02h13M1109.00 1099.3v13M1129.95 681.7v-6.5M983.3 953.14h-6.5M1402.3 953.14h6.5M1129.95 1099.3v6.5M1150.90 681.7v-13M983.3 932.26h-13M1402.3 932.26h13M1150.90 1099.3v13M1171.85 681.7v-6.5M983.3 911.38h-6.5M1402.3 911.38h6.5M1171.85 1099.3v6.5M1192.80 681.7v-13M983.3 890.50h-13M1402.3 890.50h13M1192.80 1099.3v13M1213.75 681.7v-6.5M983.3 869.62h-6.5M1402.3 869.62h6.5M1213.75 1099.3v6.5M1234.70 681.7v-13M983.3 848.74h-13M1402.3 848.74h13M1234.70 1099.3v13M1255.65 681.7v-6.5M983.3 827.86h-6.5M1402.3 827.86h6.5M1255.65 1099.3v6.5M1276.60 681.7v-13M983.3 806.98h-13M1402.3 806.98h13M1276.60 1099.3v13M1297.55 681.7v-6.5M983.3 786.10h-6.5M1402.3 786.10h6.5M1297.55 1099.3v6.5M1318.50 681.7v-13M983.3 765.22h-13M1402.3 765.22h13M1318.50 1099.3v13M1339.45 681.7v-6.5M983.3 744.34h-6.5M1402.3 744.34h6.5M1339.45 1099.3v6.5M1360.40 681.7v-13M983.3 723.46h-13M1402.3 723.46h13M1360.40 1099.3v13M1381.35 681.7v-6.5M983.3 702.58h-6.5M1402.3 702.58h6.5M1381.35 1099.3v6.5M1402.30 681.7v-13M983.3 681.70h-13M1402.3 681.70h13M1402.30 1099.3v13" stroke="#000" stroke-width="2.0" fill="none"/>
<text x="966.6" y="1115.2" font-size="38" text-anchor="end" font-weight="normal" fill="#000" >0</text>
<text x="966.6" y="1031.7" font-size="38" text-anchor="end" font-weight="normal" fill="#000" >2</text>
<text x="966.6" y="948.2" font-size="38" text-anchor="end" font-weight="normal" fill="#000" >4</text>
<text x="966.6" y="864.6" font-size="38" text-anchor="end" font-weight="normal" fill="#000" >6</text>
<text x="966.6" y="781.1" font-size="38" text-anchor="end" font-weight="normal" fill="#000" >8</text>
<text x="966.6" y="697.6" font-size="38" text-anchor="end" font-weight="normal" fill="#000" >10</text>
<text x="986.0" y="1143.2" font-size="38" text-anchor="middle" font-weight="normal" fill="#000" >0</text>
<text x="1069.8" y="1143.2" font-size="38" text-anchor="middle" font-weight="normal" fill="#000" >2</text>
<text x="1153.6" y="1143.2" font-size="38" text-anchor="middle" font-weight="normal" fill="#000" >4</text>
<text x="1237.4" y="1143.2" font-size="38" text-anchor="middle" font-weight="normal" fill="#000" >6</text>
<text x="1321.2" y="1143.2" font-size="38" text-anchor="middle" font-weight="normal" fill="#000" >8</text>
<text x="1405.0" y="1143.2" font-size="38" text-anchor="middle" font-weight="normal" fill="#000" >10</text>
<text x="921.0" y="649.0" font-size="32.5" text-anchor="start" font-weight="normal" fill="#000" >μm</text>
<text x="1428.5" y="1140.7" font-size="32.5" text-anchor="start" font-weight="normal" fill="#000" >μm</text>
<linearGradient id="g4" x1="0" y1="1" x2="0" y2="0">
<stop offset="0.000" stop-color="#080200"/>
<stop offset="0.025" stop-color="#140400"/>
<stop offset="0.050" stop-color="#1f0501"/>
<stop offset="0.075" stop-color="#2a0601"/>
<stop offset="0.100" stop-color="#360802"/>
<stop offset="0.125" stop-color="#3e0802"/>
<stop offset="0.150" stop-color="#450701"/>
<stop offset="0.175" stop-color="#4c0601"/>
<stop offset="0.200" stop-color="#540600"/>
<stop offset="0.225" stop-color="#5a0600"/>
<stop offset="0.250" stop-color="#600500"/>
<stop offset="0.275" stop-color="#660400"/>
<stop offset="0.300" stop-color="#6c0400"/>
<stop offset="0.325" stop-color="#700b00"/>
<stop offset="0.350" stop-color="#731200"/>
<stop offset="0.375" stop-color="#761900"/>
<stop offset="0.400" stop-color="#7a2000"/>
<stop offset="0.425" stop-color="#7f2a02"/>
<stop offset="0.450" stop-color="#843404"/>
<stop offset="0.475" stop-color="#8a3e06"/>
<stop offset="0.500" stop-color="#8f4808"/>
<stop offset="0.525" stop-color="#955108"/>
<stop offset="0.550" stop-color="#9c5a08"/>
<stop offset="0.575" stop-color="#a26308"/>
<stop offset="0.600" stop-color="#a86c08"/>
<stop offset="0.625" stop-color="#ad7607"/>
<stop offset="0.650" stop-color="#b28106"/>
<stop offset="0.675" stop-color="#b88b06"/>
<stop offset="0.700" stop-color="#bd9505"/>
<stop offset="0.725" stop-color="#c29e18"/>
<stop offset="0.750" stop-color="#c6a62a"/>
<stop offset="0.775" stop-color="#cbaf3d"/>
<stop offset="0.800" stop-color="#d0b850"/>
<stop offset="0.825" stop-color="#d5c066"/>
<stop offset="0.850" stop-color="#dbc87c"/>
<stop offset="0.875" stop-color="#e0d092"/>
<stop offset="0.900" stop-color="#e6d8a8"/>
<stop offset="0.925" stop-color="#ece0bb"/>
<stop offset="0.950" stop-color="#f1e9ce"/>
<stop offset="0.975" stop-color="#f6f2e1"/>
<stop offset="1.000" stop-color="#fcfaf4"/>
</linearGradient>
<rect x="1491.8" y="656.6" width="34.299999999999955" height="469.9" fill="url(#g4)" stroke="#000" stroke-width="2.0"/>
<path d="M1526.1 1126.00h13M1526.1 1093.40h6M1526.1 1060.80h6M1526.1 1028.20h6M1526.1 995.60h6M1526.1 963.00h13M1526.1 930.40h6M1526.1 897.80h6M1526.1 865.20h6M1526.1 832.60h6M1526.1 800.00h13M1526.1 767.40h6M1526.1 734.80h6M1526.1 702.20h6M1526.1 669.60h6" stroke="#000" stroke-width="2.0" fill="none"/>
<text x="1552.0" y="661.8" font-size="31.5" text-anchor="start" font-weight="normal" fill="#000" >nm</text>
<text x="1548.0" y="1139.6" font-size="38" text-anchor="start" font-weight="normal" fill="#000" >0</text>
<text x="1541.0" y="976.6" font-size="38" text-anchor="start" font-weight="normal" fill="#000" >5</text>
<text x="1541.0" y="813.6" font-size="38" text-anchor="start" font-weight="normal" fill="#000" >10</text>
<filter id="f5" filterUnits="userSpaceOnUse" x="213.4" y="1240.8" width="420.60" height="419.10" color-interpolation-filters="sRGB"><feTurbulence type="fractalNoise" baseFrequency="0.09" numOctaves="2" seed="4" result="t"/><feColorMatrix in="t" type="matrix" values="0.55 0 0 0 -0.17 0.55 0 0 0 -0.17 0.55 0 0 0 -0.17 0 0 0 0 1" result="n0"/><feGaussianBlur in="n0" stdDeviation="0.6" result="n"/><feDisplacementMap in="SourceGraphic" in2="t" scale="9" xChannelSelector="R" yChannelSelector="G" result="sd"/><feGaussianBlur in="sd" stdDeviation="1.6" result="b"/><feComposite in="n" in2="b" operator="arithmetic" k1="0" k2="1" k3="1" k4="0" result="h"/><feComponentTransfer in="h"><feFuncR type="table" tableValues="0.031 0.076 0.122 0.167 0.212 0.241 0.271 0.300 0.329 0.353 0.376 0.400 0.424 0.437 0.451 0.465 0.478 0.499 0.520 0.540 0.561 0.585 0.610 0.634 0.659 0.679 0.700 0.721 0.741 0.760 0.778 0.797 0.816 0.837 0.859 0.880 0.902 0.924 0.945 0.967 0.988"/><feFuncG type="table" tableValues="0.008 0.014 0.020 0.025 0.031 0.029 0.027 0.025 0.024 0.022 0.020 0.018 0.016 0.043 0.071 0.098 0.125 0.165 0.204 0.243 0.282 0.318 0.353 0.388 0.424 0.464 0.504 0.544 0.584 0.619 0.653 0.687 0.722 0.753 0.784 0.816 0.847 0.880 0.914 0.947 0.980"/><feFuncB type="table" tableValues="0.000 0.002 0.004 0.006 0.008 0.006 0.004 0.002 0.000 0.000 0.000 0.000 0.000 0.000 0.000 0.000 0.000 0.008 0.016 0.024 0.031 0.031 0.031 0.031 0.031 0.028 0.025 0.023 0.020 0.093 0.167 0.240 0.314 0.400 0.486 0.573 0.659 0.733 0.808 0.882 0.957"/></feComponentTransfer></filter>
<g filter="url(#f5)"><rect x="213.4" y="1240.8" width="420.6" height="419.10000000000014" fill="#1f1f1f"/>
<g transform="translate(213.4,1240.8)" fill="none" stroke="#fff" stroke-linecap="round" stroke-linejoin="round"><path stroke-width="7.5" stroke-opacity="0.52" d="M196 102l-3 -2M25 233h0M361 156l7 2M105 251l4 -5M193 404l6 1M272 57h0M313 178l4 -5M22 213h0M51 141l-6 -3M202 49l-0 -5M221 175h0M295 148h0M254 39h0M276 266h0M289 205h0M397 282l-7 4M293 36l-3 -1M15 181h0M387 225l-4 -4M401 302l1 4M282 279h0M117 104h0M183 203h0M336 260l-4 -2M160 398h0M8 195l-6 1M295 272h0M181 224h0M114 383h0M145 154l5 -2M412 28h0M153 314l1 -7M193 240h0M3 149h0M402 120l-7 2M284 121l-1 -7M140 297l5 3M205 373h0M75 138h0M38 13l-2 3M208 339l-4 4M252 318l8 0M375 7l-1 6M137 79l-3 -3M9 133h0M170 172l8 1M128 251l6 -2M230 45l-6 -3M2 318l-5 -2M232 163h0M98 376l6 3M86 369l-7 -4M38 47h0M186 123l-1 -8M49 101l1 3M217 210h0M334 372h0M50 241l-8 -2M253 177h0M212 387h0M357 130l-4 -1M35 202h0M98 73l-7 -2M176 73l-0 -4M113 230h0M350 363l6 -3M237 313l-2 5M412 186h0M248 292h0M322 190h0M309 407l0 -5M397 60h0M183 155l-5 3M3 223l-1 -6M350 248l2 3M156 165l-6 5M111 28h0M76 309l1 7M285 13l6 0M33 379l-6 -6M293 244l6 -2M335 44l3 -2M112 191h0M389 170h0M14 280l-2 -4M408 10h0M289 221l-1 7M193 166h0M404 239l8 -1M107 269h0M230 124h0M234 267l-6 -4M421 129l-2 -6M254 237l-3 -5M59 404l6 -3M5 355h0M85 217l3 -3M157 418h0M391 141h0M271 343l8 1M80 255l3 2M338 315h0M85 157l3 5M176 191h0M147 16h0M34 118l1 -8M310 83l5 1M16 75h0M225 249l0 6M374 380l8 -0M358 303l2 -4M174 238l3 3M370 231l3 4M280 163l6 -1M40 364l1 -6M68 20l-2 -7M64 384l6 -4M340 193h0M275 210l0 5M159 326l6 -2M131 378l0 -3M354 345l0 -4M163 66h0M209 181l-4 -1M306 219l-8 2M76 190l5 -4M304 350l-3 -3M293 287l-1 -4M295 133l4 4M174 306h0M184 178l-1 7M267 110l5 1M202 326h0M194 143h0M401 45l-1 -6M408 290l7 -3M6 43l1 -3M351 145h0M196 384h0M54 174l-1 7M336 240l4 -2M278 143l1 -4M211 358l2 -4M325 77h0M414 413l2 5"/><path stroke-width="9.5" stroke-opacity="0.6" d="M103 342h0M314 340h0M190 307l-3 -2M149 344h0M18 106l-5 0M49 394h0M125 341l-4 -2M270 296h0M376 157l-6 -4M127 273h0M375 262h0M241 82l0 4M8 395h0M204 8l-4 3M216 119h0M308 386h0M90 297h0M386 30h0M355 409h0M394 186h0M215 17h0M277 179h0M386 406l4 -1M182 60l-3 2M224 30l-5 2M410 314h0M368 215l4 0M360 176l1 5M256 71l-3 -2M27 338l-4 -4M250 404h0M35 393l-2 -8M286 72l-3 2M348 88h0M155 112l-3 6M33 255h0M62 249h0M68 214h0M420 339h0M380 299h0M52 356h0M107 401l-3 -1M373 333h0M52 0h0M130 190l2 3M28 130h0M165 263l6 5M159 28h0M136 172h0M131 43h0M245 191h0M198 202l-2 4M4 92h0M325 311l-3 3M21 265l0 -4M313 362l7 2M368 99l-5 -6M263 272l5 4M36 72l-8 -0M179 374l2 2M57 319l1 -6M141 34l1 -5M70 172l5 -3M94 330l4 -4M400 259l0 -5M419 259h0M147 51h0M0 339l-4 -2M119 292h0M80 204h0M70 103h0M147 202l4 2M66 290l1 -5M56 274l-2 3M344 7h0M377 138h0M388 372h0M279 359h0M294 301h0M49 330h0M167 138h0M161 243h0M127 237h0M310 283h0M322 236h0M267 329h0M58 64l6 2M308 314l-2 -5M379 317l7 1M266 92l-6 5M358 14h0M334 171h0M417 61l-3 1M342 20l7 0M35 278l-3 5M255 391h0M214 279h0M343 70h0M265 153h0M127 127h0M214 302h0M154 84l-3 -1M149 379h0M75 407l-5 -6M135 351h0M22 157h0M259 128l4 -0M105 5l-3 -6M301 96l4 7M335 99h0M237 177h0M227 65h0M182 15l-3 2M273 393h0M310 27l1 6M130 397h0M240 225h0M411 373l7 -1M396 323l5 -5M417 399h0M299 331l-1 -3M3 208l-1 -5M190 275h0M79 350h0M73 86l-1 6M222 369h0M272 28l-4 -1M52 193l-2 4M353 287l2 7M138 139h0M60 340h0M236 97l0 -4M37 317l2 -6M101 123h0M209 228l4 -4M420 171l-3 5M388 109h0M50 301h0M109 145h0M388 124l-3 -6M267 44l-5 1M18 359l2 -5M292 107l4 2M55 373h0M273 77l-4 2M117 44l-3 1M317 95h0M100 155l5 1M298 195l4 -6M348 213l6 -3M138 316h0M272 416h0M381 59h0M414 227l3 -1M161 226l-7 0M353 56l3 1M29 300l5 -2M146 277h0M344 300h0M210 244l1 -6M147 232h0M262 1h0M271 314l-0 3M372 21l-3 2M139 104h0M50 116h0M356 271l-5 -2M207 264h0M186 418l3 -2M159 297h0M317 133l8 -0M142 416h0M370 114l5 0M253 105l3 1M162 9h0M383 242h0M249 212l2 4M202 117l-5 -3M37 180h0M304 118h0M60 91h0M236 2l3 0M232 213h0M33 351l-0 7M151 136l-6 -3M320 217l-2 -5M162 353h0M150 216l1 7M400 396h0M371 402l-1 8M117 214l1 4M240 143h0M71 34h0M173 117l1 5M177 274h0M7 248l-5 3M404 97h0M395 16l1 3M186 1l-6 5M242 249h0M112 320h0M175 408h0M321 9l7 1"/><path stroke-width="11.5" stroke-opacity="0.72" d="M342 118h0M76 68l2 -4M288 317h0M322 327h0M167 155h0M355 382h0M18 32l2 6M88 178l-0 -3M245 276l6 2M108 88h0M36 96h0M407 166l-3 -4M99 198h0M197 288h0M158 367l-3 7M287 411l-3 3M375 418h0M227 189h0M247 374h0M36 414h0M329 397l-5 -3M52 27l-6 -0M414 357l5 -4M93 276l5 2M186 356l4 -4M84 390l1 8M316 39l3 -3M120 168h0M131 205l-3 -3M334 148h0M95 99l-0 -6M120 367l-3 -2M165 99h0M354 330l4 1M102 363h0M190 75l0 -7M351 106h0M342 389l-4 -1M131 17l-4 3M145 253l-3 -7M182 389h0M2 11h0M89 114h0M92 416l4 1M376 88l1 -7M255 252h0M327 352h0M83 2h0M268 198h0M122 67h0M90 230l5 -1M60 128h0M184 93h0M248 339h0M91 18l1 -3M273 228l-3 -2M350 42l2 -3M217 50l2 7M251 13h0M179 321h0M368 356l-3 0M389 2l-2 5M144 184h0M19 9l3 4M225 340l4 -3M288 343l1 -7M379 180l1 -6M210 147h0M85 46l1 8M75 272h0M293 1l-4 4M161 49h0M102 305h0M19 321h0M171 290l-3 1M101 222h0M52 220l3 -2M416 87l6 -2M251 357l-4 -4M275 251h0M145 392h0M415 47l-7 2M50 418h0M19 383l-0 -7M332 277h0M377 194h0M310 163h0M398 414l-5 5M395 214l-7 -3M256 54l4 1M23 49l2 8M387 269l-5 6M14 120h0M363 70h0M375 41l-6 0M102 43h0M290 179h0M385 389l3 3M97 137h0M403 81h0M281 97l1 -3M239 113h0"/></g>
</g>

<rect x="213.4" y="1240.8" width="420.6" height="419.10000000000014" fill="none" stroke="#000" stroke-width="2.0"/>
<path d="M213.40 1240.8v-13M213.4 1659.90h-13M634.0 1659.90h13M213.40 1659.9v13M234.43 1240.8v-6.5M213.4 1638.95h-6.5M634.0 1638.95h6.5M234.43 1659.9v6.5M255.46 1240.8v-13M213.4 1617.99h-13M634.0 1617.99h13M255.46 1659.9v13M276.49 1240.8v-6.5M213.4 1597.04h-6.5M634.0 1597.04h6.5M276.49 1659.9v6.5M297.52 1240.8v-13M213.4 1576.08h-13M634.0 1576.08h13M297.52 1659.9v13M318.55 1240.8v-6.5M213.4 1555.12h-6.5M634.0 1555.12h6.5M318.55 1659.9v6.5M339.58 1240.8v-13M213.4 1534.17h-13M634.0 1534.17h13M339.58 1659.9v13M360.61 1240.8v-6.5M213.4 1513.22h-6.5M634.0 1513.22h6.5M360.61 1659.9v6.5M381.64 1240.8v-13M213.4 1492.26h-13M634.0 1492.26h13M381.64 1659.9v13M402.67 1240.8v-6.5M213.4 1471.31h-6.5M634.0 1471.31h6.5M402.67 1659.9v6.5M423.70 1240.8v-13M213.4 1450.35h-13M634.0 1450.35h13M423.70 1659.9v13M444.73 1240.8v-6.5M213.4 1429.39h-6.5M634.0 1429.39h6.5M444.73 1659.9v6.5M465.76 1240.8v-13M213.4 1408.44h-13M634.0 1408.44h13M465.76 1659.9v13M486.79 1240.8v-6.5M213.4 1387.49h-6.5M634.0 1387.49h6.5M486.79 1659.9v6.5M507.82 1240.8v-13M213.4 1366.53h-13M634.0 1366.53h13M507.82 1659.9v13M528.85 1240.8v-6.5M213.4 1345.58h-6.5M634.0 1345.58h6.5M528.85 1659.9v6.5M549.88 1240.8v-13M213.4 1324.62h-13M634.0 1324.62h13M549.88 1659.9v13M570.91 1240.8v-6.5M213.4 1303.66h-6.5M634.0 1303.66h6.5M570.91 1659.9v6.5M591.94 1240.8v-13M213.4 1282.71h-13M634.0 1282.71h13M591.94 1659.9v13M612.97 1240.8v-6.5M213.4 1261.76h-6.5M634.0 1261.76h6.5M612.97 1659.9v6.5M634.00 1240.8v-13M213.4 1240.80h-13M634.0 1240.80h13M634.00 1659.9v13" stroke="#000" stroke-width="2.0" fill="none"/>
<text x="197.2" y="1678.1" font-size="38" text-anchor="end" font-weight="normal" fill="#000" >0</text>
<text x="197.2" y="1594.3" font-size="38" text-anchor="end" font-weight="normal" fill="#000" >2</text>
<text x="197.2" y="1510.5" font-size="38" text-anchor="end" font-weight="normal" fill="#000" >4</text>
<text x="197.2" y="1426.6" font-size="38" text-anchor="end" font-weight="normal" fill="#000" >6</text>
<text x="197.2" y="1342.8" font-size="38" text-anchor="end" font-weight="normal" fill="#000" >8</text>
<text x="197.2" y="1259.0" font-size="38" text-anchor="end" font-weight="normal" fill="#000" >10</text>
<text x="218.4" y="1708.8" font-size="38" text-anchor="middle" font-weight="normal" fill="#000" >0</text>
<text x="302.5" y="1708.8" font-size="38" text-anchor="middle" font-weight="normal" fill="#000" >2</text>
<text x="386.6" y="1708.8" font-size="38" text-anchor="middle" font-weight="normal" fill="#000" >4</text>
<text x="470.8" y="1708.8" font-size="38" text-anchor="middle" font-weight="normal" fill="#000" >6</text>
<text x="554.9" y="1708.8" font-size="38" text-anchor="middle" font-weight="normal" fill="#000" >8</text>
<text x="639.0" y="1708.8" font-size="38" text-anchor="middle" font-weight="normal" fill="#000" >10</text>
<text x="153.8" y="1215.1" font-size="32.5" text-anchor="start" font-weight="normal" fill="#000" >μm</text>
<text x="662.0" y="1706.3" font-size="32.5" text-anchor="start" font-weight="normal" fill="#000" >μm</text>
<linearGradient id="g5" x1="0" y1="1" x2="0" y2="0">
<stop offset="0.000" stop-color="#080200"/>
<stop offset="0.025" stop-color="#140400"/>
<stop offset="0.050" stop-color="#1f0501"/>
<stop offset="0.075" stop-color="#2a0601"/>
<stop offset="0.100" stop-color="#360802"/>
<stop offset="0.125" stop-color="#3e0802"/>
<stop offset="0.150" stop-color="#450701"/>
<stop offset="0.175" stop-color="#4c0601"/>
<stop offset="0.200" stop-color="#540600"/>
<stop offset="0.225" stop-color="#5a0600"/>
<stop offset="0.250" stop-color="#600500"/>
<stop offset="0.275" stop-color="#660400"/>
<stop offset="0.300" stop-color="#6c0400"/>
<stop offset="0.325" stop-color="#700b00"/>
<stop offset="0.350" stop-color="#731200"/>
<stop offset="0.375" stop-color="#761900"/>
<stop offset="0.400" stop-color="#7a2000"/>
<stop offset="0.425" stop-color="#7f2a02"/>
<stop offset="0.450" stop-color="#843404"/>
<stop offset="0.475" stop-color="#8a3e06"/>
<stop offset="0.500" stop-color="#8f4808"/>
<stop offset="0.525" stop-color="#955108"/>
<stop offset="0.550" stop-color="#9c5a08"/>
<stop offset="0.575" stop-color="#a26308"/>
<stop offset="0.600" stop-color="#a86c08"/>
<stop offset="0.625" stop-color="#ad7607"/>
<stop offset="0.650" stop-color="#b28106"/>
<stop offset="0.675" stop-color="#b88b06"/>
<stop offset="0.700" stop-color="#bd9505"/>
<stop offset="0.725" stop-color="#c29e18"/>
<stop offset="0.750" stop-color="#c6a62a"/>
<stop offset="0.775" stop-color="#cbaf3d"/>
<stop offset="0.800" stop-color="#d0b850"/>
<stop offset="0.825" stop-color="#d5c066"/>
<stop offset="0.850" stop-color="#dbc87c"/>
<stop offset="0.875" stop-color="#e0d092"/>
<stop offset="0.900" stop-color="#e6d8a8"/>
<stop offset="0.925" stop-color="#ece0bb"/>
<stop offset="0.950" stop-color="#f1e9ce"/>
<stop offset="0.975" stop-color="#f6f2e1"/>
<stop offset="1.000" stop-color="#fcfaf4"/>
</linearGradient>
<rect x="724.3" y="1216.6" width="32.40000000000009" height="469.4000000000001" fill="url(#g5)" stroke="#000" stroke-width="2.0"/>
<path d="M756.7 1685.00h13M756.7 1662.62h6M756.7 1640.24h6M756.7 1617.86h6M756.7 1595.48h6M756.7 1573.10h13M756.7 1550.72h6M756.7 1528.34h6M756.7 1505.96h6M756.7 1483.58h6M756.7 1461.20h13M756.7 1438.82h6M756.7 1416.44h6M756.7 1394.06h6M756.7 1371.68h6M756.7 1349.30h13M756.7 1326.92h6M756.7 1304.54h6M756.7 1282.16h6M756.7 1259.78h6M756.7 1237.40h13" stroke="#000" stroke-width="2.0" fill="none"/>
<text x="772.5" y="1698.6" font-size="38" text-anchor="start" font-weight="normal" fill="#000" >0</text>
<text x="772.5" y="1586.7" font-size="38" text-anchor="start" font-weight="normal" fill="#000" >10</text>
<text x="772.5" y="1474.8" font-size="38" text-anchor="start" font-weight="normal" fill="#000" >20</text>
<text x="772.5" y="1362.9" font-size="38" text-anchor="start" font-weight="normal" fill="#000" >30</text>
<filter id="f6" filterUnits="userSpaceOnUse" x="983.3" y="1241.2" width="419.00" height="417.50" color-interpolation-filters="sRGB"><feTurbulence type="fractalNoise" baseFrequency="0.1" numOctaves="2" seed="33" result="t"/><feColorMatrix in="t" type="matrix" values="0.6 0 0 0 -0.2 0.6 0 0 0 -0.2 0.6 0 0 0 -0.2 0 0 0 0 1" result="n0"/><feGaussianBlur in="n0" stdDeviation="0.6" result="n"/><feDisplacementMap in="SourceGraphic" in2="t" scale="4" xChannelSelector="R" yChannelSelector="G" result="sd"/><feGaussianBlur in="sd" stdDeviation="0.9" result="b"/><feComposite in="n" in2="b" operator="arithmetic" k1="0" k2="1" k3="1" k4="0" result="h"/><feComponentTransfer in="h"><feFuncR type="table" tableValues="0.031 0.076 0.122 0.167 0.212 0.241 0.271 0.300 0.329 0.353 0.376 0.400 0.424 0.437 0.451 0.465 0.478 0.499 0.520 0.540 0.561 0.585 0.610 0.634 0.659 0.679 0.700 0.721 0.741 0.760 0.778 0.797 0.816 0.837 0.859 0.880 0.902 0.924 0.945 0.967 0.988"/><feFuncG type="table" tableValues="0.008 0.014 0.020 0.025 0.031 0.029 0.027 0.025 0.024 0.022 0.020 0.018 0.016 0.043 0.071 0.098 0.125 0.165 0.204 0.243 0.282 0.318 0.353 0.388 0.424 0.464 0.504 0.544 0.584 0.619 0.653 0.687 0.722 0.753 0.784 0.816 0.847 0.880 0.914 0.947 0.980"/><feFuncB type="table" tableValues="0.000 0.002 0.004 0.006 0.008 0.006 0.004 0.002 0.000 0.000 0.000 0.000 0.000 0.000 0.000 0.000 0.000 0.008 0.016 0.024 0.031 0.031 0.031 0.031 0.031 0.028 0.025 0.023 0.020 0.093 0.167 0.240 0.314 0.400 0.486 0.573 0.659 0.733 0.808 0.882 0.957"/></feComponentTransfer></filter>
<g filter="url(#f6)"><rect x="983.3" y="1241.2" width="419.0" height="417.5" fill="#2b2b2b"/>
<g transform="translate(983.3,1241.2)" fill="none" stroke="#fff" stroke-linecap="round" stroke-linejoin="round"><path stroke-width="3.4" stroke-opacity="0.42" d="M88 52l1 -4M11 293l-5 0M317 88h0M164 111l2 -2M315 377h0M367 277l5 -1M40 181l-1 -5M71 30h0M172 405l-4 -4M52 323l4 1M129 102l5 -0M25 138h0M165 213h0M358 74h0M197 377h0M338 343l2 -4M213 285h0M312 172h0M310 41l0 3M286 107h0M371 57h0M128 284h0M113 262h0M4 119h0M145 96h0M54 343h0M131 354h0M44 27l3 5M55 33h0M264 23l-3 -1M211 393l2 6M390 306h0M391 34l2 -3M230 364l-3 -4M319 301h0M99 256l6 -2M260 99l2 -2M139 141l-1 -6M158 410h0M236 87l2 1M368 231h0M126 64h0M48 191l2 -3M217 397l4 -2M131 141h0M409 170h0M92 126l5 -4M401 198h0M41 167l1 -5M279 382h0M212 224h0M141 1h0M25 96l-4 -2M246 121l-1 -5M401 163h0M237 156l-3 4M31 382h0M278 19h0M322 345h0M273 234l3 -2M184 297h0M28 263h0M297 222h0M146 221h0M231 306h0M84 222l-3 1M53 367l3 -1M68 1h0M191 182l4 0M77 4h0M206 286l-5 2M103 312h0M160 333l6 -1M155 109l4 3M10 415h0M392 186h0M294 194h0M237 177l-2 3M138 351l6 2M71 86h0M45 204h0M207 238l1 -3M247 188h0M14 164l2 -0M175 228h0M348 351h0M72 163h0M137 308l4 2M193 211l1 5M264 237h0M373 289h0M266 256l2 -4M384 345h0M285 269l3 -1M407 141l-2 2M337 219h0M63 46h0M174 51l-2 5M392 346h0M172 22h0M200 143l-1 -5M98 280h0M197 33l0 -6M66 392h0M284 262h0M120 155l-2 -6M239 236h0M287 192h0M136 80h0M354 349h0M109 316h0M133 411h0M166 22l-4 -1M289 162h0M281 229h0M118 19l-4 2M26 73h0M390 133l2 5M298 93l-2 -4M15 59l0 4M31 351h0M385 100h0M45 90h0M12 85l-2 -4M65 217l-1 -3M39 112h0M400 95l-3 -1M145 21l3 -4M169 75l0 2M225 222h0M5 257h0M359 288l0 -5M292 101h0M30 215l-5 1M10 91l5 -3M36 410l3 -1M142 315l-4 -3M412 125h0M167 324h0M108 351l-1 2M200 150l1 -6M325 60h0M366 393l-2 -1M188 370h0M235 50h0M383 273h0M373 340h0M111 216h0M37 134l-5 3M151 93h0M221 20h0M232 245h0M61 109l4 3M337 125h0M32 275l-4 1M257 345l4 -2M42 228l6 -3M230 151h0M141 388h0M290 35l-0 -5M160 349h0M22 155l1 -3M151 243l-4 4M44 239l1 3M314 132l-1 -3M43 172h0M336 97h0M197 330l2 -2M50 234h0M412 307h0M405 336h0M95 133h0M26 415h0M204 64h0M385 22l-3 3M229 141h0M270 286l-2 -3M46 382h0M384 182l5 1M249 68h0M35 99l-1 -5M174 14h0M0 171h0M72 248h0M401 187h0M99 352l4 3M1 346l6 -4M15 207l1 3M153 337h0M32 230l-4 5M317 15h0M389 298h0M125 276h0M193 56h0M116 297l-3 1M418 170h0M242 42l4 -4M265 107h0M394 322l-3 6M232 283l-6 -1M117 162l-4 4M415 289h0M185 38h0M123 339h0M247 196l6 -2M270 406l-0 -4M223 400h0M344 289l-4 0M233 333h0M51 84l4 1M404 65l3 -1M132 69l-2 -2M99 300l-1 -6M239 133h0M204 98l-4 -2M48 410h0M285 9h0M345 153h0M324 70l1 -3M339 3h0M51 99l-2 -6M379 295l6 3M97 69h0M359 299h0M292 90h0M215 176h0M278 129l5 -3M189 88h0M242 268l-5 2M383 49h0M53 333l6 1M60 300h0M374 110h0M245 32l-4 4M221 169l-4 2M291 387l2 4M53 7h0M245 8l4 -5M133 389l3 -1M282 47h0M391 380h0M59 75l-1 -5M104 173h0M387 44h0M34 43l5 -1M136 101l-3 -3M147 417h0M231 134l4 -5M299 287l4 4M73 304l-0 -5M131 93h0M95 315h0M35 188h0M3 185h0M340 395h0M21 272h0M71 359h0M204 197l-2 2M373 26h0M261 397h0M372 409h0M68 367h0M88 369l2 1M173 90h0M148 375h0M352 335l-1 6M274 48l-5 -2M238 185l-2 1M78 11l2 0M69 16h0M346 271h0M159 236l-2 6M411 183h0M37 52l-3 -6M40 271l-2 -4M148 192h0M115 277l-2 -4M273 385h0M344 186h0M262 78l-0 5M378 70h0M119 355h0M220 159l-0 -3M81 106l2 4M222 51l-5 1M64 399h0M401 126h0M16 196h0M256 2l1 -4M233 351l-6 1M173 254h0M208 37l2 4M395 275h0M89 397h0M314 413h0M27 292l1 5M301 112h0M177 247h0M20 4h0M255 223h0M33 196l5 -2M104 400l1 -4M165 384h0M306 125l3 -1M45 69h0M17 336l2 -1M101 190h0M382 36l-3 0M76 129h0M226 7h0M305 196h0M292 216l4 -3M281 238h0M162 272h0M95 251h0M396 263h0M130 76h0M116 114l-2 4M264 379l-1 4M212 149h0M378 17l3 -2M338 292l-4 -3M42 298h0M208 417h0M380 407h0M383 119h0M102 148h0M281 53h0M332 385h0M331 209h0M162 148h0M39 279h0M115 179l-4 -3M208 203h0M108 375h0M210 232l-4 3M397 208l-5 -1M311 237l3 4M233 190l-2 -1M385 252h0M125 312l-3 1M334 41h0M157 284h0M401 151h0M103 158l5 3M155 31h0M172 315l-6 2M220 333h0M19 134l-4 2M341 299h0M28 7h0M91 200l-0 -3M364 65h0M346 225l-5 3M259 20h0M294 157l2 -5M132 242h0M95 387h0M253 32l-0 3M294 148h0M83 70h0M419 226l-2 -3M407 358h0M354 131l-4 -2M400 393l-1 2M353 317l6 -2M0 289h0M38 159l4 -5M123 267l6 -1M141 278h0M67 57h0M174 1l-1 4M22 193h0M244 402l-1 -3M208 72h0M33 87l7 -1M68 346h0M370 49l4 -6M255 261h0M6 274l2 -6M97 26h0M409 412h0M335 107h0M87 339l1 4M350 97h0M407 291h0M263 307h0M162 60l-4 -4M316 199l5 1M0 308l4 -2M19 292l-0 -3M88 302h0M234 231l-6 -2M141 135l2 -1M73 202h0M315 82l-3 -6M223 234l-1 -5M358 101l4 3M124 57l3 -2M200 265l3 -4M273 73l2 5M93 220l1 -3M180 117h0M295 208l1 -2M202 372l-1 5M7 9l1 -3M380 389h0M27 39h0M55 290l3 -6M320 155h0M306 206h0M265 4h0M59 66l2 -4M190 259h0M152 406l5 -3M383 337h0M31 156h0M155 256h0M63 280l4 3M218 13l-1 -3M44 275h0M160 178h0M183 139h0M5 163h0M154 117h0M183 359h0M319 59l3 -0M295 182l5 2M278 161h0M108 191h0M287 282h0M336 406l4 -1M186 343h0M343 177h0M360 233h0M193 312h0M7 282h0M284 344h0M78 234l-4 -2M262 332l-3 3M382 0h0M61 41h0M58 81l1 4M87 352h0M67 67l-3 2M156 268l5 -1M401 330h0M102 275l-1 -3M412 352l4 -5M300 242h0M192 133h0M246 91l-1 -5M303 234h0M398 405l3 3M147 165h0M406 111h0M55 144l0 -3M164 263l-2 5M148 254h0M128 118h0M358 372h0M272 251h0M267 90l-4 -4M96 405l-3 3M183 24l2 -2M208 51l4 -1M245 228h0M193 322h0M337 182h0M207 28h0M162 378l4 -1M323 243l-4 0M368 401h0M145 208h0M169 389l1 5M372 177h0M237 9h0M166 364l4 -5M97 175l5 -2M310 13h0M153 53l4 1M7 194h0M116 367h0M302 282h0M105 227l-5 -1M196 400h0M358 152h0M286 350l-6 -3M372 267l-0 -5M267 49h0M418 251l-3 -1M170 118h0M184 326l-4 -3M285 329l2 5M398 217h0M111 244l4 -1M226 85l6 0M80 154h0M208 401h0M201 203h0M21 238l-1 4M14 23h0M172 277l4 -2M201 388l5 1M295 314l0 -5M121 97h0M61 208h0M117 186h0M326 41l0 -6M19 87h0M36 291h0M364 110h0M95 163h0M11 379h0M245 240l-4 -4M9 360h0M309 343h0M332 90l1 -3M84 41h0M311 327l-2 2M124 89h0M313 125h0M390 7l-4 5M418 51h0M61 117h0M61 385l-4 -3M387 164l5 3M36 173h0M67 335h0M265 123h0M308 114l-1 3M394 58h0M117 126l-1 3M185 303h0M244 355l2 -3M120 396h0M245 262h0M279 251l0 5M295 166l0 3M3 77h0M213 106h0M157 130h0M286 336l-6 1M110 158l-5 -2M239 346l3 -4M114 382h0M45 101h0M13 101h0M201 345l-2 3M195 80h0M95 2l-1 5M348 210l4 2M355 411l-2 -3M48 214h0M213 344l-3 4M375 352h0M322 34h0M387 372h0M55 225h0M10 141l-6 -0M207 21h0M93 20h0M307 311h0M17 303l-0 -4M317 335l-2 -6M86 416l-6 2M379 264l1 -2M340 211h0M163 244l0 6M393 312l-6 -0M359 308h0M152 413l-4 1M377 54l-3 -6M289 234h0M363 127h0M205 154h0M341 61h0M97 289h0M50 240h0M242 59h0M54 16l-2 -6M80 82h0M43 151h0M68 157h0M294 70l-1 4M31 205l3 -4M418 296l2 5M176 75h0M257 321l-5 2M103 390h0M384 223h0M312 29l-6 2M399 230h0M210 15l-2 -3M1 156h0M336 367h0M104 361h0M138 415h0M57 26h0M133 158l2 5M210 171h0M252 25h0M281 215h0M401 241h0M69 225l-1 6M48 109h0M27 18l-2 1M409 404h0M31 112l3 1M296 106h0M94 211h0M23 205l-2 -6M409 75l2 5M227 42h0M202 398l-2 -6M115 400l3 -2M411 94l3 -4M62 414l-3 5M419 178h0M41 344l1 -2M23 30h0M319 359l1 6M135 374l-6 -2M21 393h0M14 367l-1 -4M164 7l-4 1M404 363h0M281 412h0M5 340h0M344 25h0M33 309h0M351 221h0M330 72h0M300 59h0M311 22h0M31 336h0M196 89h0M225 292l2 -1M200 314h0M293 63l5 -4M47 402h0M173 366h0M328 297h0M390 205l-2 2M80 52h0M401 342h0M265 388h0M66 127h0M167 337l5 -2M130 178l-2 -1M31 358h0M252 144l-1 -3M171 59l2 -3M309 393h0M68 168h0M386 155l-2 6M54 94h0M213 291l3 -1M279 155h0M219 241h0M400 178l-2 5M228 227l3 4M182 192l6 2M355 169l-6 2M416 131l5 1M29 25l-1 3M46 163h0M235 396l-2 -2M45 352l-1 -3M160 154l-4 -2M98 245h0M287 134h0M11 78h0M185 310h0M125 321h0M355 84h0M162 417h0M408 135l4 5M125 194h0M95 416h0M180 34l5 -2M415 315l-1 -6M198 406l0 -4M254 415l2 -5M284 300h0M41 58l-4 -4M96 41h0M1 126l-3 3M255 14l3 -1M29 79l5 -1M113 8h0M418 346l-1 5M72 319l3 4M49 55l4 -1M163 162l2 -1M155 7h0M86 128l0 2M76 33h0M223 151l-2 4M150 290h0M331 143l1 -4M364 251l-1 6M179 403h0M180 337l2 2M222 184h0M6 317l1 -3M20 81h0M218 319h0M66 304l-1 5M295 297h0M276 90h0M343 44l-4 -3M322 392l4 5M330 186l2 5"/><path stroke-width="4.1" stroke-opacity="0.52" d="M250 78l5 -1M304 324h0M204 411l5 1M413 140l-2 1M162 289h0M139 152l3 3M93 330h0M151 138l3 1M182 57l4 6M247 375h0M86 185l1 -3M392 238h0M333 280h0M418 267h0M172 262l5 2M335 133l3 -6M321 386h0M337 235l-2 4M245 23h0M411 217h0M304 401h0M309 351h0M289 121h0M49 286h0M317 2h0M151 364l-4 -2M347 363l5 -3M151 63l6 -1M333 192l2 3M10 225l-6 2M163 87l-4 0M88 75l-1 -5M97 239h0M259 39h0M180 101h0M322 10l-3 -5M32 31l-3 -1M123 180h0M307 156h0M149 35h0M267 201l4 -1M136 54h0M0 221l2 4M305 336h0M240 201h0M371 298h0M324 310l3 -4M94 84h0M56 349h0M385 85h0M252 107l-6 2M344 17l-1 -3M243 287l-2 4M193 197h0M134 235l4 0M223 367h0M373 211h0M202 78h0M238 222h0M99 345h0M307 269h0M354 227h0M81 387h0M9 409l5 -0M26 230h0M89 251l-1 -3M133 364h0M262 11h0M287 71h0M346 338h0M352 389l4 -3M237 74h0M16 107l-3 -2M86 16h0M135 32l-2 2M103 31h0M367 306h0M407 326l-3 -3M52 416l3 -0M244 179h0M214 368l-5 2M168 96l3 3M119 262h0M398 39h0M154 321l-1 3M347 246h0M411 389l-2 2M309 317h0M244 318l1 3M270 243l0 -6M363 164h0M312 402l-4 -5M408 317l-2 1M298 388h0M197 13h0M7 239h0M48 373h0M293 46h0M400 374l4 0M79 92l2 -3M78 316h0M222 192l3 1M350 106h0M242 163h0M40 357h0M364 271h0M340 262l5 0M116 332l3 4M173 285l0 3M79 213h0M368 385l-5 -1M219 77h0M318 286l-3 -2M168 222l0 4M147 86h0M112 1h0M255 149h0M190 394l3 3M68 142h0M89 4l-1 4M269 361l1 5M81 121h0M273 203l-1 5M137 358h0M350 63h0M128 256l-4 3M305 2h0M243 410h0M242 217h0M309 106h0M156 142h0M190 230l-2 -4M165 182l5 5M264 184l-3 1M193 220l3 -2M323 201h0M127 416l2 5M274 344h0M293 344h0M164 68h0M107 78l-1 6M367 91h0M245 83h0M133 5l1 4M127 226h0M121 149h0M59 160h0M365 148l0 -3M347 126h0M293 333h0M227 161l-3 -3M144 55l-0 -6M386 142h0M261 213h0M415 407h0M237 150h0M1 374l1 3M388 73h0M193 337h0M129 25h0M21 114h0M209 364h0M154 311h0M378 192h0M109 416h0M370 356h0M288 171l-2 5M57 408h0M200 20h0M105 127l3 -2M354 112l2 2M300 34h0M413 86l-1 -3M357 180h0M297 372l2 4M178 181h0M398 170h0M23 256l-4 -0M158 220l-2 -4M381 321h0M401 87h0M1 149h0M277 357h0M261 326l5 -4M194 251h0M351 161l-2 -2M391 415h0M160 115l4 -3M158 97h0M64 135h0M403 33l-5 3M167 410l2 5M89 178l3 -1M216 308h0M287 97h0M379 171l2 6M344 390l5 2M318 352h0M10 50l5 -1M129 378l-5 -3M180 390l5 -2M5 131l-4 1M408 202h0M333 58h0M277 81l-5 -1M381 162l-5 -2M54 214h0M345 374l-2 1M22 180h0M274 115l3 5M264 151l2 1M372 139h0M179 315l5 -0M108 395h0M92 344l-2 -4M145 130h0M11 396l2 6M180 124h0M231 36h0M230 344l-5 3M351 286h0M374 123l2 -4M106 305l-1 -3M407 208h0M227 14h0M63 289h0M189 147l-2 1M206 228l-3 -4M313 57h0M76 172h0M312 277l3 1M222 109h0M236 144h0M377 153h0M365 295h0M196 239h0M225 246h0M221 178h0M343 358h0M159 196l2 3M78 65l3 0M236 169h0M75 255l2 1M158 46h0M88 206h0M409 147h0M251 312l-3 -2M256 379l-2 2M138 66h0M84 28l4 0M345 196l1 -3M411 237l-2 -1M212 258l2 -6M84 231l1 -5M243 254h0M412 383h0M358 322l3 4M111 17h0M53 270h0M335 300h0M123 246h0M219 349h0M101 327l-1 -2M26 120h0M47 259l-3 -1M239 123h0M17 266h0M36 65h0M418 375h0M403 311h0M124 330h0M316 139h0M202 40h0M386 107h0M343 323h0M376 302h0M124 345h0M326 320h0M220 257h0M285 244l0 4M74 187h0M373 97h0M390 65l1 3M92 100h0M368 85l4 -2M353 215h0M145 214l2 -2M53 312h0M292 351h0M146 177h0M360 41l1 -3M331 333h0M291 358l0 4M65 312l-2 2M108 328l-5 1M77 227h0M247 234h0M150 300l3 5M47 268l1 6M26 84l-4 3M44 36l-1 -5M361 260h0M88 149h0M261 128l-5 3M300 155h0M62 102l3 -6M23 12h0M111 49l3 -2M103 367l3 -0M324 286l5 -3M59 167h0M213 252l-0 6M181 154h0M417 122h0M118 29l-6 -2M357 265l5 -3M199 280h0M231 317h0M201 121l5 -4M134 183h0M327 237h0M248 273h0M140 201h0M398 355l-4 -4M414 161l-0 4M410 12h0M228 121l1 -3M125 164h0M82 254h0M131 165l1 -4M183 228h0M148 106l-5 4M299 380h0M323 295h0M170 344h0M77 262l5 -1M182 241h0M72 274l2 -3M414 80h0M53 130l6 3M347 91l3 6M82 323h0M192 44l-6 -0M329 343h0M114 228l5 3M179 285h0M346 136h0M186 78l-2 3M372 204l-0 -3M132 291l2 7M358 23h0M300 302h0M182 186h0M151 14h0M362 8l6 3M301 7h0M51 156l-2 -4M80 196h0M72 406l4 -0M254 171l-3 4M224 343h0M152 356h0M282 307h0M286 55h0M112 140l3 -3M359 394h0M353 78h0M200 339l-2 4M11 264l6 -1M38 204h0M77 373h0M4 86h0M135 272h0M86 193h0M185 222h0M230 60h0M342 311l2 -2M127 186l2 -3M101 53h0M23 365l5 -4M173 335h0M220 312l-1 4M131 324l5 2M330 289l-5 -2M317 223h0M106 63h0M261 264l6 3M5 296h0M132 278l-3 -3M337 24h0M112 205h0M14 128h0M328 127l-1 -5M222 357h0M292 406h0M339 169l-3 2M205 187h0M179 69h0M411 258h0M270 292h0M9 17h0M6 303h0M380 364h0M181 350l-6 -3M214 35l-4 -4M207 126h0M321 398h0M300 202l3 -4M10 151l-2 -2M61 199h0M225 27l4 -3M298 327h0M283 357h0M42 376h0M327 51l1 -4M268 160l-3 1M61 153h0M133 45h0M138 117h0M46 307h0M182 107h0M316 145l-1 -2M273 376h0M191 329h0M241 377h0M297 398h0M175 190h0M55 189h0M301 48l-3 4M322 378l1 3M76 221l-4 -0M129 33h0M223 137h0M291 319l-4 2M175 395h0M233 254h0M216 203l2 -2M275 329l-1 3M158 171h0M248 166l-1 3M255 179h0M332 14h0M336 414l2 2M406 269h0M22 330l5 4M321 27l4 -0M402 81l4 -2M16 344h0M20 162h0M34 323h0M95 227l3 -5M104 71h0M91 361h0M137 208l2 -0M136 195l1 -4M263 285h0M149 149h0M85 307h0M155 20h0M169 53h0M105 292l5 -3M326 249h0M249 256h0M19 145h0M240 110h0M308 93l3 -1M392 339h0M130 268h0M303 416l-4 3M264 222h0M277 140h0M58 400l-4 5M53 392h0M30 64h0M313 363l3 3M404 303l3 2M166 249h0M303 264h0M228 108l5 -4M29 329l2 2M121 217l5 -2M396 286l-2 -3M358 275h0M391 217l-5 -1M260 360l-3 1M246 137l-4 -3M96 61l-4 -0M291 188l-3 3M41 9h0M403 417h0M186 249h0M9 215l-5 3M94 378l4 3M51 303h0M418 363l-0 -3M223 324l-6 -3M343 112l4 -1M357 49l5 -0M90 235h0M188 68h0M177 346l-4 0M202 113h0M320 164h0M286 77h0M231 94h0M158 303h0M84 314h0M40 141l2 2M134 250h0M146 358l0 -3M106 98h0M199 127h0M325 105l3 -3M224 130l-4 5M379 284h0M134 318l-4 -1M202 297h0M65 373h0M242 394h0M337 68h0M114 90h0M254 298l-4 -1M262 29l-3 6M145 112h0M142 71l-2 5M86 85l-1 -2M85 64h0M36 149l0 -4M326 366l2 -3M143 405l3 -1M18 38l-6 -1M283 393h0M347 399l-2 -4M169 157h0M396 255h0M42 215h0M141 257h0M181 375h0M171 214l-3 5M198 290h0M214 184h0M211 329h0M168 267h0M407 194h0M174 376h0M400 8l4 1M177 322l3 -5M127 250l-4 -1M392 169h0M242 104h0M271 121h0M413 105l-4 1M183 94h0M51 22h0M306 251l3 -5M251 349l-6 3M306 302h0M94 193h0M405 399l2 3M67 91l0 -4M73 211l4 -4M42 18h0M342 381h0M164 202l2 -3M184 130l2 -2M38 243h0M165 354h0M340 142h0M236 66l-1 3M285 127l-1 2M377 245l6 -1M102 214h0M271 128h0M267 267h0M220 264h0M233 406l2 0M117 74l4 1M166 44l-2 -4M117 50h0M375 334h0M95 147h0M270 221l-6 1M207 341h0M167 103h0M84 1l-3 2M114 132h0M203 85l1 6M293 80h0M382 305h0M350 0h0M233 384h0M181 16h0M194 21h0M298 85h0M49 252h0M367 38l-4 4M250 387h0M133 123h0M181 167h0M327 415l2 -3M288 224l-2 4M203 247l-2 2M304 292h0M419 190l-5 0M223 411h0M415 111l-1 3M326 113l2 -2M361 170h0M239 335l-0 2M165 280h0M156 367l3 1M390 361l1 -5M321 78h0M88 272l-3 1M1 333h0M219 296l-5 3M351 18h0M318 238h0M352 251l-3 5M41 258l-5 -0M39 106l5 -0M417 99h0M336 51l-2 -4M390 389l3 -3M312 248l-6 3M62 354h0M19 212l-4 1M371 237l1 -6M6 38h0M314 68h0M257 192l2 1M58 138l1 -2M361 339l1 -2M99 232h0M417 335h0M337 160h0M31 167h0M331 260l3 -1M273 102h0M312 301h0M83 331h0M391 398h0M67 81h0M150 171h0M345 406l-4 -2M335 350l6 -3M98 359l2 -4M184 199l-4 0M123 136l-2 4M389 247l-6 0M196 383l6 2M409 51h0M218 403l-3 4M101 16l2 -6M296 233l-4 -3M77 333l2 0M319 249l5 2M251 39h0M159 207h0M265 115l-0 5M357 122h0M297 265l-5 1M251 214l2 -2M130 339h0M187 319l2 2M152 124l4 -2M4 58h0M201 162h0M49 139h0M311 166l-3 3M172 351l-1 -5M216 212l1 4M53 114l-0 -5M363 156h0M397 381l-1 -3M277 399h0M34 299l6 -3M201 362l6 0M295 308l-2 -2M289 210l4 -5M147 336l6 1M13 231l4 -3M47 328l4 -1M334 398h0M327 151h0M30 256l-2 -5M37 27h0M139 242h0M18 251h0M65 361h0M30 402l-2 4M319 177l4 -4M269 142l-1 -2M109 89l2 4M362 133l-4 3M1 96l-3 4M51 63l1 -3M116 349h0M16 309h0M253 393l-3 -0M148 236h0M244 341h0M203 307l-3 -3M149 184h0M228 76l-0 3M51 41h0M105 47l-4 -4M108 146l-4 5M275 9l2 -1M173 34l3 4M82 247l-3 1M343 367h0M23 380h0M163 128h0M301 166l-2 -5M104 167h0M417 8l-2 -6M245 305l-3 5M126 210l-2 4M241 208h0M104 263h0M339 337l-4 1M28 185h0M216 409l-3 -0M138 227h0M360 241h0M271 3l4 3M11 386h0M314 116l-1 4M90 260h0M24 357l6 -3M14 329h0M330 159l-2 -1M107 284l-3 1M142 171h0M250 56h0M200 256l6 -1M34 11l4 3M43 84l2 -5M273 337l4 -0M355 358l2 4M287 203l-6 1M397 413l-5 2M277 40h0M135 259h0M293 135h0M1 198h0M20 320l6 3M290 395h0M267 229h0M248 282h0M210 136l-0 -6M230 260l4 0M321 265l-0 5M331 120h0M141 9l5 2M399 70l6 -3M129 147l-4 -3M252 247l3 0M379 228l-4 1M354 145h0M201 134l4 0M260 275h0M204 221h0M372 217h0M344 38h0M92 337h0M364 192h0M134 39l2 -4M417 388l6 -3M363 345l2 -1M47 295l4 1M317 322l-1 6M14 175l-5 3M388 291h0M224 100l6 0M3 47h0M105 118l-0 4M244 115h0M208 352h0M368 200l-0 4M282 3l1 2M139 291h0M202 356l2 -4M373 276h0M392 122l2 -6M400 57h0M97 266l-0 -5M190 0h0M18 66l1 -6M310 371l3 1M42 42l0 -4M36 4h0M289 23h0M256 61h0M149 266l4 5M260 88h0M155 79l-1 -2M267 136h0M228 196h0M228 203l-3 -1M33 369l6 -1M133 302l-2 -2M146 395h0M372 63l-1 -6M409 22h0M270 397h0M47 130l-3 2M297 142l-6 -0M127 11h0M31 375h0M320 272h0M303 100l-0 -2M84 265l-3 2M128 235l2 2M375 223l3 -6M178 82h0M262 372h0M107 133l-1 3M338 274h0M364 359h0M163 307h0M265 98l-0 -4M239 368l5 4M371 157l-1 2M115 250h0M344 55l-4 -4M336 254h0M356 95l-0 -6M183 289h0M1 72h0M189 385l-1 3M284 65h0M119 142l-2 -4M354 366h0M138 219l-4 -0M42 126l-3 -2M373 371h0M177 200l5 -0M118 223h0M132 134h0M26 59h0M417 155l3 5M200 56l-2 -4M68 189h0M278 122h0M194 140l-6 1M258 408l4 1M301 347l-5 2M217 146l-3 3M406 4h0M402 49h0M144 27l4 5M230 214h0M275 393h0M324 96l-3 3M268 367l-3 6M299 255h0M209 246l-4 -5M111 58h0M226 253l-3 1M171 205h0M402 320l2 3M396 193l5 5M169 84l-0 -3M155 396l-1 2M90 281h0M23 280h0M417 203h0M123 69l4 0M87 288l-3 -5M123 201l-4 -1M372 32h0M80 275h0M240 300h0M248 44l-5 -1M37 329h0M178 214l-4 4M267 194h0M45 394h0M83 159l-4 -2M89 115h0M281 277h0M60 242h0M330 201h0M250 332l-4 4M171 243h0M77 47h0M90 35l-2 -6M393 147h0M8 374h0M228 267h0M174 161h0M52 167h0M103 88h0M0 361l5 1M313 356h0M177 305h0M146 349h0M365 1h0M3 3h0M175 209l3 -1M348 415l-5 0M171 329l-4 -0M131 86h0M89 322h0"/><path stroke-width="4.7" stroke-opacity="0.64" d="M113 38h0M347 11l-2 0M61 344l-4 -3M385 211h0M266 58h0M361 383l1 2M171 128h0M272 186h0M286 370h0M323 406h0M364 212h0M415 244l4 -2M174 147l-2 2M255 204h0M44 363l-3 -5M329 216h0M369 329l-1 -3M139 325h0M105 249h0M326 172l-2 2M342 412l-4 -2M133 332h0M4 104l-3 -3M299 215l-3 -4M81 240l4 -3M237 26h0M167 143h0M35 398h0M44 414l2 4M208 377l-1 -5M43 78l3 2M202 326l-6 -1M266 314l-0 -6M211 298h0M94 49l1 2M404 262l-6 3M15 408l-6 2M379 328l-4 -5M310 185l3 1M171 198l-2 -3M163 39l2 4M144 247l2 -5M27 129h0M21 387l3 5M264 65h0M318 255h0M203 274h0M105 340h0M182 255l1 5M411 30l-6 -0M296 18h0M160 25h0M360 14l6 1M57 362l2 -4M172 110l2 -3M159 72h0M290 252l0 5M389 258l2 -4M102 39h0M305 216h0M86 164h0M335 376l3 6M353 202l3 -5M78 353h0M336 147l5 4M246 327h0M255 48l4 -2M352 54h0M87 388h0M50 357h0M75 135h0M127 370l-3 5M69 99l3 -6M210 317h0M102 208h0M273 310l-3 -3M120 238l-4 5M183 5h0M407 117h0M305 382l5 -4M328 21h0M121 253h0M281 184l1 5M220 380h0M278 193l-3 -1M33 71l1 4M276 367l-2 3M401 137h0M110 173h0M213 42h0M338 225l-1 -4M42 221h0M377 5l5 -1M219 389h0M259 248l2 2M413 325l2 6M102 105h0M81 301h0M79 341h0M64 325l-1 -5M81 144l1 -5M209 113l-6 2M19 374h0M363 327h0M4 112h0M127 303h0M1 16l-0 -5M109 406l2 1M215 53l-2 5M225 65h0M200 1h0M367 118l-5 3M213 160h0M50 121h0M256 288h0M401 19l6 0M294 242h0M281 202h0M170 173l1 -6M298 339h0M152 277l1 -5M64 268l-5 -2M37 264h0M352 69l0 2M253 87l1 3M150 327l1 2M233 208l-3 -1M171 293h0M222 216l-1 2M321 216l2 3M304 53l2 -3M128 1h0M287 411h0M69 50h0M192 305l-6 -3M403 103l2 -3M178 220l0 3M54 0l-6 -1M403 248l-4 -4M2 26h0M35 388l-1 -6M257 386l-4 4M120 106h0M192 281h0M70 236l-4 -2M294 274l5 0M75 40l-5 4M289 15h0M350 121l-2 -2M67 113l-2 4M314 94l-1 -6M152 390h0M195 160h0M331 271h0M236 319l2 -2M275 57l5 -2M299 408l-3 5M136 343h0M134 14h0M418 32l-3 6M6 401l0 -6M234 372l-2 -0M302 364l1 3M70 261h0M356 33l-2 -4M9 308h0M174 270h0M56 281h0M176 39h0M227 300l-4 -4M24 347h0M384 355h0M118 195l5 -1M106 202l-5 -1M126 46l3 -0M228 22l-4 -0M317 313h0M336 244l-4 -3M212 97h0M384 234l-0 -5M154 215l5 -0M258 137l-2 -5M337 34l4 -1M367 223h0M115 309l-2 1M303 24h0M370 365l3 -6M314 102h0M2 234h0M372 73h0M187 30h0M143 273l5 -0M130 204l2 2M398 114h0M37 404l4 5M146 5h0M2 250h0M213 87h0M57 174h0M242 17l3 -3M138 163l-1 -6M49 347l-2 -2M288 293h0M385 383h0M3 263l3 -3M411 369h0M304 180l4 -3M162 77l4 -5M19 121l4 4M121 84h0M220 285h0M230 176l4 4M196 49h0M213 67l1 -5M4 177h0M12 191h0M318 52h0M13 72h0M92 309l2 -2M235 99l-2 -3M262 143l3 1M184 177h0M376 40l6 -1M131 214l4 2M233 277h0M111 340l3 4M248 293l-5 1M22 218h0M144 158h0M345 254h0M188 216h0M264 167l-3 2M322 190h0M371 314h0M284 178h0M147 47h0M195 177h0M394 89l2 -2M396 247h0M273 149l2 4M133 398h0M325 180h0M85 138l-5 4M139 93h0M323 231h0M247 364h0M182 278l-3 5M49 198l-5 1M8 29h0M246 149l-3 -5M386 126l-2 5M66 178l-1 4M1 382l-3 1M407 85l3 -0M186 157l1 6M5 366h0M72 285h0M204 213l3 -3M16 354h0M253 277h0M383 13l7 -0M256 401l-1 2M218 0h0M215 6l2 -4M177 296h0M95 92l6 -2M284 90l0 -5M204 180h0M288 154h0M405 41l-5 4M240 313l5 4M376 379l5 -3M349 236h0M64 35l0 -4M332 82l-3 -3M274 264h0M398 297h0M182 381l-3 -1M324 134h0M20 20h0M124 404h0M69 378l-5 -3M9 65l4 3M357 207l3 0M310 284l-7 -1M256 268l-2 -4M404 13h0M304 66h0M367 321l6 -0M166 193h0M75 76l-4 -5M195 97h0M407 376l-0 -3M224 58h0M277 168l4 -0M136 404h0M100 200h0M315 191l-4 3M276 245l-0 -4M55 248l-3 -4M215 121l-6 -2M236 266h0M374 187l3 -6M96 372h0M337 328l5 4M118 414h0M101 79l-4 0M12 273h0M40 194l-4 -1M403 279h0M152 348l4 -4M94 107h0M387 285l-0 6M369 21h0M203 174h0M365 76h0M270 80h0M42 290l-3 3M192 356h0M160 137h0M255 337l-0 3M85 212l-2 5M98 115l-4 4M380 146h0M232 413h0M271 322h0M342 77l-0 -3M366 375h0M62 225h0M317 39l-3 -2M194 170l2 4M156 86l2 -2M177 137h0M69 42h0M272 16l3 -6M395 29h0M304 147l-3 -3M151 73l3 -2M87 381l-5 1M330 1h0M331 224l2 -2M406 176h0M111 69h0M418 307h0M279 222h0M375 321l-0 -4M364 417h0M389 329l-2 5M171 67h0M0 9l1 -2M412 58h0M185 405l6 -2M163 396l-2 2M143 295l2 -2M411 298h0M373 104l-2 5M186 236l4 -0M382 197h0M214 354l-6 -3M378 89h0M217 60l-4 -0M47 179l6 -2M363 218h0M413 226h0M193 268h0M364 407l-2 -2M416 212h0M415 66l2 -3M376 416h0M382 313l4 -2M122 121l-4 5M15 244h0M345 162h0M242 0h0M303 186l3 0M140 337l1 3M197 63h0M224 279l-1 -5M254 235l3 3M211 58l6 -2"/></g><polygon points="1038.2,1277.2 1037.7,1268.2 1042.5,1259.6 1052.2,1253.3 1062.5,1258.8 1063.6,1269.4 1069.1,1278.9 1059.5,1283.9 1051.6,1286.4 1041.6,1286.6" fill="#fff" fill-opacity="0.46"/><path d="M1051.8 1273.0L1037.2 1268.3L1025.5 1264.0M1051.8 1273.0L1045.0 1262.1L1039.9 1253.2M1051.8 1273.0L1056.7 1261.8L1061.9 1253.4M1051.8 1273.0L1064.5 1262.9L1073.5 1255.8M1051.8 1273.0L1065.1 1273.3L1075.9 1275.4M1051.8 1273.0L1061.4 1277.0L1069.5 1282.3M1051.8 1273.0L1055.3 1287.0L1058.9 1298.5M1051.8 1273.0L1049.6 1284.0L1048.3 1293.4M1051.8 1273.0L1042.6 1278.5L1036.0 1283.9M1051.8 1273.0L1041.3 1275.6L1033.0 1276.8" fill="none" stroke="#fff" stroke-opacity="0.39" stroke-width="6.6" stroke-linecap="round" stroke-linejoin="round"/><circle cx="1051.5" cy="1273.7" r="7.9" fill="#fff" fill-opacity="0.14"/><polygon points="1203.8,1268.8 1201.7,1257.5 1198.7,1248.7 1204.4,1240.0 1215.2,1235.9 1224.6,1242.9 1225.7,1253.3 1222.7,1261.9 1215.3,1269.0" fill="#fff" fill-opacity="0.46"/><path d="M1212.4 1253.4L1225.7 1253.2L1236.7 1254.0M1212.4 1253.4L1219.9 1262.4L1227.2 1268.3M1212.4 1253.4L1212.2 1264.4L1214.0 1273.3M1212.4 1253.4L1199.5 1259.8L1189.5 1265.9M1212.4 1253.4L1202.9 1250.0L1194.5 1246.4M1212.4 1253.4L1204.9 1242.4L1198.0 1233.1M1212.4 1253.4L1217.1 1243.5L1221.9 1235.6" fill="none" stroke="#fff" stroke-opacity="0.39" stroke-width="6.1" stroke-linecap="round" stroke-linejoin="round"/><circle cx="1213.1" cy="1251.0" r="7.3" fill="#fff" fill-opacity="0.14"/><polygon points="1255.6,1263.3 1251.2,1258.0 1253.4,1251.4 1258.0,1247.3 1263.5,1242.1 1271.6,1243.0 1275.8,1250.1 1279.4,1257.8 1272.6,1263.2 1267.7,1268.1 1260.4,1268.6" fill="#fff" fill-opacity="0.46"/><path d="M1263.8 1255.9L1251.7 1256.1L1242.0 1258.4M1263.8 1255.9L1256.7 1249.8L1250.3 1245.4M1263.8 1255.9L1266.3 1247.2L1269.3 1240.5M1263.8 1255.9L1273.4 1250.4L1281.4 1246.8M1263.8 1255.9L1272.2 1260.1L1278.7 1262.8M1263.8 1255.9L1269.4 1265.9L1276.1 1274.9M1263.8 1255.9L1258.8 1267.3L1256.8 1276.1" fill="none" stroke="#fff" stroke-opacity="0.39" stroke-width="5.5" stroke-linecap="round" stroke-linejoin="round"/><circle cx="1263.1" cy="1257.9" r="6.6" fill="#fff" fill-opacity="0.14"/><polygon points="1335.7,1235.9 1344.6,1242.0 1343.9,1252.0 1346.5,1261.3 1337.0,1263.6 1329.8,1266.0 1319.6,1265.2 1321.0,1254.8 1320.0,1246.6 1327.0,1241.9" fill="#fff" fill-opacity="0.46"/><path d="M1332.3 1253.4L1343.6 1248.5L1352.0 1243.8M1332.3 1253.4L1344.0 1255.3L1354.2 1257.9M1332.3 1253.4L1338.5 1265.1L1344.2 1275.7M1332.3 1253.4L1329.6 1262.7L1326.1 1271.1M1332.3 1253.4L1319.6 1253.6L1308.7 1256.1M1332.3 1253.4L1321.3 1243.9L1312.8 1237.3M1332.3 1253.4L1336.0 1239.9L1337.9 1229.2" fill="none" stroke="#fff" stroke-opacity="0.39" stroke-width="6.1" stroke-linecap="round" stroke-linejoin="round"/><circle cx="1332.1" cy="1253.6" r="7.3" fill="#fff" fill-opacity="0.14"/><polygon points="1365.9,1281.1 1357.5,1284.0 1350.0,1278.0 1350.2,1268.5 1357.0,1263.6 1362.3,1260.1 1369.7,1259.3 1377.0,1263.8 1378.8,1272.7 1371.4,1277.6" fill="#fff" fill-opacity="0.46"/><path d="M1364.1 1270.6L1370.8 1263.8L1376.3 1258.7M1364.1 1270.6L1372.6 1271.0L1379.7 1272.4M1364.1 1270.6L1371.1 1281.2L1377.1 1288.8M1364.1 1270.6L1364.4 1280.5L1363.4 1288.7M1364.1 1270.6L1356.2 1280.0L1348.8 1286.1M1364.1 1270.6L1354.8 1270.8L1347.1 1271.9M1364.1 1270.6L1354.9 1264.9L1346.6 1260.6M1364.1 1270.6L1359.9 1261.9L1358.3 1254.9M1364.1 1270.6L1366.2 1260.4L1367.3 1252.2" fill="none" stroke="#fff" stroke-opacity="0.39" stroke-width="5.5" stroke-linecap="round" stroke-linejoin="round"/><circle cx="1362.0" cy="1268.8" r="6.6" fill="#fff" fill-opacity="0.14"/><polygon points="1084.8,1304.3 1090.5,1296.0 1100.2,1294.7 1107.8,1299.5 1114.0,1307.2 1110.1,1316.4 1103.0,1324.9 1091.5,1323.3 1082.8,1315.4" fill="#fff" fill-opacity="0.46"/><path d="M1098.8 1308.3L1096.9 1323.7L1098.7 1336.4M1098.8 1308.3L1090.5 1319.9L1084.7 1329.0M1098.8 1308.3L1088.7 1309.5L1080.2 1311.8M1098.8 1308.3L1090.9 1301.4L1084.8 1294.1M1098.8 1308.3L1097.0 1296.0L1097.0 1285.6M1098.8 1308.3L1107.1 1299.9L1113.1 1293.9M1098.8 1308.3L1109.5 1307.7L1118.4 1307.9M1098.8 1308.3L1112.0 1317.1L1121.2 1324.7" fill="none" stroke="#fff" stroke-opacity="0.39" stroke-width="6.6" stroke-linecap="round" stroke-linejoin="round"/><circle cx="1097.9" cy="1310.1" r="7.9" fill="#fff" fill-opacity="0.14"/><polygon points="1404.3,1311.7 1396.3,1317.5 1386.1,1320.5 1379.5,1312.2 1378.7,1303.2 1379.8,1292.6 1390.3,1287.4 1401.8,1290.8 1406.2,1301.5" fill="#fff" fill-opacity="0.46"/><path d="M1391.0 1304.8L1392.5 1290.5L1394.7 1279.0M1391.0 1304.8L1401.3 1298.4L1409.0 1295.0M1391.0 1304.8L1402.9 1308.4L1412.4 1311.8M1391.0 1304.8L1396.0 1317.0L1398.0 1326.5M1391.0 1304.8L1387.7 1318.3L1383.2 1328.9M1391.0 1304.8L1380.4 1308.2L1372.3 1312.0M1391.0 1304.8L1381.2 1294.2L1375.3 1285.4" fill="none" stroke="#fff" stroke-opacity="0.39" stroke-width="6.1" stroke-linecap="round" stroke-linejoin="round"/><circle cx="1391.6" cy="1305.5" r="7.3" fill="#fff" fill-opacity="0.14"/><polygon points="994.7,1351.9 988.5,1352.1 982.8,1349.0 979.2,1342.8 982.8,1336.8 985.7,1330.5 992.7,1328.4 998.6,1332.3 1004.9,1336.3 1003.8,1343.7 1001.0,1349.9" fill="#fff" fill-opacity="0.46"/><path d="M992.1 1341.5L1002.3 1335.2L1010.4 1331.5M992.1 1341.5L1000.5 1341.2L1007.4 1341.2M992.1 1341.5L1001.0 1348.5L1008.9 1354.4M992.1 1341.5L997.4 1348.9L1003.4 1356.0M992.1 1341.5L991.0 1349.6L991.1 1356.1M992.1 1341.5L983.3 1347.7L977.1 1352.7M992.1 1341.5L984.3 1341.4L978.0 1342.0M992.1 1341.5L983.4 1337.5L976.7 1333.8M992.1 1341.5L987.4 1333.9L983.3 1327.2M992.1 1341.5L995.5 1331.9L997.1 1324.2" fill="none" stroke="#fff" stroke-opacity="0.39" stroke-width="5.0" stroke-linecap="round" stroke-linejoin="round"/><circle cx="992.7" cy="1342.3" r="5.9" fill="#fff" fill-opacity="0.14"/><polygon points="1131.0,1343.1 1134.8,1354.1 1141.0,1365.8 1128.6,1370.6 1118.2,1378.3 1108.9,1369.3 1108.4,1358.5 1112.0,1350.3 1118.8,1340.6" fill="#fff" fill-opacity="0.46"/><path d="M1121.8 1358.7L1134.7 1359.7L1145.4 1358.5M1121.8 1358.7L1133.2 1371.4L1142.4 1379.9M1121.8 1358.7L1125.0 1373.6L1125.1 1385.8M1121.8 1358.7L1116.3 1375.0L1110.7 1387.4M1121.8 1358.7L1110.9 1365.7L1100.9 1369.2M1121.8 1358.7L1109.5 1356.0L1099.1 1353.8M1121.8 1358.7L1111.3 1348.5L1103.7 1339.7M1121.8 1358.7L1123.0 1347.3L1122.6 1337.8M1121.8 1358.7L1128.6 1349.4L1133.3 1340.8M1121.8 1358.7L1134.6 1352.3L1145.2 1348.9" fill="none" stroke="#fff" stroke-opacity="0.39" stroke-width="7.2" stroke-linecap="round" stroke-linejoin="round"/><circle cx="1123.4" cy="1360.2" r="8.6" fill="#fff" fill-opacity="0.14"/><polygon points="985.2,1384.4 986.5,1371.1 997.6,1366.7 1006.5,1368.2 1016.5,1372.9 1017.6,1385.5 1006.3,1390.1 996.2,1390.7" fill="#fff" fill-opacity="0.46"/><path d="M1001.9 1378.2L994.5 1385.8L987.7 1392.9M1001.9 1378.2L990.8 1377.5L981.8 1378.8M1001.9 1378.2L993.4 1374.4L986.6 1369.7M1001.9 1378.2L998.5 1368.4L996.9 1360.9M1001.9 1378.2L1005.8 1369.8L1009.4 1362.2M1001.9 1378.2L1009.4 1369.9L1014.2 1363.4M1001.9 1378.2L1012.9 1381.0L1022.2 1382.6M1001.9 1378.2L1011.2 1387.3L1017.6 1393.9M1001.9 1378.2L1003.8 1390.9L1006.6 1401.3M1001.9 1378.2L1000.6 1389.9L997.6 1399.5" fill="none" stroke="#fff" stroke-opacity="0.39" stroke-width="6.1" stroke-linecap="round" stroke-linejoin="round"/><circle cx="1003.3" cy="1376.9" r="7.3" fill="#fff" fill-opacity="0.14"/><polygon points="1184.8,1404.1 1189.0,1397.5 1194.7,1387.4 1203.3,1395.1 1212.3,1398.7 1214.8,1408.8 1207.0,1415.4 1200.5,1424.0 1189.4,1422.5 1185.9,1412.1" fill="#fff" fill-opacity="0.46"/><path d="M1197.7 1406.1L1195.2 1416.3L1194.0 1425.3M1197.7 1406.1L1187.2 1415.3L1178.0 1423.4M1197.7 1406.1L1184.2 1408.8L1173.4 1409.6M1197.7 1406.1L1188.7 1397.3L1180.8 1389.1M1197.7 1406.1L1196.0 1393.4L1192.2 1382.9M1197.7 1406.1L1204.6 1394.5L1208.7 1385.9M1197.7 1406.1L1211.2 1407.9L1222.5 1410.4M1197.7 1406.1L1206.7 1411.9L1214.7 1418.2" fill="none" stroke="#fff" stroke-opacity="0.39" stroke-width="6.6" stroke-linecap="round" stroke-linejoin="round"/><circle cx="1198.2" cy="1408.2" r="7.9" fill="#fff" fill-opacity="0.14"/><polygon points="1297.4,1416.5 1286.9,1409.8 1278.6,1401.1 1284.0,1390.3 1287.6,1380.1 1298.6,1377.4 1310.5,1379.2 1310.9,1391.6 1310.2,1399.7 1309.3,1411.9" fill="#fff" fill-opacity="0.46"/><path d="M1298.0 1395.4L1297.9 1379.5L1295.8 1366.5M1298.0 1395.4L1303.5 1380.7L1306.7 1369.0M1298.0 1395.4L1309.9 1387.3L1321.2 1383.5M1298.0 1395.4L1308.3 1399.7L1316.6 1403.9M1298.0 1395.4L1306.6 1404.2L1313.3 1413.3M1298.0 1395.4L1298.7 1409.9L1297.4 1421.9M1298.0 1395.4L1289.3 1405.1L1280.0 1413.0M1298.0 1395.4L1288.6 1400.8L1280.3 1407.0M1298.0 1395.4L1286.4 1392.8L1276.6 1390.5M1298.0 1395.4L1287.9 1387.5L1280.2 1379.1" fill="none" stroke="#fff" stroke-opacity="0.39" stroke-width="7.2" stroke-linecap="round" stroke-linejoin="round"/><circle cx="1300.0" cy="1395.1" r="8.6" fill="#fff" fill-opacity="0.14"/><polygon points="1008.4,1437.6 1011.2,1446.8 1005.4,1456.0 994.0,1459.8 987.6,1449.9 980.3,1442.1 983.5,1430.8 993.6,1423.9 1003.5,1430.4" fill="#fff" fill-opacity="0.46"/><path d="M997.0 1441.9L981.7 1440.8L969.0 1443.2M997.0 1441.9L988.6 1429.8L981.6 1420.6M997.0 1441.9L1004.4 1430.9L1008.4 1422.5M997.0 1441.9L1007.5 1440.8L1016.0 1438.2M997.0 1441.9L1008.8 1446.8L1017.9 1452.4M997.0 1441.9L998.9 1456.6L999.6 1468.5M997.0 1441.9L989.8 1449.3L982.4 1455.4" fill="none" stroke="#fff" stroke-opacity="0.39" stroke-width="6.6" stroke-linecap="round" stroke-linejoin="round"/><circle cx="995.4" cy="1442.8" r="7.9" fill="#fff" fill-opacity="0.14"/><polygon points="1172.7,1452.2 1168.8,1443.7 1172.3,1432.9 1183.6,1431.7 1193.7,1435.0 1198.9,1444.6 1192.8,1453.0 1188.5,1464.0 1177.1,1461.2" fill="#fff" fill-opacity="0.46"/><path d="M1183.0 1446.8L1195.9 1449.2L1207.0 1451.1M1183.0 1446.8L1188.8 1455.3L1192.3 1461.5M1183.0 1446.8L1178.2 1457.1L1174.5 1464.7M1183.0 1446.8L1171.3 1452.9L1162.2 1456.7M1183.0 1446.8L1171.4 1442.2L1161.5 1440.0M1183.0 1446.8L1182.7 1435.6L1181.0 1426.4M1183.0 1446.8L1188.4 1438.5L1191.2 1431.5" fill="none" stroke="#fff" stroke-opacity="0.39" stroke-width="6.1" stroke-linecap="round" stroke-linejoin="round"/><circle cx="1181.8" cy="1446.9" r="7.3" fill="#fff" fill-opacity="0.14"/><polygon points="1132.0,1474.4 1135.4,1466.6 1136.4,1459.3 1142.9,1454.3 1151.5,1454.1 1158.7,1459.2 1163.1,1467.3 1158.2,1475.0 1151.8,1478.5 1145.5,1483.1 1139.2,1478.7" fill="#fff" fill-opacity="0.46"/><path d="M1146.3 1468.8L1132.5 1471.9L1121.0 1473.3M1146.3 1468.8L1136.6 1462.9L1127.9 1458.3M1146.3 1468.8L1146.9 1456.8L1147.6 1446.9M1146.3 1468.8L1156.5 1460.1L1163.9 1452.0M1146.3 1468.8L1160.6 1470.1L1172.3 1471.3M1146.3 1468.8L1152.8 1478.3L1159.1 1484.7M1146.3 1468.8L1147.4 1478.5L1146.3 1486.4M1146.3 1468.8L1138.2 1479.5L1129.8 1488.2" fill="none" stroke="#fff" stroke-opacity="0.39" stroke-width="6.1" stroke-linecap="round" stroke-linejoin="round"/><circle cx="1146.4" cy="1467.7" r="7.3" fill="#fff" fill-opacity="0.14"/><polygon points="1367.4,1502.2 1354.3,1501.3 1346.6,1491.2 1351.7,1481.1 1357.5,1474.1 1368.2,1472.3 1374.4,1481.4 1373.5,1491.6" fill="#fff" fill-opacity="0.46"/><path d="M1361.7 1485.9L1353.1 1479.2L1344.4 1473.6M1361.7 1485.9L1363.3 1476.6L1363.5 1468.8M1361.7 1485.9L1369.2 1477.2L1374.7 1468.5M1361.7 1485.9L1372.5 1485.3L1381.4 1485.9M1361.7 1485.9L1371.6 1495.9L1378.3 1502.7M1361.7 1485.9L1357.3 1498.1L1355.3 1508.6M1361.7 1485.9L1351.0 1495.8L1344.1 1502.4M1361.7 1485.9L1351.7 1482.2L1342.8 1480.4" fill="none" stroke="#fff" stroke-opacity="0.39" stroke-width="6.1" stroke-linecap="round" stroke-linejoin="round"/><circle cx="1361.3" cy="1484.5" r="7.3" fill="#fff" fill-opacity="0.14"/><polygon points="1325.5,1486.8 1331.5,1495.5 1329.6,1505.1 1326.8,1513.0 1320.6,1521.3 1311.7,1515.0 1304.4,1512.5 1301.8,1505.0 1298.6,1495.6 1306.0,1488.9 1315.1,1485.2" fill="#fff" fill-opacity="0.46"/><path d="M1315.2 1503.1L1304.0 1515.2L1295.0 1523.1M1315.2 1503.1L1304.8 1502.4L1296.4 1500.7M1315.2 1503.1L1307.1 1491.1L1298.6 1480.8M1315.2 1503.1L1318.8 1491.8L1319.3 1482.0M1315.2 1503.1L1323.1 1494.5L1329.2 1488.3M1315.2 1503.1L1325.8 1500.6L1335.2 1498.4M1315.2 1503.1L1326.3 1514.2L1334.4 1523.4M1315.2 1503.1L1318.9 1514.7L1319.5 1524.9" fill="none" stroke="#fff" stroke-opacity="0.39" stroke-width="6.6" stroke-linecap="round" stroke-linejoin="round"/><circle cx="1315.1" cy="1501.2" r="7.9" fill="#fff" fill-opacity="0.14"/><polygon points="1147.5,1508.7 1151.2,1517.6 1157.9,1527.2 1148.3,1533.6 1140.0,1536.9 1132.1,1533.8 1127.1,1527.5 1122.1,1518.5 1129.5,1511.5 1137.6,1504.6" fill="#fff" fill-opacity="0.46"/><path d="M1139.0 1522.6L1143.6 1511.9L1148.5 1504.2M1139.0 1522.6L1152.2 1518.2L1164.0 1513.6M1139.0 1522.6L1152.2 1526.6L1163.1 1527.6M1139.0 1522.6L1146.3 1532.5L1150.6 1541.1M1139.0 1522.6L1134.5 1532.6L1128.9 1541.6M1139.0 1522.6L1128.1 1525.3L1119.3 1526.9M1139.0 1522.6L1125.1 1521.1L1114.2 1517.3M1139.0 1522.6L1131.7 1508.2L1126.4 1497.4" fill="none" stroke="#fff" stroke-opacity="0.39" stroke-width="6.6" stroke-linecap="round" stroke-linejoin="round"/><circle cx="1137.1" cy="1521.7" r="7.9" fill="#fff" fill-opacity="0.14"/><polygon points="1328.7,1560.6 1331.8,1552.0 1341.6,1544.0 1352.5,1551.4 1355.2,1563.5 1348.1,1572.3 1338.0,1577.0 1330.7,1569.0" fill="#fff" fill-opacity="0.46"/><path d="M1339.6 1561.8L1350.7 1569.1L1361.3 1573.2M1339.6 1561.8L1345.6 1569.3L1349.7 1576.2M1339.6 1561.8L1332.9 1574.0L1328.0 1584.3M1339.6 1561.8L1329.9 1568.8L1321.6 1574.4M1339.6 1561.8L1326.4 1560.2L1315.2 1560.3M1339.6 1561.8L1332.1 1554.8L1327.5 1547.8M1339.6 1561.8L1340.2 1550.1L1343.3 1540.3M1339.6 1561.8L1350.0 1556.1L1358.8 1550.0" fill="none" stroke="#fff" stroke-opacity="0.39" stroke-width="6.1" stroke-linecap="round" stroke-linejoin="round"/><circle cx="1340.5" cy="1562.8" r="7.3" fill="#fff" fill-opacity="0.14"/><polygon points="1029.2,1581.1 1025.7,1572.7 1027.1,1563.5 1034.3,1555.9 1045.8,1556.0 1055.5,1563.6 1050.7,1574.8 1047.1,1583.7 1037.2,1588.4" fill="#fff" fill-opacity="0.46"/><path d="M1038.6 1571.6L1041.7 1560.6L1042.6 1551.7M1038.6 1571.6L1049.3 1563.1L1058.1 1555.2M1038.6 1571.6L1050.8 1567.5L1060.5 1562.6M1038.6 1571.6L1052.9 1574.5L1064.5 1580.0M1038.6 1571.6L1045.9 1582.3L1052.8 1592.0M1038.6 1571.6L1040.3 1586.6L1040.5 1598.8M1038.6 1571.6L1029.0 1580.4L1023.0 1587.7M1038.6 1571.6L1026.0 1573.9L1015.8 1574.7M1038.6 1571.6L1023.8 1568.8L1012.1 1563.2M1038.6 1571.6L1031.3 1563.5L1024.1 1555.6" fill="none" stroke="#fff" stroke-opacity="0.39" stroke-width="6.6" stroke-linecap="round" stroke-linejoin="round"/><circle cx="1041.3" cy="1572.3" r="7.9" fill="#fff" fill-opacity="0.14"/><polygon points="1313.2,1580.8 1312.8,1588.9 1312.1,1596.4 1306.0,1601.3 1297.8,1606.0 1289.2,1601.4 1283.0,1593.6 1288.4,1585.0 1288.4,1574.4 1298.4,1572.3 1307.9,1573.1" fill="#fff" fill-opacity="0.46"/><path d="M1300.5 1588.7L1287.8 1580.5L1277.7 1571.5M1300.5 1588.7L1298.0 1576.2L1293.4 1565.5M1300.5 1588.7L1305.3 1576.3L1312.0 1567.2M1300.5 1588.7L1311.3 1585.7L1320.6 1581.6M1300.5 1588.7L1313.5 1591.2L1324.0 1594.4M1300.5 1588.7L1310.5 1597.5L1318.5 1603.3M1300.5 1588.7L1299.1 1601.5L1299.4 1611.9M1300.5 1588.7L1295.3 1597.7L1288.8 1606.7M1300.5 1588.7L1289.5 1595.9L1279.1 1600.9M1300.5 1588.7L1288.3 1588.0L1278.3 1585.4" fill="none" stroke="#fff" stroke-opacity="0.39" stroke-width="6.6" stroke-linecap="round" stroke-linejoin="round"/><circle cx="1300.3" cy="1590.9" r="7.9" fill="#fff" fill-opacity="0.14"/><polygon points="1404.0,1583.3 1401.9,1593.8 1397.8,1602.3 1388.6,1601.3 1380.8,1597.4 1377.8,1587.9 1382.6,1577.3 1393.6,1580.7" fill="#fff" fill-opacity="0.46"/><path d="M1391.0 1591.2L1385.8 1579.5L1379.0 1570.6M1391.0 1591.2L1394.7 1580.4L1399.2 1571.8M1391.0 1591.2L1399.9 1588.5L1407.2 1586.8M1391.0 1591.2L1403.7 1593.2L1413.5 1596.9M1391.0 1591.2L1392.5 1603.4L1392.6 1613.7M1391.0 1591.2L1388.0 1598.9L1383.8 1605.8M1391.0 1591.2L1378.5 1589.7L1368.4 1586.9" fill="none" stroke="#fff" stroke-opacity="0.39" stroke-width="5.5" stroke-linecap="round" stroke-linejoin="round"/><circle cx="1389.9" cy="1590.0" r="6.6" fill="#fff" fill-opacity="0.14"/><polygon points="1067.8,1636.1 1068.8,1624.6 1079.5,1620.6 1090.2,1616.3 1100.3,1622.9 1103.1,1634.3 1097.5,1643.2 1091.6,1652.2 1080.8,1651.4 1070.3,1647.2" fill="#fff" fill-opacity="0.46"/><path d="M1085.1 1635.2L1073.5 1645.3L1063.6 1653.3M1085.1 1635.2L1072.8 1640.0L1063.4 1644.4M1085.1 1635.2L1072.6 1632.3L1061.9 1630.8M1085.1 1635.2L1076.7 1625.6L1070.1 1619.2M1085.1 1635.2L1085.0 1623.1L1085.4 1613.1M1085.1 1635.2L1088.8 1624.2L1094.1 1614.6M1085.1 1635.2L1097.7 1628.0L1107.1 1623.9M1085.1 1635.2L1094.7 1638.4L1102.7 1643.2M1085.1 1635.2L1089.7 1644.7L1092.9 1652.6M1085.1 1635.2L1082.5 1649.3L1079.0 1660.2" fill="none" stroke="#fff" stroke-opacity="0.39" stroke-width="6.6" stroke-linecap="round" stroke-linejoin="round"/><circle cx="1085.9" cy="1638.1" r="7.9" fill="#fff" fill-opacity="0.14"/><polygon points="1243.1,1628.2 1247.1,1617.4 1258.8,1617.0 1269.0,1623.0 1268.3,1634.4 1267.7,1644.1 1259.9,1650.3 1249.0,1654.1 1243.7,1643.6 1240.5,1636.0" fill="#fff" fill-opacity="0.46"/><path d="M1254.0 1635.2L1264.4 1627.2L1272.3 1621.0M1254.0 1635.2L1267.2 1636.3L1278.4 1637.8M1254.0 1635.2L1265.7 1639.5L1275.2 1644.7M1254.0 1635.2L1255.3 1647.6L1258.6 1658.3M1254.0 1635.2L1252.8 1648.5L1249.8 1659.2M1254.0 1635.2L1240.0 1637.7L1228.8 1642.3M1254.0 1635.2L1238.9 1630.5L1227.6 1625.4M1254.0 1635.2L1246.1 1629.6L1238.3 1622.9M1254.0 1635.2L1254.0 1620.2L1254.6 1607.9" fill="none" stroke="#fff" stroke-opacity="0.39" stroke-width="6.6" stroke-linecap="round" stroke-linejoin="round"/><circle cx="1252.9" cy="1636.8" r="7.9" fill="#fff" fill-opacity="0.14"/><polygon points="1317.5,1652.0 1309.8,1647.7 1309.8,1638.8 1315.0,1632.0 1322.2,1627.5 1329.1,1632.4 1338.8,1632.8 1336.3,1642.1 1337.5,1649.9 1332.2,1656.8 1323.4,1657.8" fill="#fff" fill-opacity="0.46"/><path d="M1325.0 1642.5L1331.4 1634.0L1334.9 1627.2M1325.0 1642.5L1336.9 1636.9L1345.8 1633.4M1325.0 1642.5L1335.3 1649.1L1344.4 1653.8M1325.0 1642.5L1325.1 1653.0L1327.0 1661.4M1325.0 1642.5L1321.2 1652.7L1318.6 1660.6M1325.0 1642.5L1313.4 1644.6L1304.0 1643.7M1325.0 1642.5L1314.3 1640.2L1305.6 1636.6M1325.0 1642.5L1321.9 1630.9L1320.9 1621.4" fill="none" stroke="#fff" stroke-opacity="0.39" stroke-width="6.1" stroke-linecap="round" stroke-linejoin="round"/><circle cx="1326.4" cy="1642.2" r="7.3" fill="#fff" fill-opacity="0.14"/><polygon points="1074.4,1493.0 1078.9,1493.0 1080.2,1497.3 1081.8,1502.7 1076.3,1503.7 1072.4,1502.4 1067.4,1499.6 1071.0,1495.2" fill="#fff" fill-opacity="0.46"/><path d="M1075.3 1498.2L1070.7 1499.7L1067.0 1501.2M1075.3 1498.2L1071.0 1497.6L1067.4 1497.8M1075.3 1498.2L1072.4 1494.0L1070.5 1490.5M1075.3 1498.2L1076.2 1492.2L1076.8 1487.2M1075.3 1498.2L1080.1 1496.0L1084.0 1493.9M1075.3 1498.2L1080.9 1500.3L1085.6 1501.9M1075.3 1498.2L1077.8 1502.8L1079.3 1506.8M1075.3 1498.2L1074.6 1504.5L1072.9 1509.7" fill="none" stroke="#fff" stroke-opacity="0.39" stroke-width="2.8" stroke-linecap="round" stroke-linejoin="round"/><circle cx="1075.6" cy="1497.5" r="3.3" fill="#fff" fill-opacity="0.14"/><polygon points="1241.6,1500.0 1243.1,1503.8 1241.4,1508.0 1237.1,1508.4 1233.6,1507.4 1229.5,1504.7 1231.5,1500.3 1233.9,1496.1 1238.4,1497.9" fill="#fff" fill-opacity="0.46"/><path d="M1236.9 1503.1L1241.9 1504.6L1246.4 1506.9M1236.9 1503.1L1237.7 1509.3L1238.7 1514.3M1236.9 1503.1L1232.6 1507.2L1229.4 1511.6M1236.9 1503.1L1232.3 1504.9L1228.6 1506.2M1236.9 1503.1L1233.0 1501.1L1229.4 1500.3M1236.9 1503.1L1235.8 1498.5L1235.1 1494.8M1236.9 1503.1L1239.1 1499.0L1241.3 1495.5M1236.9 1503.1L1242.9 1501.3L1247.5 1498.8" fill="none" stroke="#fff" stroke-opacity="0.39" stroke-width="2.8" stroke-linecap="round" stroke-linejoin="round"/><circle cx="1236.8" cy="1503.6" r="3.3" fill="#fff" fill-opacity="0.14"/>
</g>

<rect x="983.3" y="1241.2" width="419.0" height="417.5" fill="none" stroke="#000" stroke-width="2.0"/>
<path d="M983.30 1241.2v-13M983.3 1658.70h-13M1402.3 1658.70h13M983.30 1658.7v13M1004.25 1241.2v-6.5M983.3 1637.83h-6.5M1402.3 1637.83h6.5M1004.25 1658.7v6.5M1025.20 1241.2v-13M983.3 1616.95h-13M1402.3 1616.95h13M1025.20 1658.7v13M1046.15 1241.2v-6.5M983.3 1596.08h-6.5M1402.3 1596.08h6.5M1046.15 1658.7v6.5M1067.10 1241.2v-13M983.3 1575.20h-13M1402.3 1575.20h13M1067.10 1658.7v13M1088.05 1241.2v-6.5M983.3 1554.33h-6.5M1402.3 1554.33h6.5M1088.05 1658.7v6.5M1109.00 1241.2v-13M983.3 1533.45h-13M1402.3 1533.45h13M1109.00 1658.7v13M1129.95 1241.2v-6.5M983.3 1512.58h-6.5M1402.3 1512.58h6.5M1129.95 1658.7v6.5M1150.90 1241.2v-13M983.3 1491.70h-13M1402.3 1491.70h13M1150.90 1658.7v13M1171.85 1241.2v-6.5M983.3 1470.83h-6.5M1402.3 1470.83h6.5M1171.85 1658.7v6.5M1192.80 1241.2v-13M983.3 1449.95h-13M1402.3 1449.95h13M1192.80 1658.7v13M1213.75 1241.2v-6.5M983.3 1429.08h-6.5M1402.3 1429.08h6.5M1213.75 1658.7v6.5M1234.70 1241.2v-13M983.3 1408.20h-13M1402.3 1408.20h13M1234.70 1658.7v13M1255.65 1241.2v-6.5M983.3 1387.33h-6.5M1402.3 1387.33h6.5M1255.65 1658.7v6.5M1276.60 1241.2v-13M983.3 1366.45h-13M1402.3 1366.45h13M1276.60 1658.7v13M1297.55 1241.2v-6.5M983.3 1345.58h-6.5M1402.3 1345.58h6.5M1297.55 1658.7v6.5M1318.50 1241.2v-13M983.3 1324.70h-13M1402.3 1324.70h13M1318.50 1658.7v13M1339.45 1241.2v-6.5M983.3 1303.83h-6.5M1402.3 1303.83h6.5M1339.45 1658.7v6.5M1360.40 1241.2v-13M983.3 1282.95h-13M1402.3 1282.95h13M1360.40 1658.7v13M1381.35 1241.2v-6.5M983.3 1262.08h-6.5M1402.3 1262.08h6.5M1381.35 1658.7v6.5M1402.30 1241.2v-13M983.3 1241.20h-13M1402.3 1241.20h13M1402.30 1658.7v13" stroke="#000" stroke-width="2.0" fill="none"/>
<text x="968.0" y="1589.3" font-size="38" text-anchor="end" font-weight="normal" fill="#000" >2</text>
<text x="968.0" y="1505.8" font-size="38" text-anchor="end" font-weight="normal" fill="#000" >4</text>
<text x="968.0" y="1422.3" font-size="38" text-anchor="end" font-weight="normal" fill="#000" >6</text>
<text x="968.0" y="1338.8" font-size="38" text-anchor="end" font-weight="normal" fill="#000" >8</text>
<text x="968.0" y="1255.3" font-size="38" text-anchor="end" font-weight="normal" fill="#000" >10</text>
<text x="983.3" y="1706.3" font-size="38" text-anchor="middle" font-weight="normal" fill="#000" >0</text>
<text x="1067.1" y="1706.3" font-size="38" text-anchor="middle" font-weight="normal" fill="#000" >2</text>
<text x="1150.9" y="1706.3" font-size="38" text-anchor="middle" font-weight="normal" fill="#000" >4</text>
<text x="1234.7" y="1706.3" font-size="38" text-anchor="middle" font-weight="normal" fill="#000" >6</text>
<text x="1318.5" y="1706.3" font-size="38" text-anchor="middle" font-weight="normal" fill="#000" >8</text>
<text x="1402.3" y="1706.3" font-size="38" text-anchor="middle" font-weight="normal" fill="#000" >10</text>
<text x="925.1" y="1212.8" font-size="32.5" text-anchor="start" font-weight="normal" fill="#000" >μm</text>
<text x="1426.0" y="1703.8" font-size="32.5" text-anchor="start" font-weight="normal" fill="#000" >μm</text>
<linearGradient id="g6" x1="0" y1="1" x2="0" y2="0">
<stop offset="0.000" stop-color="#080200"/>
<stop offset="0.025" stop-color="#140400"/>
<stop offset="0.050" stop-color="#1f0501"/>
<stop offset="0.075" stop-color="#2a0601"/>
<stop offset="0.100" stop-color="#360802"/>
<stop offset="0.125" stop-color="#3e0802"/>
<stop offset="0.150" stop-color="#450701"/>
<stop offset="0.175" stop-color="#4c0601"/>
<stop offset="0.200" stop-color="#540600"/>
<stop offset="0.225" stop-color="#5a0600"/>
<stop offset="0.250" stop-color="#600500"/>
<stop offset="0.275" stop-color="#660400"/>
<stop offset="0.300" stop-color="#6c0400"/>
<stop offset="0.325" stop-color="#700b00"/>
<stop offset="0.350" stop-color="#731200"/>
<stop offset="0.375" stop-color="#761900"/>
<stop offset="0.400" stop-color="#7a2000"/>
<stop offset="0.425" stop-color="#7f2a02"/>
<stop offset="0.450" stop-color="#843404"/>
<stop offset="0.475" stop-color="#8a3e06"/>
<stop offset="0.500" stop-color="#8f4808"/>
<stop offset="0.525" stop-color="#955108"/>
<stop offset="0.550" stop-color="#9c5a08"/>
<stop offset="0.575" stop-color="#a26308"/>
<stop offset="0.600" stop-color="#a86c08"/>
<stop offset="0.625" stop-color="#ad7607"/>
<stop offset="0.650" stop-color="#b28106"/>
<stop offset="0.675" stop-color="#b88b06"/>
<stop offset="0.700" stop-color="#bd9505"/>
<stop offset="0.725" stop-color="#c29e18"/>
<stop offset="0.750" stop-color="#c6a62a"/>
<stop offset="0.775" stop-color="#cbaf3d"/>
<stop offset="0.800" stop-color="#d0b850"/>
<stop offset="0.825" stop-color="#d5c066"/>
<stop offset="0.850" stop-color="#dbc87c"/>
<stop offset="0.875" stop-color="#e0d092"/>
<stop offset="0.900" stop-color="#e6d8a8"/>
<stop offset="0.925" stop-color="#ece0bb"/>
<stop offset="0.950" stop-color="#f1e9ce"/>
<stop offset="0.975" stop-color="#f6f2e1"/>
<stop offset="1.000" stop-color="#fcfaf4"/>
</linearGradient>
<rect x="1491.8" y="1216.6" width="34.299999999999955" height="469.3000000000002" fill="url(#g6)" stroke="#000" stroke-width="2.0"/>
<path d="M1526.1 1685.60h13M1526.1 1650.20h6M1526.1 1614.80h13M1526.1 1579.40h6M1526.1 1544.00h13M1526.1 1508.60h6M1526.1 1473.20h13M1526.1 1437.80h6M1526.1 1402.40h13M1526.1 1367.00h6M1526.1 1331.60h13M1526.1 1296.20h6M1526.1 1260.80h13M1526.1 1225.40h6" stroke="#000" stroke-width="2.0" fill="none"/>
<text x="1552.0" y="1220.8" font-size="31.5" text-anchor="start" font-weight="normal" fill="#000" >nm</text>
<text x="1546.5" y="1699.2" font-size="38" text-anchor="start" font-weight="normal" fill="#000" >0</text>
<text x="1546.5" y="1557.6" font-size="38" text-anchor="start" font-weight="normal" fill="#000" >4</text>
<text x="1546.5" y="1416.0" font-size="38" text-anchor="start" font-weight="normal" fill="#000" >8</text>
<text x="1539.0" y="1274.4" font-size="38" text-anchor="start" font-weight="normal" fill="#000" >12</text>
<text x="4.0" y="1825.5" font-size="45" text-anchor="start" font-weight="normal" fill="#000" >b)</text>
<path d="M316.5 2432.8V1809.6H1229.4" stroke="#000" stroke-width="5" fill="none" stroke-linecap="square"/>
<path d="M314.0 2432.8H1229.4" stroke="#000" stroke-width="5.2" fill="none"/>
<path d="M391.8 2432.8v13.5M391.8 1809.6v12.5M543.6 2432.8v13.5M543.6 1809.6v12.5M696.0 2432.8v13.5M696.0 1809.6v12.5M848.6 2432.8v13.5M848.6 1809.6v12.5M1000.4 2432.8v13.5M1000.4 1809.6v12.5M1152.6 2432.8v13.5M1152.6 1809.6v12.5" stroke="#000" stroke-width="4.4" fill="none"/>
<text x="391.3" y="2482.5" font-size="38.5" text-anchor="middle" font-weight="normal" fill="#000" >0</text>
<text x="543.1" y="2482.5" font-size="38.5" text-anchor="middle" font-weight="normal" fill="#000" >30</text>
<text x="695.5" y="2482.5" font-size="38.5" text-anchor="middle" font-weight="normal" fill="#000" >300</text>
<text x="848.1" y="2482.5" font-size="38.5" text-anchor="middle" font-weight="normal" fill="#000" >0</text>
<text x="999.9" y="2482.5" font-size="38.5" text-anchor="middle" font-weight="normal" fill="#000" >30</text>
<text x="1152.1" y="2482.5" font-size="38.5" text-anchor="middle" font-weight="normal" fill="#000" >300</text>
<path d="M316.5 2410.6h-13M316.5 2260.4h-13M316.5 2110.2h-13M316.5 1960.0h-13M316.5 1809.8h-13M316.5 2335.5h-7.5M316.5 2185.3h-7.5M316.5 2035.1h-7.5M316.5 1884.9h-7.5" stroke="#000" stroke-width="4.4" fill="none"/>
<text x="294.5" y="2421.9" font-size="38.5" text-anchor="end" font-weight="normal" fill="#000" >2</text>
<text x="294.5" y="2271.7" font-size="38.5" text-anchor="end" font-weight="normal" fill="#000" >4</text>
<text x="294.5" y="2121.5" font-size="38.5" text-anchor="end" font-weight="normal" fill="#000" >6</text>
<text x="294.5" y="1971.3" font-size="38.5" text-anchor="end" font-weight="normal" fill="#000" >8</text>
<text x="294.5" y="1821.1" font-size="38.5" text-anchor="end" font-weight="normal" fill="#000" >10</text>
<line x1="772.6" y1="1812" x2="776.2" y2="2431" stroke="#858585" stroke-width="4.6" stroke-dasharray="11.6 7.4"/>
<path d="M1229.4 1807.1V2435.4" stroke="#31619d" stroke-width="4.6" fill="none"/>
<path d="M1229.4 2433.0h11.5M1229.4 2277.2h11.5M1229.4 2121.4h11.5M1229.4 1965.6h11.5M1229.4 1809.8h11.5M1229.4 2355.1h6.5M1229.4 2199.3h6.5M1229.4 2043.5h6.5M1229.4 1887.7h6.5" stroke="#31619d" stroke-width="4.4" fill="none"/>
<text x="1250.0" y="2444.3" font-size="38.5" text-anchor="start" font-weight="normal" fill="#31619d" >0</text>
<text x="1250.0" y="2288.5" font-size="38.5" text-anchor="start" font-weight="normal" fill="#31619d" >2</text>
<text x="1250.0" y="2132.7" font-size="38.5" text-anchor="start" font-weight="normal" fill="#31619d" >4</text>
<text x="1250.0" y="1976.9" font-size="38.5" text-anchor="start" font-weight="normal" fill="#31619d" >6</text>
<text x="1250.0" y="1821.1" font-size="38.5" text-anchor="start" font-weight="normal" fill="#31619d" >8</text>
<path d="M1383.6 1807.1V2435.4" stroke="#3ba764" stroke-width="4.6" fill="none"/>
<path d="M1383.6 2412.5h12.5M1383.6 2287.5h12.5M1383.6 2162.5h12.5M1383.6 2037.5h12.5M1383.6 1912.6h12.5M1383.6 2350.0h6.5M1383.6 2225.0h6.5M1383.6 2100.0h6.5M1383.6 1975.0h6.5M1383.6 1850.1h6.5" stroke="#3ba764" stroke-width="4.4" fill="none"/>
<text x="1404.5" y="2424.8" font-size="38.5" text-anchor="start" font-weight="normal" fill="#3ba764" >-6</text>
<text x="1404.5" y="2299.8" font-size="38.5" text-anchor="start" font-weight="normal" fill="#3ba764" >0</text>
<text x="1404.5" y="2174.8" font-size="38.5" text-anchor="start" font-weight="normal" fill="#3ba764" >6</text>
<text x="1404.5" y="2049.8" font-size="38.5" text-anchor="start" font-weight="normal" fill="#3ba764" >12</text>
<text x="1404.5" y="1924.9" font-size="38.5" text-anchor="start" font-weight="normal" fill="#3ba764" >18</text>
<text x="321.0" y="1866.5" font-size="39.7" text-anchor="start" font-weight="normal" fill="#000" >Before functionalization</text>
<text x="790.5" y="1866.4" font-size="39.7" text-anchor="start" font-weight="normal" fill="#000" >After functionalization</text>
<text x="790.5" y="1916.0" font-size="39.7" text-anchor="start" font-weight="normal" fill="#000" >DSP concentration</text>
<text x="790.5" y="1970.6" font-size="39.7">(4 mg mL<tspan font-size="26" dy="-15">-1</tspan><tspan dy="15">)</tspan></text>
<text x="651" y="2535.5" font-size="40.5">O<tspan font-size="26.5" dy="10.5">2</tspan><tspan dy="-10.5"> plasma (s)</tspan></text>
<text transform="translate(233.7,2294) rotate(-90)" font-size="39.7">RMS roughness (Sq) (nm)</text>
<text transform="translate(1320.3,2278) rotate(-90)" font-size="39.7" fill="#31619d">Ra roughness (Sa) (nm)</text>
<text transform="translate(1495.3,2225) rotate(-90)" font-size="39.7" fill="#3ba764">Mean Height (nm)</text>
<path d="M219.3 2316.8V2336.6M219.3 2380.9V2401.1" stroke="#000" stroke-width="4.6"/>
<rect x="209.6" y="2343.9" width="19.4" height="19.4" fill="#fff" stroke="#000" stroke-width="3.3"/><circle cx="219.3" cy="2353.6" r="1.3"/>
<path d="M1307 2304.7V2322.8M1307 2368.6V2387.2" stroke="#31619d" stroke-width="4.2"/><circle cx="1307" cy="2340.8" r="12.6" fill="#31619d"/>
<path d="M1481.4 2249V2272M1481.4 2313V2334" stroke="#3ba764" stroke-width="4.2"/><path d="M1481.4 2269.5L1496.7 2295.2H1466.1Z" fill="#3ba764"/>
<path d="M408.1 2340.4L528.8 2284.4M559.8 2269.0L680.9 2204.6" stroke="#000" stroke-width="4.8" stroke-dasharray="21.5 21.5" fill="none"/>
<path d="M408.4 2271.7L528.5 2221.6M560.2 2207.6L680.5 2151.5" stroke="#000" stroke-width="4.8" stroke-dasharray="21.5 21.5" fill="none"/>
<path d="M406.6 2207.9L530.3 2122.4M555.7 2099.4L685.0 1947.3" stroke="#3ba764" stroke-width="4.0" stroke-dasharray="21.5 21.5" fill="none"/>
<path d="M865.0 2385.7L984.2 2346.5M1017.1 2336.0L1136.3 2299.0" stroke="#000" stroke-width="4.8" stroke-dasharray="21.5 21.5" fill="none"/>
<path d="M864.9 2301.1L984.3 2258.6M1017.0 2247.3L1136.4 2207.7" stroke="#000" stroke-width="4.8" stroke-dasharray="21.5 21.5" fill="none"/>
<path d="M865.9 2174.3L983.3 2173.7M1017.7 2170.7L1135.7 2150.4" stroke="#3ba764" stroke-width="4.0" stroke-dasharray="21.5 21.5" fill="none"/>
<path d="M392.4 2335.2V2360.2" stroke="#000" stroke-width="4.2"/>
<rect x="382.0" y="2337.3" width="20.8" height="20.8" fill="#fff" stroke="#000" stroke-width="3.2"/>
<path d="M384.15 2345.7h16.5M384.15 2349.7h16.5" stroke="#000" stroke-width="4.2" fill="none"/>
<path d="M392.4 2334.7V2360.7" stroke="#000" stroke-width="4.2"/>
<path d="M544.5 2233.4V2320.2" stroke="#000" stroke-width="4.2"/>
<rect x="534.1" y="2266.7" width="20.8" height="20.8" fill="#fff" stroke="#000" stroke-width="3.2"/>
<path d="M536.25 2233.4h16.5M536.25 2320.2h16.5" stroke="#000" stroke-width="4.2" fill="none"/>
<circle cx="544.5" cy="2277.1" r="1.3"/>
<path d="M696.2 2184.0V2209.0" stroke="#000" stroke-width="4.2"/>
<rect x="685.8000000000001" y="2186.1" width="20.8" height="20.8" fill="#fff" stroke="#000" stroke-width="3.2"/>
<path d="M687.95 2189.0h16.5M687.95 2204.0h16.5" stroke="#000" stroke-width="4.2" fill="none"/>
<circle cx="696.2" cy="2196.5" r="1.3"/>
<path d="M848.6 2378.6V2403.6" stroke="#000" stroke-width="4.2"/>
<rect x="838.2" y="2380.7" width="20.8" height="20.8" fill="#fff" stroke="#000" stroke-width="3.2"/>
<path d="M840.35 2384.1h16.5M840.35 2398.1h16.5" stroke="#000" stroke-width="4.2" fill="none"/>
<circle cx="848.6" cy="2391.1" r="1.3"/>
<path d="M1000.6 2328.6V2353.6" stroke="#000" stroke-width="4.2"/>
<rect x="990.2" y="2330.7" width="20.8" height="20.8" fill="#fff" stroke="#000" stroke-width="3.2"/>
<path d="M992.35 2333.1h16.5M992.35 2349.1h16.5" stroke="#000" stroke-width="4.2" fill="none"/>
<circle cx="1000.6" cy="2341.1" r="1.3"/>
<path d="M1152.8 2281.4V2306.4" stroke="#000" stroke-width="4.2"/>
<rect x="1142.3999999999999" y="2283.5" width="20.8" height="20.8" fill="#fff" stroke="#000" stroke-width="3.2"/>
<path d="M1144.55 2282.9h16.5M1144.55 2304.9h16.5" stroke="#000" stroke-width="4.2" fill="none"/>
<circle cx="1152.8" cy="2293.9" r="1.3"/>
<circle cx="392.4" cy="2278.4" r="12.7" fill="#31619d"/>
<path d="M392.4 2199.7L407.59999999999997 2226.7H377.2Z" fill="#3ba764"/>
<path d="M544.5 2184.5V2245.3M536.0 2184.5h17M536.0 2245.3h17" stroke="#31619d" stroke-width="4" fill="none"/>
<circle cx="544.5" cy="2214.9" r="12.7" fill="#31619d"/>
<path d="M544.5 2091.1V2131.6M536.25 2091.1h16.5M536.25 2131.6h16.5" stroke="#3ba764" stroke-width="3.6" fill="none"/>
<path d="M544.5 2094.6L559.7 2121.6H529.3Z" fill="#3ba764"/>
<circle cx="696.2" cy="2144.2" r="12.7" fill="#31619d"/>
<path d="M696.2 1921.1V1946.1M687.95 1921.1h16.5M687.95 1946.1h16.5" stroke="#3ba764" stroke-width="3.6" fill="none"/>
<path d="M696.2 1916.1L711.4000000000001 1943.1H681.0Z" fill="#3ba764"/>
<circle cx="848.6" cy="2306.9" r="12.7" fill="#31619d"/>
<path d="M848.6 2156.4L863.8000000000001 2183.4H833.4Z" fill="#3ba764"/>
<circle cx="1000.6" cy="2252.8" r="12.7" fill="#31619d"/>
<path d="M1000.6 2155.6L1015.8000000000001 2182.6H985.4Z" fill="#3ba764"/>
<path d="M1152.8 2189.4V2215.2M1144.3 2189.4h17M1144.3 2215.2h17" stroke="#31619d" stroke-width="4" fill="none"/>
<circle cx="1152.8" cy="2202.2" r="12.7" fill="#31619d"/>
<path d="M1152.8 2129.5L1168.0 2156.5H1137.6Z" fill="#3ba764"/>
</svg></body></html>
